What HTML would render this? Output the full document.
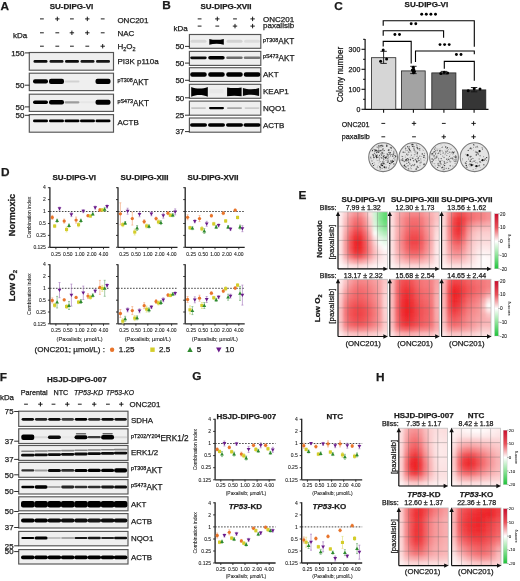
<!DOCTYPE html>
<html><head><meta charset="utf-8"><title>Figure</title>
<style>html,body{margin:0;padding:0;background:#fff;width:520px;height:581px;overflow:hidden}svg{display:block}.hc1 rect{width:5.34px;height:5.15px}.hc2 rect{width:5.34px;height:5.15px}.hc3 rect{width:5.34px;height:5.15px}.hc4 rect{width:5.34px;height:5.17px}.hc5 rect{width:5.34px;height:5.17px}.hc6 rect{width:5.34px;height:5.17px}.hc7 rect{width:5.28px;height:5.22px}.hc8 rect{width:5.28px;height:5.22px}.hc9 rect{width:5.34px;height:5.21px}.hc10 rect{width:5.34px;height:5.21px}text{font-family:'Liberation Sans', Arial, sans-serif;fill:#1a1a1a;stroke:#1a1a1a;stroke-width:0.25px}</style>
</head><body>
<svg width="520" height="581" viewBox="0 0 520 581">
<defs>
<filter id="bl" x="-20%" y="-100%" width="140%" height="300%"><feGaussianBlur stdDeviation="0.55"/></filter>
<filter id="hb" x="-10%" y="-10%" width="120%" height="120%"><feGaussianBlur stdDeviation="1.6"/></filter>
<linearGradient id="cbg" x1="0" y1="0" x2="0" y2="1">
<stop offset="0" stop-color="#c8102e"/><stop offset="0.25" stop-color="#e8525a"/><stop offset="0.5" stop-color="#ffffff"/><stop offset="0.75" stop-color="#8fe39a"/><stop offset="1" stop-color="#1ec23a"/>
</linearGradient>
</defs>
<text x="0.6" y="9.6" font-size="11.8" font-weight="bold" fill="#000">A</text>
<text x="49.7" y="9.2" font-size="8" font-weight="bold">SU-DIPG-VI</text>
<line x1="40.0" y1="18.9" x2="43.8" y2="18.9" stroke="#111" stroke-width="0.95"/>
<line x1="55.1" y1="18.9" x2="59.5" y2="18.9" stroke="#111" stroke-width="0.95"/>
<line x1="57.3" y1="16.7" x2="57.3" y2="21.1" stroke="#111" stroke-width="0.95"/>
<line x1="70.0" y1="18.9" x2="73.8" y2="18.9" stroke="#111" stroke-width="0.95"/>
<line x1="85.1" y1="18.9" x2="89.5" y2="18.9" stroke="#111" stroke-width="0.95"/>
<line x1="87.3" y1="16.7" x2="87.3" y2="21.1" stroke="#111" stroke-width="0.95"/>
<line x1="100.8" y1="18.9" x2="104.6" y2="18.9" stroke="#111" stroke-width="0.95"/>
<text x="117.4" y="22.6" font-size="8">ONC201</text>
<line x1="40.0" y1="32.8" x2="43.8" y2="32.8" stroke="#111" stroke-width="0.95"/>
<line x1="55.4" y1="32.8" x2="59.2" y2="32.8" stroke="#111" stroke-width="0.95"/>
<line x1="69.7" y1="32.8" x2="74.1" y2="32.8" stroke="#111" stroke-width="0.95"/>
<line x1="71.9" y1="30.6" x2="71.9" y2="35.0" stroke="#111" stroke-width="0.95"/>
<line x1="85.1" y1="32.8" x2="89.5" y2="32.8" stroke="#111" stroke-width="0.95"/>
<line x1="87.3" y1="30.6" x2="87.3" y2="35.0" stroke="#111" stroke-width="0.95"/>
<line x1="100.8" y1="32.8" x2="104.6" y2="32.8" stroke="#111" stroke-width="0.95"/>
<text x="117.4" y="35.6" font-size="8">NAC</text>
<line x1="40.0" y1="46.2" x2="43.8" y2="46.2" stroke="#111" stroke-width="0.95"/>
<line x1="55.4" y1="46.2" x2="59.2" y2="46.2" stroke="#111" stroke-width="0.95"/>
<line x1="70.0" y1="46.2" x2="73.8" y2="46.2" stroke="#111" stroke-width="0.95"/>
<line x1="85.4" y1="46.2" x2="89.2" y2="46.2" stroke="#111" stroke-width="0.95"/>
<line x1="100.5" y1="46.2" x2="104.9" y2="46.2" stroke="#111" stroke-width="0.95"/>
<line x1="102.7" y1="44.0" x2="102.7" y2="48.4" stroke="#111" stroke-width="0.95"/>
<text x="117.4" y="49.3" font-size="8">H<tspan font-size="5.5" dy="1.8">2</tspan><tspan dy="-1.8">O</tspan><tspan font-size="5.5" dy="1.8">2</tspan></text>
<text x="13.0" y="38.2" font-size="8">kDa</text>
<rect x="29.3" y="52.5" width="84.2" height="17.7" fill="#efefef" stroke="#555" stroke-width="1.15"/>
<rect x="29.3" y="73.2" width="84.2" height="17.4" fill="#efefef" stroke="#555" stroke-width="1.15"/>
<rect x="29.3" y="94.2" width="84.2" height="17.2" fill="#efefef" stroke="#555" stroke-width="1.15"/>
<rect x="29.3" y="114.6" width="84.2" height="17.6" fill="#efefef" stroke="#555" stroke-width="1.15"/>
<rect x="33.5" y="60.1" width="14.0" height="2.6" rx="1.3" fill="#000" fill-opacity="0.95" filter="url(#bl)"/>
<rect x="49.5" y="60.1" width="14.0" height="2.6" rx="1.3" fill="#000" fill-opacity="0.90" filter="url(#bl)"/>
<rect x="65.0" y="60.1" width="14.0" height="2.6" rx="1.3" fill="#000" fill-opacity="0.95" filter="url(#bl)"/>
<rect x="80.5" y="60.1" width="14.0" height="2.6" rx="1.3" fill="#000" fill-opacity="0.90" filter="url(#bl)"/>
<rect x="96.0" y="60.1" width="14.0" height="2.6" rx="1.3" fill="#000" fill-opacity="0.90" filter="url(#bl)"/>
<rect x="33.0" y="79.3" width="15.0" height="4.2" rx="2.0" fill="#000" fill-opacity="1.00" filter="url(#bl)"/>
<rect x="49.0" y="78.8" width="15.0" height="5.2" rx="2.0" fill="#000" fill-opacity="1.00" filter="url(#bl)"/>
<rect x="64.5" y="80.4" width="15.0" height="2.0" rx="1.0" fill="#000" fill-opacity="0.12" filter="url(#bl)"/>
<rect x="95.5" y="78.8" width="15.0" height="5.2" rx="2.0" fill="#000" fill-opacity="1.00" filter="url(#bl)"/>
<rect x="33.0" y="100.5" width="15.0" height="3.6" rx="1.8" fill="#000" fill-opacity="1.00" filter="url(#bl)"/>
<rect x="49.0" y="100.0" width="15.0" height="4.6" rx="2.0" fill="#000" fill-opacity="1.00" filter="url(#bl)"/>
<rect x="64.5" y="101.2" width="15.0" height="2.2" rx="1.1" fill="#000" fill-opacity="0.35" filter="url(#bl)"/>
<rect x="80.0" y="101.3" width="15.0" height="2.0" rx="1.0" fill="#000" fill-opacity="0.04" filter="url(#bl)"/>
<rect x="95.5" y="99.8" width="15.0" height="5.0" rx="2.0" fill="#000" fill-opacity="1.00" filter="url(#bl)"/>
<rect x="33.0" y="119.5" width="15.0" height="2.8" rx="1.4" fill="#000" fill-opacity="1.00" filter="url(#bl)"/>
<rect x="49.0" y="119.5" width="15.0" height="2.8" rx="1.4" fill="#000" fill-opacity="1.00" filter="url(#bl)"/>
<rect x="64.5" y="119.5" width="15.0" height="2.8" rx="1.4" fill="#000" fill-opacity="1.00" filter="url(#bl)"/>
<rect x="80.0" y="119.5" width="15.0" height="2.8" rx="1.4" fill="#000" fill-opacity="1.00" filter="url(#bl)"/>
<rect x="95.5" y="119.5" width="15.0" height="2.8" rx="1.4" fill="#000" fill-opacity="1.00" filter="url(#bl)"/>
<text x="24.5" y="55.7" font-size="8" text-anchor="end">150</text>
<line x1="25.0" y1="52.9" x2="29.3" y2="52.9" stroke="#1a1a1a" stroke-width="0.9"/>
<text x="24.5" y="88.0" font-size="8" text-anchor="end">50</text>
<line x1="25.0" y1="85.2" x2="29.3" y2="85.2" stroke="#1a1a1a" stroke-width="0.9"/>
<text x="24.5" y="109.7" font-size="8" text-anchor="end">50</text>
<line x1="25.0" y1="106.9" x2="29.3" y2="106.9" stroke="#1a1a1a" stroke-width="0.9"/>
<text x="24.5" y="118.1" font-size="8" text-anchor="end">50</text>
<line x1="25.0" y1="115.3" x2="29.3" y2="115.3" stroke="#1a1a1a" stroke-width="0.9"/>
<text x="117.4" y="64.2" font-size="8">PI3K p110a</text>
<text x="117.4" y="84.8" font-size="8.2"><tspan font-size="5.4" dy="-2.8">pT308</tspan><tspan dy="2.8">AKT</tspan></text>
<text x="117.4" y="105.8" font-size="8.2"><tspan font-size="5.4" dy="-2.8">pS473</tspan><tspan dy="2.8">AKT</tspan></text>
<text x="117.4" y="125.3" font-size="8">ACTB</text>
<text x="162.3" y="9.4" font-size="11.8" font-weight="bold" fill="#000">B</text>
<text x="200.4" y="9.0" font-size="8" font-weight="bold">SU-DIPG-XVII</text>
<line x1="197.7" y1="18.9" x2="201.5" y2="18.9" stroke="#111" stroke-width="0.95"/>
<line x1="215.1" y1="18.9" x2="219.5" y2="18.9" stroke="#111" stroke-width="0.95"/>
<line x1="217.3" y1="16.7" x2="217.3" y2="21.1" stroke="#111" stroke-width="0.95"/>
<line x1="233.1" y1="18.9" x2="236.9" y2="18.9" stroke="#111" stroke-width="0.95"/>
<line x1="250.4" y1="18.9" x2="254.8" y2="18.9" stroke="#111" stroke-width="0.95"/>
<line x1="252.6" y1="16.7" x2="252.6" y2="21.1" stroke="#111" stroke-width="0.95"/>
<line x1="197.7" y1="26.1" x2="201.5" y2="26.1" stroke="#111" stroke-width="0.95"/>
<line x1="215.4" y1="26.1" x2="219.2" y2="26.1" stroke="#111" stroke-width="0.95"/>
<line x1="232.8" y1="26.1" x2="237.2" y2="26.1" stroke="#111" stroke-width="0.95"/>
<line x1="235.0" y1="23.9" x2="235.0" y2="28.3" stroke="#111" stroke-width="0.95"/>
<line x1="250.4" y1="26.1" x2="254.8" y2="26.1" stroke="#111" stroke-width="0.95"/>
<line x1="252.6" y1="23.9" x2="252.6" y2="28.3" stroke="#111" stroke-width="0.95"/>
<text x="263.0" y="21.7" font-size="8">ONC201</text>
<text x="263.0" y="28.4" font-size="8">paxalisib</text>
<text x="173.5" y="31.4" font-size="8">kDa</text>
<rect x="189.4" y="34.5" width="71.4" height="13.8" fill="#efefef" stroke="#555" stroke-width="1.15"/>
<rect x="189.4" y="51.4" width="71.4" height="14.0" fill="#efefef" stroke="#555" stroke-width="1.15"/>
<rect x="189.4" y="67.7" width="71.4" height="13.8" fill="#efefef" stroke="#555" stroke-width="1.15"/>
<rect x="189.4" y="84.3" width="71.4" height="14.0" fill="#efefef" stroke="#555" stroke-width="1.15"/>
<rect x="189.4" y="101.1" width="71.4" height="14.1" fill="#efefef" stroke="#555" stroke-width="1.15"/>
<rect x="189.4" y="118.0" width="71.4" height="14.2" fill="#efefef" stroke="#555" stroke-width="1.15"/>
<rect x="190.5" y="39.7" width="16.0" height="3.0" rx="1.5" fill="#000" fill-opacity="0.10" filter="url(#bl)"/>
<rect x="226.5" y="39.7" width="16.0" height="3.0" rx="1.5" fill="#000" fill-opacity="0.12" filter="url(#bl)"/>
<rect x="244.0" y="39.7" width="16.0" height="3.0" rx="1.5" fill="#000" fill-opacity="0.08" filter="url(#bl)"/>
<path d="M209.3,38.9 C213.7,40.1 219.5,40.1 223.8,38.9 L223.8,44.7 C219.5,43.5 213.7,43.5 209.3,44.7 Z" fill="#000" fill-opacity="1.00" filter="url(#bl)"/>
<rect x="190.2" y="56.4" width="16.5" height="2.8" rx="1.4" fill="#000" fill-opacity="0.95" filter="url(#bl)"/>
<rect x="208.2" y="56.0" width="16.5" height="3.6" rx="1.8" fill="#000" fill-opacity="1.00" filter="url(#bl)"/>
<rect x="226.2" y="56.6" width="16.5" height="2.4" rx="1.2" fill="#000" fill-opacity="0.55" filter="url(#bl)"/>
<rect x="243.8" y="56.6" width="16.5" height="2.4" rx="1.2" fill="#000" fill-opacity="0.50" filter="url(#bl)"/>
<rect x="190.2" y="72.3" width="16.5" height="4.4" rx="2.0" fill="#000" fill-opacity="1.00" filter="url(#bl)"/>
<rect x="208.2" y="72.3" width="16.5" height="4.4" rx="2.0" fill="#000" fill-opacity="1.00" filter="url(#bl)"/>
<rect x="226.2" y="72.3" width="16.5" height="4.4" rx="2.0" fill="#000" fill-opacity="1.00" filter="url(#bl)"/>
<rect x="243.8" y="72.3" width="16.5" height="4.4" rx="2.0" fill="#000" fill-opacity="1.00" filter="url(#bl)"/>
<path d="M191.2,86.9 C196.2,89.2 202.8,89.2 207.8,86.9 L207.8,96.7 C202.8,94.4 196.2,94.4 191.2,96.7 Z" fill="#000" fill-opacity="1.00" filter="url(#bl)"/>
<path d="M209.5,89.2 C213.7,89.2 219.3,89.2 223.5,89.2 L223.5,93.2 C219.3,93.2 213.7,93.2 209.5,93.2 Z" fill="#000" fill-opacity="0.03" filter="url(#bl)"/>
<path d="M227.1,87.5 C231.4,88.3 237.2,88.3 241.6,87.5 L241.6,96.3 C237.2,95.5 231.4,95.5 227.1,96.3 Z" fill="#000" fill-opacity="1.00" filter="url(#bl)"/>
<path d="M242.9,87.9 C247.8,89.8 254.2,89.8 259.1,87.9 L259.1,96.1 C254.2,94.2 247.8,94.2 242.9,96.1 Z" fill="#000" fill-opacity="0.97" filter="url(#bl)"/>
<rect x="191.0" y="107.3" width="15.0" height="1.6" rx="0.8" fill="#000" fill-opacity="0.18" filter="url(#bl)"/>
<rect x="209.0" y="107.0" width="15.0" height="2.2" rx="1.1" fill="#000" fill-opacity="1.00" filter="url(#bl)"/>
<rect x="227.0" y="107.2" width="15.0" height="1.8" rx="0.9" fill="#000" fill-opacity="0.30" filter="url(#bl)"/>
<rect x="244.5" y="107.3" width="15.0" height="1.6" rx="0.8" fill="#000" fill-opacity="0.15" filter="url(#bl)"/>
<rect x="190.0" y="123.2" width="17.0" height="3.6" rx="1.8" fill="#000" fill-opacity="1.00" filter="url(#bl)"/>
<rect x="208.0" y="123.2" width="17.0" height="3.6" rx="1.8" fill="#000" fill-opacity="1.00" filter="url(#bl)"/>
<rect x="226.0" y="123.2" width="17.0" height="3.6" rx="1.8" fill="#000" fill-opacity="1.00" filter="url(#bl)"/>
<rect x="243.5" y="123.2" width="17.0" height="3.6" rx="1.8" fill="#000" fill-opacity="1.00" filter="url(#bl)"/>
<text x="184.3" y="49.2" font-size="8" text-anchor="end">50</text>
<line x1="185.0" y1="46.4" x2="189.4" y2="46.4" stroke="#1a1a1a" stroke-width="0.9"/>
<text x="184.3" y="65.9" font-size="8" text-anchor="end">50</text>
<line x1="185.0" y1="63.1" x2="189.4" y2="63.1" stroke="#1a1a1a" stroke-width="0.9"/>
<text x="184.3" y="83.1" font-size="8" text-anchor="end">50</text>
<line x1="185.0" y1="80.3" x2="189.4" y2="80.3" stroke="#1a1a1a" stroke-width="0.9"/>
<text x="184.3" y="100.6" font-size="8" text-anchor="end">50</text>
<line x1="185.0" y1="97.8" x2="189.4" y2="97.8" stroke="#1a1a1a" stroke-width="0.9"/>
<text x="184.3" y="118.0" font-size="8" text-anchor="end">25</text>
<line x1="185.0" y1="115.2" x2="189.4" y2="115.2" stroke="#1a1a1a" stroke-width="0.9"/>
<text x="184.3" y="134.4" font-size="8" text-anchor="end">37</text>
<line x1="185.0" y1="131.6" x2="189.4" y2="131.6" stroke="#1a1a1a" stroke-width="0.9"/>
<text x="263.0" y="44.4" font-size="8.2"><tspan font-size="5.4" dy="-2.8">pT308</tspan><tspan dy="2.8">AKT</tspan></text>
<text x="263.0" y="61.2" font-size="8.2"><tspan font-size="5.4" dy="-2.8">pS473</tspan><tspan dy="2.8">AKT</tspan></text>
<text x="263.0" y="77.4" font-size="8">AKT</text>
<text x="263.0" y="94.0" font-size="8">KEAP1</text>
<text x="263.0" y="111.0" font-size="8">NQO1</text>
<text x="263.0" y="127.9" font-size="8">ACTB</text>
<text x="334.2" y="9.9" font-size="11.8" font-weight="bold" fill="#000">C</text>
<text x="404.6" y="7.0" font-size="8" font-weight="bold">SU-DIPG-VI</text>
<line x1="365.1" y1="39.0" x2="365.1" y2="109.8" stroke="#111" stroke-width="1.2"/>
<line x1="361.5" y1="109.3" x2="365.1" y2="109.3" stroke="#111" stroke-width="1.1"/>
<text x="360.3" y="111.7" font-size="7" text-anchor="end" fill="#333">0</text>
<line x1="361.5" y1="89.3" x2="365.1" y2="89.3" stroke="#111" stroke-width="1.1"/>
<text x="360.3" y="91.7" font-size="7" text-anchor="end" fill="#333">100</text>
<line x1="361.5" y1="69.3" x2="365.1" y2="69.3" stroke="#111" stroke-width="1.1"/>
<text x="360.3" y="71.7" font-size="7" text-anchor="end" fill="#333">200</text>
<line x1="361.5" y1="49.3" x2="365.1" y2="49.3" stroke="#111" stroke-width="1.1"/>
<text x="360.3" y="51.7" font-size="7" text-anchor="end" fill="#333">300</text>
<line x1="363.1" y1="99.3" x2="365.1" y2="99.3" stroke="#111" stroke-width="1.0"/>
<line x1="363.1" y1="79.3" x2="365.1" y2="79.3" stroke="#111" stroke-width="1.0"/>
<line x1="363.1" y1="59.3" x2="365.1" y2="59.3" stroke="#111" stroke-width="1.0"/>
<line x1="363.1" y1="39.3" x2="365.1" y2="39.3" stroke="#111" stroke-width="1.0"/>
<text transform="translate(342.7,74.6) rotate(-90)" font-size="8.2" text-anchor="middle" fill="#333">Colony number</text>
<line x1="365.1" y1="109.3" x2="488.5" y2="109.3" stroke="#111" stroke-width="1.2"/>
<rect x="371.5" y="57.7" width="24.3" height="51.6" fill="#d6d6d6" stroke="#222" stroke-width="0.8"/>
<line x1="383.6" y1="109.3" x2="383.6" y2="112.8" stroke="#111" stroke-width="1.1"/>
<rect x="401.5" y="70.9" width="23.7" height="38.4" fill="#a3a3a3" stroke="#222" stroke-width="0.8"/>
<line x1="413.4" y1="109.3" x2="413.4" y2="112.8" stroke="#111" stroke-width="1.1"/>
<rect x="431.8" y="72.9" width="24.1" height="36.4" fill="#6b6b6b" stroke="#222" stroke-width="0.8"/>
<line x1="443.9" y1="109.3" x2="443.9" y2="112.8" stroke="#111" stroke-width="1.1"/>
<rect x="462.4" y="89.9" width="23.4" height="19.4" fill="#363636" stroke="#222" stroke-width="0.8"/>
<line x1="474.1" y1="109.3" x2="474.1" y2="112.8" stroke="#111" stroke-width="1.1"/>
<line x1="383.6" y1="63.4" x2="383.6" y2="51.3" stroke="#111" stroke-width="0.9"/>
<line x1="380.4" y1="51.3" x2="386.8" y2="51.3" stroke="#111" stroke-width="0.9"/>
<line x1="380.4" y1="63.4" x2="386.8" y2="63.4" stroke="#111" stroke-width="0.9"/>
<line x1="413.4" y1="73.6" x2="413.4" y2="66.3" stroke="#111" stroke-width="0.9"/>
<line x1="410.2" y1="66.3" x2="416.6" y2="66.3" stroke="#111" stroke-width="0.9"/>
<line x1="410.2" y1="73.6" x2="416.6" y2="73.6" stroke="#111" stroke-width="0.9"/>
<line x1="443.9" y1="74.0" x2="443.9" y2="71.4" stroke="#111" stroke-width="0.9"/>
<line x1="440.7" y1="71.4" x2="447.1" y2="71.4" stroke="#111" stroke-width="0.9"/>
<line x1="440.7" y1="74.0" x2="447.1" y2="74.0" stroke="#111" stroke-width="0.9"/>
<line x1="474.1" y1="91.8" x2="474.1" y2="87.5" stroke="#111" stroke-width="0.9"/>
<line x1="470.9" y1="87.5" x2="477.3" y2="87.5" stroke="#111" stroke-width="0.9"/>
<line x1="470.9" y1="91.8" x2="477.3" y2="91.8" stroke="#111" stroke-width="0.9"/>
<circle cx="383.2" cy="50.0" r="1.5" fill="#000"/>
<circle cx="380.6" cy="61.2" r="1.5" fill="#000"/>
<circle cx="386.6" cy="59.0" r="1.5" fill="#000"/>
<circle cx="413.3" cy="67.3" r="1.5" fill="#000"/>
<circle cx="413.6" cy="69.2" r="1.5" fill="#000"/>
<circle cx="413.2" cy="71.0" r="1.5" fill="#000"/>
<circle cx="413.5" cy="72.8" r="1.5" fill="#000"/>
<circle cx="412.4" cy="70.0" r="1.5" fill="#000"/>
<circle cx="414.5" cy="71.5" r="1.5" fill="#000"/>
<circle cx="440.8" cy="73.4" r="1.5" fill="#000"/>
<circle cx="444.2" cy="72.3" r="1.5" fill="#000"/>
<circle cx="447.6" cy="73.1" r="1.5" fill="#000"/>
<circle cx="468.2" cy="90.8" r="1.5" fill="#000"/>
<circle cx="474.2" cy="88.7" r="1.5" fill="#000"/>
<circle cx="480.0" cy="89.0" r="1.5" fill="#000"/>
<path d="M383.2,25.8 L383.2,20.8 L474.3,20.8 L474.3,46.8" fill="none" stroke="#000" stroke-width="1.1"/>
<path d="M383.2,35.8 L383.2,30.8 L443.6,30.8 L443.6,37.8" fill="none" stroke="#000" stroke-width="1.1"/>
<path d="M383.2,46.6 L383.2,41.4 L411.2,41.4 L411.2,63.6" fill="none" stroke="#000" stroke-width="1.1"/>
<path d="M415.5,62.0 L415.5,51.0 L474.3,51.0 L474.3,54.2" fill="none" stroke="#000" stroke-width="1.1"/>
<path d="M444.3,68.7 L444.3,61.4 L474.3,61.4 L474.3,80.8" fill="none" stroke="#000" stroke-width="1.1"/>
<circle cx="421.7" cy="14.2" r="1.45" fill="#000"/>
<circle cx="426.3" cy="14.2" r="1.45" fill="#000"/>
<circle cx="430.9" cy="14.2" r="1.45" fill="#000"/>
<circle cx="435.5" cy="14.2" r="1.45" fill="#000"/>
<circle cx="411.2" cy="23.8" r="1.45" fill="#000"/>
<circle cx="415.8" cy="23.8" r="1.45" fill="#000"/>
<circle cx="394.9" cy="34.5" r="1.45" fill="#000"/>
<circle cx="399.5" cy="34.5" r="1.45" fill="#000"/>
<circle cx="440.0" cy="44.6" r="1.45" fill="#000"/>
<circle cx="444.6" cy="44.6" r="1.45" fill="#000"/>
<circle cx="449.2" cy="44.6" r="1.45" fill="#000"/>
<circle cx="456.4" cy="54.5" r="1.45" fill="#000"/>
<circle cx="461.0" cy="54.5" r="1.45" fill="#000"/>
<text x="341.8" y="126.6" font-size="7.1" fill="#222">ONC201</text>
<text x="341.8" y="139.4" font-size="7.2" fill="#222">paxalisib</text>
<line x1="381.4" y1="123.4" x2="385.2" y2="123.4" stroke="#111" stroke-width="0.95"/>
<line x1="411.8" y1="123.4" x2="416.2" y2="123.4" stroke="#111" stroke-width="0.95"/>
<line x1="414.0" y1="121.2" x2="414.0" y2="125.6" stroke="#111" stroke-width="0.95"/>
<line x1="441.9" y1="123.4" x2="445.7" y2="123.4" stroke="#111" stroke-width="0.95"/>
<line x1="471.4" y1="123.4" x2="475.8" y2="123.4" stroke="#111" stroke-width="0.95"/>
<line x1="473.6" y1="121.2" x2="473.6" y2="125.6" stroke="#111" stroke-width="0.95"/>
<line x1="381.4" y1="136.8" x2="385.2" y2="136.8" stroke="#111" stroke-width="0.95"/>
<line x1="412.1" y1="136.8" x2="415.9" y2="136.8" stroke="#111" stroke-width="0.95"/>
<line x1="441.6" y1="136.8" x2="446.0" y2="136.8" stroke="#111" stroke-width="0.95"/>
<line x1="443.8" y1="134.6" x2="443.8" y2="139.0" stroke="#111" stroke-width="0.95"/>
<line x1="471.4" y1="136.8" x2="475.8" y2="136.8" stroke="#111" stroke-width="0.95"/>
<line x1="473.6" y1="134.6" x2="473.6" y2="139.0" stroke="#111" stroke-width="0.95"/>
<circle cx="383.1" cy="157.2" r="14.4" fill="#e4e4e4" stroke="#7a7a7a" stroke-width="1.1"/>
<circle cx="378.5" cy="148.1" r="0.35" fill="#111" fill-opacity="0.39"/>
<circle cx="384.0" cy="153.7" r="0.35" fill="#111" fill-opacity="0.90"/>
<circle cx="381.0" cy="150.5" r="0.7" fill="#111" fill-opacity="0.39"/>
<circle cx="384.8" cy="168.8" r="0.35" fill="#111" fill-opacity="0.70"/>
<circle cx="380.4" cy="169.6" r="0.35" fill="#111" fill-opacity="0.68"/>
<circle cx="373.6" cy="155.1" r="0.35" fill="#111" fill-opacity="0.69"/>
<circle cx="384.7" cy="161.9" r="0.35" fill="#111" fill-opacity="0.70"/>
<circle cx="386.7" cy="153.9" r="0.35" fill="#111" fill-opacity="0.69"/>
<circle cx="386.2" cy="157.1" r="0.7" fill="#111" fill-opacity="0.82"/>
<circle cx="382.2" cy="168.2" r="0.55" fill="#111" fill-opacity="0.53"/>
<circle cx="390.8" cy="162.4" r="0.45" fill="#111" fill-opacity="0.40"/>
<circle cx="377.9" cy="157.1" r="0.55" fill="#111" fill-opacity="0.79"/>
<circle cx="373.2" cy="155.1" r="0.55" fill="#111" fill-opacity="0.44"/>
<circle cx="382.8" cy="145.2" r="0.35" fill="#111" fill-opacity="0.81"/>
<circle cx="385.0" cy="167.0" r="0.55" fill="#111" fill-opacity="0.55"/>
<circle cx="379.2" cy="157.1" r="0.7" fill="#111" fill-opacity="0.39"/>
<circle cx="372.5" cy="151.2" r="0.35" fill="#111" fill-opacity="0.39"/>
<circle cx="388.3" cy="161.0" r="0.7" fill="#111" fill-opacity="0.52"/>
<circle cx="380.1" cy="161.6" r="0.35" fill="#111" fill-opacity="0.91"/>
<circle cx="379.3" cy="160.1" r="0.7" fill="#111" fill-opacity="0.39"/>
<circle cx="390.1" cy="147.6" r="0.45" fill="#111" fill-opacity="0.59"/>
<circle cx="393.9" cy="157.1" r="0.45" fill="#111" fill-opacity="0.62"/>
<circle cx="384.4" cy="167.2" r="0.7" fill="#111" fill-opacity="0.87"/>
<circle cx="377.3" cy="155.0" r="0.55" fill="#111" fill-opacity="0.76"/>
<circle cx="380.0" cy="150.2" r="0.35" fill="#111" fill-opacity="0.46"/>
<circle cx="376.1" cy="150.3" r="0.7" fill="#111" fill-opacity="0.85"/>
<circle cx="374.8" cy="151.5" r="0.45" fill="#111" fill-opacity="0.60"/>
<circle cx="379.7" cy="158.9" r="0.45" fill="#111" fill-opacity="0.76"/>
<circle cx="383.5" cy="160.3" r="0.35" fill="#111" fill-opacity="0.62"/>
<circle cx="387.8" cy="158.7" r="0.7" fill="#111" fill-opacity="0.59"/>
<circle cx="372.8" cy="160.7" r="0.35" fill="#111" fill-opacity="0.46"/>
<circle cx="395.7" cy="155.7" r="0.35" fill="#111" fill-opacity="0.55"/>
<circle cx="392.8" cy="160.2" r="0.45" fill="#111" fill-opacity="0.73"/>
<circle cx="394.9" cy="159.9" r="0.7" fill="#111" fill-opacity="0.42"/>
<circle cx="382.2" cy="156.8" r="0.35" fill="#111" fill-opacity="0.44"/>
<circle cx="389.6" cy="163.4" r="0.7" fill="#111" fill-opacity="0.85"/>
<circle cx="394.8" cy="157.9" r="0.45" fill="#111" fill-opacity="0.76"/>
<circle cx="393.9" cy="163.9" r="0.55" fill="#111" fill-opacity="0.94"/>
<circle cx="392.5" cy="162.3" r="0.55" fill="#111" fill-opacity="0.66"/>
<circle cx="393.7" cy="153.4" r="0.45" fill="#111" fill-opacity="0.67"/>
<circle cx="390.4" cy="152.8" r="0.45" fill="#111" fill-opacity="0.72"/>
<circle cx="390.6" cy="163.9" r="0.45" fill="#111" fill-opacity="0.83"/>
<circle cx="391.4" cy="163.4" r="0.45" fill="#111" fill-opacity="0.47"/>
<circle cx="382.9" cy="163.2" r="0.35" fill="#111" fill-opacity="0.82"/>
<circle cx="382.4" cy="149.2" r="0.55" fill="#111" fill-opacity="0.62"/>
<circle cx="394.9" cy="153.7" r="0.45" fill="#111" fill-opacity="0.41"/>
<circle cx="382.3" cy="153.0" r="0.7" fill="#111" fill-opacity="0.72"/>
<circle cx="382.6" cy="161.2" r="0.35" fill="#111" fill-opacity="0.85"/>
<circle cx="373.2" cy="154.3" r="0.45" fill="#111" fill-opacity="0.64"/>
<circle cx="374.7" cy="164.7" r="0.55" fill="#111" fill-opacity="0.40"/>
<circle cx="382.1" cy="163.5" r="0.35" fill="#111" fill-opacity="0.78"/>
<circle cx="391.1" cy="148.0" r="0.7" fill="#111" fill-opacity="0.74"/>
<circle cx="379.2" cy="158.5" r="0.45" fill="#111" fill-opacity="0.36"/>
<circle cx="390.9" cy="163.1" r="0.35" fill="#111" fill-opacity="0.67"/>
<circle cx="394.4" cy="155.5" r="0.45" fill="#111" fill-opacity="0.85"/>
<circle cx="375.6" cy="150.7" r="0.55" fill="#111" fill-opacity="0.65"/>
<circle cx="390.0" cy="152.7" r="0.7" fill="#111" fill-opacity="0.85"/>
<circle cx="393.4" cy="161.4" r="0.7" fill="#111" fill-opacity="0.85"/>
<circle cx="374.0" cy="157.5" r="0.7" fill="#111" fill-opacity="0.82"/>
<circle cx="385.9" cy="164.4" r="0.45" fill="#111" fill-opacity="0.45"/>
<circle cx="382.4" cy="163.1" r="0.35" fill="#111" fill-opacity="0.55"/>
<circle cx="383.6" cy="158.6" r="0.35" fill="#111" fill-opacity="0.88"/>
<circle cx="381.9" cy="144.9" r="0.35" fill="#111" fill-opacity="0.62"/>
<circle cx="386.0" cy="157.3" r="0.45" fill="#111" fill-opacity="0.77"/>
<circle cx="381.9" cy="158.1" r="0.7" fill="#111" fill-opacity="0.65"/>
<circle cx="376.5" cy="157.8" r="0.55" fill="#111" fill-opacity="0.90"/>
<circle cx="381.7" cy="155.0" r="0.7" fill="#111" fill-opacity="0.62"/>
<circle cx="372.0" cy="161.6" r="0.35" fill="#111" fill-opacity="0.89"/>
<circle cx="374.1" cy="162.8" r="0.55" fill="#111" fill-opacity="0.44"/>
<circle cx="380.5" cy="156.9" r="0.45" fill="#111" fill-opacity="0.45"/>
<circle cx="381.3" cy="157.6" r="0.55" fill="#111" fill-opacity="0.60"/>
<circle cx="379.4" cy="146.6" r="0.55" fill="#111" fill-opacity="0.36"/>
<circle cx="384.5" cy="155.7" r="0.35" fill="#111" fill-opacity="0.58"/>
<circle cx="383.6" cy="151.9" r="0.35" fill="#111" fill-opacity="0.42"/>
<circle cx="377.2" cy="167.8" r="0.45" fill="#111" fill-opacity="0.51"/>
<circle cx="373.5" cy="155.2" r="0.55" fill="#111" fill-opacity="0.59"/>
<circle cx="384.1" cy="157.6" r="0.7" fill="#111" fill-opacity="0.77"/>
<circle cx="388.0" cy="155.3" r="0.35" fill="#111" fill-opacity="0.51"/>
<circle cx="376.9" cy="160.0" r="0.45" fill="#111" fill-opacity="0.39"/>
<circle cx="392.5" cy="156.0" r="0.55" fill="#111" fill-opacity="0.95"/>
<circle cx="381.0" cy="168.0" r="0.45" fill="#111" fill-opacity="0.38"/>
<circle cx="388.5" cy="168.6" r="0.45" fill="#111" fill-opacity="0.51"/>
<circle cx="386.4" cy="158.0" r="0.45" fill="#111" fill-opacity="0.52"/>
<circle cx="383.1" cy="148.8" r="0.55" fill="#111" fill-opacity="0.83"/>
<circle cx="370.6" cy="157.3" r="0.45" fill="#111" fill-opacity="0.66"/>
<circle cx="376.5" cy="155.8" r="0.7" fill="#111" fill-opacity="0.74"/>
<circle cx="384.3" cy="167.3" r="0.55" fill="#111" fill-opacity="0.76"/>
<circle cx="391.7" cy="162.6" r="0.45" fill="#111" fill-opacity="0.59"/>
<circle cx="379.1" cy="145.6" r="0.45" fill="#111" fill-opacity="0.36"/>
<circle cx="386.4" cy="167.1" r="0.7" fill="#111" fill-opacity="0.45"/>
<circle cx="392.7" cy="161.6" r="0.55" fill="#111" fill-opacity="0.71"/>
<circle cx="374.9" cy="151.2" r="0.35" fill="#111" fill-opacity="0.51"/>
<circle cx="384.3" cy="150.6" r="0.55" fill="#111" fill-opacity="0.48"/>
<circle cx="374.9" cy="152.9" r="0.35" fill="#111" fill-opacity="0.63"/>
<circle cx="383.2" cy="149.4" r="0.35" fill="#111" fill-opacity="0.40"/>
<circle cx="391.3" cy="147.9" r="0.35" fill="#111" fill-opacity="0.59"/>
<circle cx="377.9" cy="160.6" r="0.35" fill="#111" fill-opacity="0.70"/>
<circle cx="383.9" cy="163.7" r="0.7" fill="#111" fill-opacity="0.81"/>
<circle cx="388.8" cy="157.0" r="0.55" fill="#111" fill-opacity="0.78"/>
<circle cx="386.8" cy="145.3" r="0.7" fill="#111" fill-opacity="0.79"/>
<circle cx="391.2" cy="147.8" r="0.35" fill="#111" fill-opacity="0.85"/>
<circle cx="385.3" cy="167.4" r="0.45" fill="#111" fill-opacity="0.40"/>
<circle cx="371.2" cy="160.8" r="0.35" fill="#111" fill-opacity="0.58"/>
<circle cx="381.8" cy="145.5" r="0.35" fill="#111" fill-opacity="0.73"/>
<circle cx="387.8" cy="156.9" r="0.35" fill="#111" fill-opacity="0.62"/>
<circle cx="383.8" cy="163.6" r="0.7" fill="#111" fill-opacity="0.50"/>
<circle cx="372.0" cy="151.1" r="0.45" fill="#111" fill-opacity="0.49"/>
<circle cx="387.0" cy="156.2" r="0.7" fill="#111" fill-opacity="0.40"/>
<circle cx="393.8" cy="151.7" r="0.35" fill="#111" fill-opacity="0.72"/>
<circle cx="386.8" cy="146.2" r="0.45" fill="#111" fill-opacity="0.55"/>
<circle cx="387.0" cy="162.2" r="0.45" fill="#111" fill-opacity="0.36"/>
<circle cx="387.6" cy="162.2" r="0.7" fill="#111" fill-opacity="0.52"/>
<circle cx="383.5" cy="156.3" r="0.7" fill="#111" fill-opacity="0.81"/>
<circle cx="378.2" cy="146.4" r="0.7" fill="#111" fill-opacity="0.36"/>
<circle cx="382.0" cy="165.5" r="0.7" fill="#111" fill-opacity="0.95"/>
<circle cx="380.2" cy="168.0" r="0.45" fill="#111" fill-opacity="0.39"/>
<circle cx="372.4" cy="163.6" r="0.55" fill="#111" fill-opacity="0.92"/>
<circle cx="373.5" cy="165.5" r="0.55" fill="#111" fill-opacity="0.88"/>
<circle cx="388.4" cy="150.2" r="0.7" fill="#111" fill-opacity="0.59"/>
<circle cx="387.8" cy="154.7" r="0.45" fill="#111" fill-opacity="0.60"/>
<circle cx="379.9" cy="147.3" r="0.55" fill="#111" fill-opacity="0.35"/>
<circle cx="389.6" cy="166.0" r="0.35" fill="#111" fill-opacity="0.91"/>
<circle cx="389.3" cy="150.8" r="0.35" fill="#111" fill-opacity="0.59"/>
<circle cx="379.5" cy="155.3" r="0.55" fill="#111" fill-opacity="0.86"/>
<circle cx="387.3" cy="160.7" r="0.45" fill="#111" fill-opacity="0.50"/>
<circle cx="377.0" cy="157.5" r="0.45" fill="#111" fill-opacity="0.81"/>
<circle cx="390.5" cy="155.3" r="0.35" fill="#111" fill-opacity="0.84"/>
<circle cx="386.5" cy="167.9" r="0.45" fill="#111" fill-opacity="0.78"/>
<circle cx="381.8" cy="163.8" r="0.55" fill="#111" fill-opacity="0.64"/>
<circle cx="393.8" cy="158.5" r="0.45" fill="#111" fill-opacity="0.63"/>
<circle cx="379.0" cy="151.9" r="0.55" fill="#111" fill-opacity="0.59"/>
<circle cx="376.3" cy="156.8" r="0.7" fill="#111" fill-opacity="0.42"/>
<circle cx="386.8" cy="146.2" r="0.7" fill="#111" fill-opacity="0.68"/>
<circle cx="381.9" cy="152.9" r="0.7" fill="#111" fill-opacity="0.61"/>
<circle cx="384.3" cy="150.5" r="0.45" fill="#111" fill-opacity="0.56"/>
<circle cx="372.5" cy="150.4" r="0.55" fill="#111" fill-opacity="0.84"/>
<circle cx="392.7" cy="154.2" r="0.45" fill="#111" fill-opacity="0.58"/>
<circle cx="378.9" cy="145.8" r="0.55" fill="#111" fill-opacity="0.69"/>
<circle cx="379.5" cy="162.1" r="0.45" fill="#111" fill-opacity="0.41"/>
<circle cx="393.4" cy="154.2" r="0.7" fill="#111" fill-opacity="0.61"/>
<circle cx="378.2" cy="165.4" r="0.35" fill="#111" fill-opacity="0.43"/>
<circle cx="381.2" cy="164.1" r="0.7" fill="#111" fill-opacity="0.93"/>
<circle cx="382.8" cy="146.1" r="0.7" fill="#111" fill-opacity="0.93"/>
<circle cx="376.6" cy="147.0" r="0.45" fill="#111" fill-opacity="0.44"/>
<circle cx="391.6" cy="162.4" r="0.7" fill="#111" fill-opacity="0.40"/>
<circle cx="373.4" cy="159.0" r="0.35" fill="#111" fill-opacity="0.74"/>
<circle cx="378.0" cy="147.5" r="0.55" fill="#111" fill-opacity="0.67"/>
<circle cx="381.5" cy="164.1" r="0.35" fill="#111" fill-opacity="0.39"/>
<circle cx="383.7" cy="159.4" r="0.7" fill="#111" fill-opacity="0.51"/>
<circle cx="377.3" cy="152.4" r="0.45" fill="#111" fill-opacity="0.64"/>
<circle cx="376.2" cy="150.6" r="0.7" fill="#111" fill-opacity="0.77"/>
<circle cx="383.1" cy="161.7" r="0.7" fill="#111" fill-opacity="0.40"/>
<circle cx="376.0" cy="155.2" r="0.55" fill="#111" fill-opacity="0.49"/>
<circle cx="381.0" cy="161.9" r="0.45" fill="#111" fill-opacity="0.35"/>
<circle cx="377.7" cy="166.2" r="0.35" fill="#111" fill-opacity="0.47"/>
<circle cx="391.4" cy="150.2" r="0.45" fill="#111" fill-opacity="0.51"/>
<circle cx="386.3" cy="160.1" r="0.45" fill="#111" fill-opacity="0.64"/>
<circle cx="385.6" cy="168.2" r="0.35" fill="#111" fill-opacity="0.48"/>
<circle cx="380.3" cy="167.6" r="0.55" fill="#111" fill-opacity="0.79"/>
<circle cx="378.7" cy="149.0" r="0.7" fill="#111" fill-opacity="0.37"/>
<circle cx="387.4" cy="154.0" r="0.55" fill="#111" fill-opacity="0.94"/>
<circle cx="381.6" cy="147.0" r="0.35" fill="#111" fill-opacity="0.52"/>
<circle cx="379.2" cy="169.0" r="0.35" fill="#111" fill-opacity="0.69"/>
<circle cx="389.8" cy="154.1" r="0.55" fill="#111" fill-opacity="0.84"/>
<circle cx="381.3" cy="145.5" r="0.7" fill="#111" fill-opacity="0.47"/>
<circle cx="384.2" cy="155.8" r="0.55" fill="#111" fill-opacity="0.57"/>
<circle cx="380.8" cy="165.3" r="0.7" fill="#111" fill-opacity="0.37"/>
<circle cx="394.0" cy="150.9" r="0.35" fill="#111" fill-opacity="0.89"/>
<circle cx="378.9" cy="151.3" r="0.35" fill="#111" fill-opacity="0.51"/>
<circle cx="388.7" cy="152.4" r="0.55" fill="#111" fill-opacity="0.53"/>
<circle cx="388.9" cy="159.7" r="0.35" fill="#111" fill-opacity="0.36"/>
<circle cx="376.2" cy="156.6" r="0.7" fill="#111" fill-opacity="0.92"/>
<circle cx="380.1" cy="150.7" r="0.7" fill="#111" fill-opacity="0.84"/>
<circle cx="373.6" cy="157.1" r="0.35" fill="#111" fill-opacity="0.83"/>
<circle cx="389.3" cy="165.6" r="0.45" fill="#111" fill-opacity="0.71"/>
<circle cx="378.6" cy="152.5" r="0.55" fill="#111" fill-opacity="0.82"/>
<circle cx="385.6" cy="157.5" r="0.7" fill="#111" fill-opacity="0.80"/>
<circle cx="371.0" cy="158.6" r="0.55" fill="#111" fill-opacity="0.45"/>
<circle cx="381.2" cy="146.9" r="0.35" fill="#111" fill-opacity="0.51"/>
<circle cx="383.1" cy="162.7" r="0.7" fill="#111" fill-opacity="0.45"/>
<circle cx="373.6" cy="156.2" r="0.45" fill="#111" fill-opacity="0.80"/>
<circle cx="392.1" cy="161.5" r="0.35" fill="#111" fill-opacity="0.82"/>
<circle cx="377.7" cy="151.5" r="0.55" fill="#111" fill-opacity="0.57"/>
<circle cx="389.3" cy="149.4" r="0.45" fill="#111" fill-opacity="0.46"/>
<circle cx="376.2" cy="151.5" r="0.45" fill="#111" fill-opacity="0.55"/>
<circle cx="383.3" cy="150.2" r="0.35" fill="#111" fill-opacity="0.74"/>
<circle cx="382.4" cy="165.5" r="0.7" fill="#111" fill-opacity="0.90"/>
<circle cx="373.2" cy="149.1" r="0.45" fill="#111" fill-opacity="0.91"/>
<circle cx="379.8" cy="166.7" r="0.7" fill="#111" fill-opacity="0.71"/>
<circle cx="390.2" cy="161.5" r="0.35" fill="#111" fill-opacity="0.41"/>
<circle cx="385.6" cy="160.3" r="0.45" fill="#111" fill-opacity="0.37"/>
<circle cx="378.9" cy="145.3" r="0.55" fill="#111" fill-opacity="0.37"/>
<circle cx="389.1" cy="168.0" r="0.35" fill="#111" fill-opacity="0.84"/>
<circle cx="380.7" cy="153.9" r="0.55" fill="#111" fill-opacity="0.40"/>
<circle cx="370.9" cy="157.1" r="0.7" fill="#111" fill-opacity="0.39"/>
<circle cx="372.7" cy="154.5" r="0.45" fill="#111" fill-opacity="0.73"/>
<circle cx="388.2" cy="154.9" r="0.55" fill="#111" fill-opacity="0.75"/>
<circle cx="381.0" cy="145.5" r="0.55" fill="#111" fill-opacity="0.60"/>
<circle cx="391.0" cy="161.0" r="0.7" fill="#111" fill-opacity="0.79"/>
<circle cx="393.5" cy="155.2" r="0.35" fill="#111" fill-opacity="0.59"/>
<circle cx="393.1" cy="156.2" r="0.45" fill="#111" fill-opacity="0.43"/>
<circle cx="391.1" cy="154.5" r="0.55" fill="#111" fill-opacity="0.79"/>
<circle cx="374.6" cy="153.2" r="0.45" fill="#111" fill-opacity="0.66"/>
<circle cx="382.9" cy="165.1" r="0.45" fill="#111" fill-opacity="0.53"/>
<circle cx="393.8" cy="152.4" r="0.7" fill="#111" fill-opacity="0.40"/>
<circle cx="388.6" cy="162.1" r="0.45" fill="#111" fill-opacity="0.73"/>
<circle cx="392.4" cy="160.3" r="0.45" fill="#111" fill-opacity="0.85"/>
<circle cx="374.9" cy="149.9" r="0.7" fill="#111" fill-opacity="0.91"/>
<circle cx="374.2" cy="153.5" r="0.45" fill="#111" fill-opacity="0.50"/>
<circle cx="388.9" cy="167.5" r="0.35" fill="#111" fill-opacity="0.88"/>
<circle cx="392.0" cy="161.7" r="0.55" fill="#111" fill-opacity="0.42"/>
<circle cx="385.7" cy="158.5" r="0.55" fill="#111" fill-opacity="0.74"/>
<circle cx="378.1" cy="150.7" r="0.7" fill="#111" fill-opacity="0.75"/>
<circle cx="381.7" cy="155.6" r="0.35" fill="#111" fill-opacity="0.35"/>
<circle cx="395.7" cy="156.3" r="0.7" fill="#111" fill-opacity="0.81"/>
<circle cx="390.4" cy="156.1" r="0.45" fill="#111" fill-opacity="0.84"/>
<circle cx="380.5" cy="145.9" r="0.55" fill="#111" fill-opacity="0.61"/>
<circle cx="372.5" cy="155.7" r="0.35" fill="#111" fill-opacity="0.37"/>
<circle cx="378.3" cy="162.9" r="0.35" fill="#111" fill-opacity="0.38"/>
<circle cx="383.2" cy="154.0" r="0.45" fill="#111" fill-opacity="0.37"/>
<circle cx="371.8" cy="160.2" r="0.35" fill="#111" fill-opacity="0.47"/>
<circle cx="395.6" cy="157.0" r="0.45" fill="#111" fill-opacity="0.76"/>
<circle cx="388.8" cy="149.9" r="0.55" fill="#111" fill-opacity="0.72"/>
<circle cx="376.7" cy="152.6" r="0.55" fill="#111" fill-opacity="0.89"/>
<circle cx="382.0" cy="150.8" r="0.7" fill="#111" fill-opacity="0.47"/>
<circle cx="376.9" cy="157.4" r="0.55" fill="#111" fill-opacity="0.57"/>
<circle cx="375.3" cy="154.7" r="0.55" fill="#111" fill-opacity="0.76"/>
<circle cx="390.5" cy="147.2" r="0.35" fill="#111" fill-opacity="0.73"/>
<circle cx="379.5" cy="166.9" r="0.35" fill="#111" fill-opacity="0.50"/>
<circle cx="384.0" cy="166.5" r="0.55" fill="#111" fill-opacity="0.51"/>
<circle cx="413.4" cy="157.2" r="14.4" fill="#e4e4e4" stroke="#7a7a7a" stroke-width="1.1"/>
<circle cx="409.8" cy="164.1" r="0.7" fill="#111" fill-opacity="0.47"/>
<circle cx="416.4" cy="169.1" r="0.55" fill="#111" fill-opacity="0.76"/>
<circle cx="407.0" cy="160.8" r="0.55" fill="#111" fill-opacity="0.72"/>
<circle cx="419.8" cy="150.0" r="0.55" fill="#111" fill-opacity="0.66"/>
<circle cx="411.6" cy="157.5" r="0.35" fill="#111" fill-opacity="0.42"/>
<circle cx="406.3" cy="161.2" r="0.35" fill="#111" fill-opacity="0.38"/>
<circle cx="415.1" cy="152.1" r="0.55" fill="#111" fill-opacity="0.62"/>
<circle cx="411.1" cy="152.0" r="0.45" fill="#111" fill-opacity="0.45"/>
<circle cx="416.6" cy="156.5" r="0.45" fill="#111" fill-opacity="0.36"/>
<circle cx="421.2" cy="162.6" r="0.7" fill="#111" fill-opacity="0.40"/>
<circle cx="417.0" cy="166.9" r="0.55" fill="#111" fill-opacity="0.55"/>
<circle cx="417.2" cy="158.8" r="0.55" fill="#111" fill-opacity="0.65"/>
<circle cx="415.4" cy="159.8" r="0.7" fill="#111" fill-opacity="0.47"/>
<circle cx="414.2" cy="154.8" r="0.45" fill="#111" fill-opacity="0.43"/>
<circle cx="416.3" cy="161.3" r="0.45" fill="#111" fill-opacity="0.42"/>
<circle cx="405.6" cy="160.0" r="0.7" fill="#111" fill-opacity="0.76"/>
<circle cx="404.9" cy="152.2" r="0.55" fill="#111" fill-opacity="0.66"/>
<circle cx="412.8" cy="158.2" r="0.7" fill="#111" fill-opacity="0.77"/>
<circle cx="419.8" cy="156.3" r="0.7" fill="#111" fill-opacity="0.44"/>
<circle cx="417.1" cy="147.4" r="0.55" fill="#111" fill-opacity="0.71"/>
<circle cx="407.3" cy="158.6" r="0.7" fill="#111" fill-opacity="0.69"/>
<circle cx="408.1" cy="168.3" r="0.45" fill="#111" fill-opacity="0.39"/>
<circle cx="413.6" cy="148.6" r="0.45" fill="#111" fill-opacity="0.77"/>
<circle cx="405.7" cy="148.3" r="0.55" fill="#111" fill-opacity="0.45"/>
<circle cx="410.5" cy="159.8" r="0.7" fill="#111" fill-opacity="0.80"/>
<circle cx="416.8" cy="162.2" r="0.7" fill="#111" fill-opacity="0.59"/>
<circle cx="406.5" cy="167.2" r="0.45" fill="#111" fill-opacity="0.55"/>
<circle cx="415.6" cy="158.9" r="0.45" fill="#111" fill-opacity="0.42"/>
<circle cx="424.6" cy="153.2" r="0.45" fill="#111" fill-opacity="0.70"/>
<circle cx="417.1" cy="145.3" r="0.35" fill="#111" fill-opacity="0.72"/>
<circle cx="402.1" cy="159.6" r="0.55" fill="#111" fill-opacity="0.45"/>
<circle cx="425.2" cy="158.1" r="0.35" fill="#111" fill-opacity="0.79"/>
<circle cx="420.1" cy="162.7" r="0.7" fill="#111" fill-opacity="0.40"/>
<circle cx="405.7" cy="147.1" r="0.35" fill="#111" fill-opacity="0.82"/>
<circle cx="424.1" cy="163.8" r="0.35" fill="#111" fill-opacity="0.76"/>
<circle cx="416.8" cy="151.7" r="0.35" fill="#111" fill-opacity="0.42"/>
<circle cx="421.0" cy="161.0" r="0.55" fill="#111" fill-opacity="0.51"/>
<circle cx="411.4" cy="144.7" r="0.55" fill="#111" fill-opacity="0.82"/>
<circle cx="424.1" cy="164.2" r="0.7" fill="#111" fill-opacity="0.78"/>
<circle cx="416.5" cy="145.0" r="0.7" fill="#111" fill-opacity="0.37"/>
<circle cx="413.9" cy="146.8" r="0.7" fill="#111" fill-opacity="0.70"/>
<circle cx="414.4" cy="149.8" r="0.35" fill="#111" fill-opacity="0.64"/>
<circle cx="407.9" cy="155.5" r="0.45" fill="#111" fill-opacity="0.49"/>
<circle cx="409.4" cy="146.7" r="0.45" fill="#111" fill-opacity="0.83"/>
<circle cx="415.8" cy="169.1" r="0.55" fill="#111" fill-opacity="0.64"/>
<circle cx="404.5" cy="165.4" r="0.45" fill="#111" fill-opacity="0.60"/>
<circle cx="403.3" cy="160.7" r="0.35" fill="#111" fill-opacity="0.60"/>
<circle cx="403.1" cy="152.7" r="0.35" fill="#111" fill-opacity="0.55"/>
<circle cx="410.7" cy="167.4" r="0.35" fill="#111" fill-opacity="0.56"/>
<circle cx="417.2" cy="153.9" r="0.55" fill="#111" fill-opacity="0.48"/>
<circle cx="423.8" cy="157.2" r="0.7" fill="#111" fill-opacity="0.84"/>
<circle cx="416.8" cy="168.7" r="0.45" fill="#111" fill-opacity="0.62"/>
<circle cx="420.0" cy="163.8" r="0.35" fill="#111" fill-opacity="0.52"/>
<circle cx="408.9" cy="148.2" r="0.7" fill="#111" fill-opacity="0.68"/>
<circle cx="419.7" cy="148.6" r="0.7" fill="#111" fill-opacity="0.69"/>
<circle cx="407.1" cy="150.2" r="0.55" fill="#111" fill-opacity="0.58"/>
<circle cx="423.4" cy="150.4" r="0.45" fill="#111" fill-opacity="0.48"/>
<circle cx="420.0" cy="165.7" r="0.45" fill="#111" fill-opacity="0.71"/>
<circle cx="416.1" cy="153.3" r="0.45" fill="#111" fill-opacity="0.51"/>
<circle cx="419.3" cy="146.8" r="0.35" fill="#111" fill-opacity="0.45"/>
<circle cx="408.3" cy="151.9" r="0.55" fill="#111" fill-opacity="0.45"/>
<circle cx="417.0" cy="147.0" r="0.45" fill="#111" fill-opacity="0.79"/>
<circle cx="412.5" cy="144.5" r="0.7" fill="#111" fill-opacity="0.70"/>
<circle cx="413.4" cy="160.6" r="0.7" fill="#111" fill-opacity="0.36"/>
<circle cx="407.1" cy="163.4" r="0.35" fill="#111" fill-opacity="0.72"/>
<circle cx="424.0" cy="155.4" r="0.7" fill="#111" fill-opacity="0.77"/>
<circle cx="417.8" cy="161.2" r="0.45" fill="#111" fill-opacity="0.69"/>
<circle cx="417.1" cy="156.0" r="0.55" fill="#111" fill-opacity="0.48"/>
<circle cx="418.6" cy="167.5" r="0.45" fill="#111" fill-opacity="0.74"/>
<circle cx="418.9" cy="160.6" r="0.55" fill="#111" fill-opacity="0.77"/>
<circle cx="413.0" cy="144.7" r="0.7" fill="#111" fill-opacity="0.61"/>
<circle cx="417.6" cy="166.9" r="0.55" fill="#111" fill-opacity="0.74"/>
<circle cx="410.5" cy="156.9" r="0.35" fill="#111" fill-opacity="0.37"/>
<circle cx="414.5" cy="148.4" r="0.45" fill="#111" fill-opacity="0.61"/>
<circle cx="403.0" cy="159.1" r="0.45" fill="#111" fill-opacity="0.71"/>
<circle cx="413.7" cy="160.8" r="0.55" fill="#111" fill-opacity="0.61"/>
<circle cx="411.1" cy="168.8" r="0.45" fill="#111" fill-opacity="0.85"/>
<circle cx="405.2" cy="157.6" r="0.35" fill="#111" fill-opacity="0.71"/>
<circle cx="416.4" cy="160.8" r="0.55" fill="#111" fill-opacity="0.49"/>
<circle cx="411.3" cy="155.1" r="0.55" fill="#111" fill-opacity="0.64"/>
<circle cx="403.2" cy="152.1" r="0.7" fill="#111" fill-opacity="0.82"/>
<circle cx="414.1" cy="149.9" r="0.7" fill="#111" fill-opacity="0.58"/>
<circle cx="405.4" cy="160.9" r="0.45" fill="#111" fill-opacity="0.76"/>
<circle cx="404.2" cy="161.5" r="0.7" fill="#111" fill-opacity="0.58"/>
<circle cx="408.1" cy="158.5" r="0.45" fill="#111" fill-opacity="0.74"/>
<circle cx="412.6" cy="164.6" r="0.45" fill="#111" fill-opacity="0.48"/>
<circle cx="410.2" cy="150.8" r="0.7" fill="#111" fill-opacity="0.69"/>
<circle cx="412.9" cy="165.1" r="0.55" fill="#111" fill-opacity="0.53"/>
<circle cx="417.4" cy="152.5" r="0.7" fill="#111" fill-opacity="0.56"/>
<circle cx="417.0" cy="161.3" r="0.55" fill="#111" fill-opacity="0.43"/>
<circle cx="408.3" cy="154.2" r="0.35" fill="#111" fill-opacity="0.76"/>
<circle cx="404.1" cy="165.8" r="0.35" fill="#111" fill-opacity="0.68"/>
<circle cx="408.0" cy="160.0" r="0.45" fill="#111" fill-opacity="0.78"/>
<circle cx="405.2" cy="156.0" r="0.45" fill="#111" fill-opacity="0.45"/>
<circle cx="410.9" cy="158.1" r="0.35" fill="#111" fill-opacity="0.68"/>
<circle cx="423.6" cy="164.7" r="0.55" fill="#111" fill-opacity="0.45"/>
<circle cx="418.4" cy="158.0" r="0.7" fill="#111" fill-opacity="0.69"/>
<circle cx="411.3" cy="165.7" r="0.7" fill="#111" fill-opacity="0.60"/>
<circle cx="401.9" cy="156.3" r="0.45" fill="#111" fill-opacity="0.70"/>
<circle cx="406.8" cy="148.5" r="0.35" fill="#111" fill-opacity="0.43"/>
<circle cx="408.7" cy="162.3" r="0.7" fill="#111" fill-opacity="0.68"/>
<circle cx="422.3" cy="153.9" r="0.7" fill="#111" fill-opacity="0.85"/>
<circle cx="418.0" cy="148.9" r="0.55" fill="#111" fill-opacity="0.67"/>
<circle cx="401.1" cy="160.1" r="0.55" fill="#111" fill-opacity="0.75"/>
<circle cx="402.8" cy="156.8" r="0.45" fill="#111" fill-opacity="0.37"/>
<circle cx="419.1" cy="160.5" r="0.55" fill="#111" fill-opacity="0.40"/>
<circle cx="417.5" cy="153.1" r="0.45" fill="#111" fill-opacity="0.49"/>
<circle cx="409.3" cy="150.7" r="0.35" fill="#111" fill-opacity="0.76"/>
<circle cx="408.0" cy="165.7" r="0.7" fill="#111" fill-opacity="0.52"/>
<circle cx="409.4" cy="149.5" r="0.7" fill="#111" fill-opacity="0.75"/>
<circle cx="409.0" cy="152.4" r="0.55" fill="#111" fill-opacity="0.41"/>
<circle cx="414.8" cy="154.8" r="0.35" fill="#111" fill-opacity="0.55"/>
<circle cx="421.8" cy="156.6" r="0.35" fill="#111" fill-opacity="0.74"/>
<circle cx="424.1" cy="160.1" r="0.45" fill="#111" fill-opacity="0.66"/>
<circle cx="418.5" cy="159.7" r="0.35" fill="#111" fill-opacity="0.46"/>
<circle cx="417.7" cy="156.1" r="0.45" fill="#111" fill-opacity="0.40"/>
<circle cx="417.4" cy="153.8" r="0.45" fill="#111" fill-opacity="0.74"/>
<circle cx="415.0" cy="150.9" r="0.55" fill="#111" fill-opacity="0.44"/>
<circle cx="415.1" cy="159.2" r="0.35" fill="#111" fill-opacity="0.60"/>
<circle cx="414.0" cy="165.6" r="0.7" fill="#111" fill-opacity="0.64"/>
<circle cx="424.3" cy="155.8" r="0.35" fill="#111" fill-opacity="0.69"/>
<circle cx="417.5" cy="148.2" r="0.7" fill="#111" fill-opacity="0.62"/>
<circle cx="402.6" cy="156.5" r="0.45" fill="#111" fill-opacity="0.66"/>
<circle cx="422.7" cy="149.9" r="0.35" fill="#111" fill-opacity="0.41"/>
<circle cx="406.7" cy="163.3" r="0.45" fill="#111" fill-opacity="0.81"/>
<circle cx="409.9" cy="163.6" r="0.45" fill="#111" fill-opacity="0.71"/>
<circle cx="402.6" cy="160.5" r="0.7" fill="#111" fill-opacity="0.58"/>
<circle cx="417.3" cy="165.5" r="0.35" fill="#111" fill-opacity="0.54"/>
<circle cx="408.5" cy="159.8" r="0.7" fill="#111" fill-opacity="0.65"/>
<circle cx="408.6" cy="168.9" r="0.7" fill="#111" fill-opacity="0.58"/>
<circle cx="404.7" cy="165.0" r="0.7" fill="#111" fill-opacity="0.54"/>
<circle cx="420.8" cy="158.9" r="0.55" fill="#111" fill-opacity="0.49"/>
<circle cx="416.6" cy="161.1" r="0.55" fill="#111" fill-opacity="0.78"/>
<circle cx="404.3" cy="165.8" r="0.7" fill="#111" fill-opacity="0.84"/>
<circle cx="406.8" cy="154.3" r="0.7" fill="#111" fill-opacity="0.65"/>
<circle cx="407.2" cy="155.2" r="0.35" fill="#111" fill-opacity="0.49"/>
<circle cx="414.6" cy="164.4" r="0.7" fill="#111" fill-opacity="0.52"/>
<circle cx="402.6" cy="158.6" r="0.7" fill="#111" fill-opacity="0.45"/>
<circle cx="406.5" cy="160.0" r="0.7" fill="#111" fill-opacity="0.58"/>
<circle cx="405.8" cy="150.8" r="0.35" fill="#111" fill-opacity="0.75"/>
<circle cx="412.4" cy="146.5" r="0.55" fill="#111" fill-opacity="0.74"/>
<circle cx="406.5" cy="159.3" r="0.55" fill="#111" fill-opacity="0.79"/>
<circle cx="414.0" cy="156.6" r="0.45" fill="#111" fill-opacity="0.44"/>
<circle cx="405.4" cy="148.9" r="0.55" fill="#111" fill-opacity="0.53"/>
<circle cx="415.1" cy="154.7" r="0.45" fill="#111" fill-opacity="0.47"/>
<circle cx="424.4" cy="157.0" r="0.35" fill="#111" fill-opacity="0.54"/>
<circle cx="412.4" cy="146.3" r="0.55" fill="#111" fill-opacity="0.65"/>
<circle cx="409.4" cy="157.7" r="0.35" fill="#111" fill-opacity="0.40"/>
<circle cx="405.7" cy="166.8" r="0.7" fill="#111" fill-opacity="0.64"/>
<circle cx="407.7" cy="146.7" r="0.7" fill="#111" fill-opacity="0.73"/>
<circle cx="444.0" cy="157.2" r="14.4" fill="#e4e4e4" stroke="#7a7a7a" stroke-width="1.1"/>
<circle cx="436.2" cy="148.9" r="0.35" fill="#111" fill-opacity="0.36"/>
<circle cx="431.9" cy="153.8" r="0.7" fill="#111" fill-opacity="0.59"/>
<circle cx="453.4" cy="160.8" r="0.35" fill="#111" fill-opacity="0.70"/>
<circle cx="433.3" cy="152.5" r="0.45" fill="#111" fill-opacity="0.67"/>
<circle cx="455.9" cy="161.6" r="0.7" fill="#111" fill-opacity="0.44"/>
<circle cx="453.1" cy="153.8" r="0.45" fill="#111" fill-opacity="0.85"/>
<circle cx="437.7" cy="153.4" r="0.35" fill="#111" fill-opacity="0.77"/>
<circle cx="449.4" cy="161.0" r="0.7" fill="#111" fill-opacity="0.38"/>
<circle cx="434.8" cy="163.8" r="0.45" fill="#111" fill-opacity="0.69"/>
<circle cx="438.8" cy="159.6" r="0.35" fill="#111" fill-opacity="0.59"/>
<circle cx="440.7" cy="154.3" r="0.55" fill="#111" fill-opacity="0.59"/>
<circle cx="435.4" cy="150.4" r="0.45" fill="#111" fill-opacity="0.81"/>
<circle cx="454.2" cy="156.4" r="0.45" fill="#111" fill-opacity="0.75"/>
<circle cx="435.1" cy="165.9" r="0.35" fill="#111" fill-opacity="0.82"/>
<circle cx="434.6" cy="155.8" r="0.35" fill="#111" fill-opacity="0.81"/>
<circle cx="441.0" cy="144.8" r="0.35" fill="#111" fill-opacity="0.58"/>
<circle cx="439.8" cy="165.6" r="0.7" fill="#111" fill-opacity="0.41"/>
<circle cx="440.5" cy="152.8" r="0.35" fill="#111" fill-opacity="0.44"/>
<circle cx="442.7" cy="167.3" r="0.7" fill="#111" fill-opacity="0.79"/>
<circle cx="437.9" cy="154.9" r="0.45" fill="#111" fill-opacity="0.36"/>
<circle cx="445.8" cy="151.9" r="0.45" fill="#111" fill-opacity="0.48"/>
<circle cx="433.8" cy="156.1" r="0.7" fill="#111" fill-opacity="0.41"/>
<circle cx="454.3" cy="161.6" r="0.45" fill="#111" fill-opacity="0.63"/>
<circle cx="442.2" cy="151.0" r="0.45" fill="#111" fill-opacity="0.81"/>
<circle cx="433.5" cy="151.7" r="0.45" fill="#111" fill-opacity="0.38"/>
<circle cx="449.9" cy="151.8" r="0.35" fill="#111" fill-opacity="0.57"/>
<circle cx="444.2" cy="157.5" r="0.7" fill="#111" fill-opacity="0.35"/>
<circle cx="452.6" cy="157.9" r="0.45" fill="#111" fill-opacity="0.53"/>
<circle cx="432.1" cy="154.8" r="0.55" fill="#111" fill-opacity="0.64"/>
<circle cx="434.6" cy="148.9" r="0.45" fill="#111" fill-opacity="0.71"/>
<circle cx="433.3" cy="160.0" r="0.7" fill="#111" fill-opacity="0.73"/>
<circle cx="435.6" cy="147.8" r="0.45" fill="#111" fill-opacity="0.64"/>
<circle cx="450.1" cy="154.8" r="0.35" fill="#111" fill-opacity="0.61"/>
<circle cx="440.0" cy="151.5" r="0.7" fill="#111" fill-opacity="0.40"/>
<circle cx="441.6" cy="164.0" r="0.45" fill="#111" fill-opacity="0.79"/>
<circle cx="437.9" cy="149.0" r="0.55" fill="#111" fill-opacity="0.37"/>
<circle cx="449.3" cy="159.1" r="0.35" fill="#111" fill-opacity="0.53"/>
<circle cx="432.9" cy="153.5" r="0.45" fill="#111" fill-opacity="0.76"/>
<circle cx="453.5" cy="152.5" r="0.7" fill="#111" fill-opacity="0.64"/>
<circle cx="454.3" cy="151.8" r="0.35" fill="#111" fill-opacity="0.83"/>
<circle cx="443.9" cy="157.5" r="0.45" fill="#111" fill-opacity="0.36"/>
<circle cx="437.5" cy="165.4" r="0.35" fill="#111" fill-opacity="0.36"/>
<circle cx="455.1" cy="163.4" r="0.55" fill="#111" fill-opacity="0.36"/>
<circle cx="446.6" cy="159.2" r="0.45" fill="#111" fill-opacity="0.70"/>
<circle cx="434.2" cy="157.0" r="0.55" fill="#111" fill-opacity="0.41"/>
<circle cx="445.1" cy="150.1" r="0.45" fill="#111" fill-opacity="0.42"/>
<circle cx="445.9" cy="163.6" r="0.45" fill="#111" fill-opacity="0.82"/>
<circle cx="449.0" cy="159.7" r="0.35" fill="#111" fill-opacity="0.55"/>
<circle cx="439.8" cy="150.4" r="0.55" fill="#111" fill-opacity="0.71"/>
<circle cx="452.9" cy="158.9" r="0.55" fill="#111" fill-opacity="0.76"/>
<circle cx="444.5" cy="169.1" r="0.55" fill="#111" fill-opacity="0.47"/>
<circle cx="442.0" cy="160.6" r="0.55" fill="#111" fill-opacity="0.40"/>
<circle cx="435.9" cy="152.6" r="0.45" fill="#111" fill-opacity="0.60"/>
<circle cx="455.4" cy="160.7" r="0.35" fill="#111" fill-opacity="0.37"/>
<circle cx="447.7" cy="151.1" r="0.55" fill="#111" fill-opacity="0.66"/>
<circle cx="440.0" cy="148.5" r="0.35" fill="#111" fill-opacity="0.65"/>
<circle cx="455.9" cy="157.6" r="0.55" fill="#111" fill-opacity="0.39"/>
<circle cx="446.3" cy="168.4" r="0.7" fill="#111" fill-opacity="0.41"/>
<circle cx="434.4" cy="151.8" r="0.7" fill="#111" fill-opacity="0.64"/>
<circle cx="438.1" cy="163.3" r="0.55" fill="#111" fill-opacity="0.77"/>
<circle cx="446.9" cy="159.0" r="0.7" fill="#111" fill-opacity="0.45"/>
<circle cx="449.5" cy="156.2" r="0.55" fill="#111" fill-opacity="0.66"/>
<circle cx="443.2" cy="152.3" r="0.45" fill="#111" fill-opacity="0.52"/>
<circle cx="435.9" cy="158.4" r="0.7" fill="#111" fill-opacity="0.36"/>
<circle cx="440.2" cy="166.6" r="0.45" fill="#111" fill-opacity="0.51"/>
<circle cx="439.5" cy="151.2" r="0.45" fill="#111" fill-opacity="0.50"/>
<circle cx="451.1" cy="148.3" r="0.35" fill="#111" fill-opacity="0.65"/>
<circle cx="440.0" cy="161.3" r="0.7" fill="#111" fill-opacity="0.77"/>
<circle cx="440.2" cy="164.0" r="0.45" fill="#111" fill-opacity="0.84"/>
<circle cx="448.6" cy="168.5" r="0.7" fill="#111" fill-opacity="0.52"/>
<circle cx="440.2" cy="161.8" r="0.55" fill="#111" fill-opacity="0.76"/>
<circle cx="444.5" cy="163.4" r="0.7" fill="#111" fill-opacity="0.48"/>
<circle cx="447.4" cy="160.6" r="0.45" fill="#111" fill-opacity="0.56"/>
<circle cx="433.7" cy="154.9" r="0.35" fill="#111" fill-opacity="0.60"/>
<circle cx="456.0" cy="159.1" r="0.7" fill="#111" fill-opacity="0.77"/>
<circle cx="438.3" cy="160.4" r="0.35" fill="#111" fill-opacity="0.54"/>
<circle cx="442.8" cy="156.1" r="0.55" fill="#111" fill-opacity="0.50"/>
<circle cx="441.2" cy="158.6" r="0.7" fill="#111" fill-opacity="0.67"/>
<circle cx="438.8" cy="158.2" r="0.45" fill="#111" fill-opacity="0.57"/>
<circle cx="440.8" cy="150.2" r="0.55" fill="#111" fill-opacity="0.51"/>
<circle cx="452.9" cy="166.0" r="0.55" fill="#111" fill-opacity="0.45"/>
<circle cx="442.1" cy="167.9" r="0.35" fill="#111" fill-opacity="0.36"/>
<circle cx="437.7" cy="167.5" r="0.55" fill="#111" fill-opacity="0.81"/>
<circle cx="451.1" cy="158.2" r="0.7" fill="#111" fill-opacity="0.61"/>
<circle cx="444.4" cy="162.0" r="0.7" fill="#111" fill-opacity="0.58"/>
<circle cx="432.1" cy="161.8" r="0.7" fill="#111" fill-opacity="0.82"/>
<circle cx="448.6" cy="157.9" r="0.35" fill="#111" fill-opacity="0.55"/>
<circle cx="444.0" cy="161.1" r="0.45" fill="#111" fill-opacity="0.79"/>
<circle cx="456.1" cy="156.9" r="0.7" fill="#111" fill-opacity="0.73"/>
<circle cx="454.4" cy="159.5" r="0.35" fill="#111" fill-opacity="0.44"/>
<circle cx="452.5" cy="157.5" r="0.35" fill="#111" fill-opacity="0.68"/>
<circle cx="438.7" cy="153.1" r="0.7" fill="#111" fill-opacity="0.67"/>
<circle cx="444.6" cy="165.4" r="0.45" fill="#111" fill-opacity="0.60"/>
<circle cx="435.9" cy="148.9" r="0.35" fill="#111" fill-opacity="0.53"/>
<circle cx="432.1" cy="154.9" r="0.35" fill="#111" fill-opacity="0.50"/>
<circle cx="438.9" cy="166.1" r="0.35" fill="#111" fill-opacity="0.68"/>
<circle cx="436.1" cy="157.1" r="0.55" fill="#111" fill-opacity="0.79"/>
<circle cx="454.3" cy="157.6" r="0.45" fill="#111" fill-opacity="0.64"/>
<circle cx="441.7" cy="147.4" r="0.45" fill="#111" fill-opacity="0.61"/>
<circle cx="444.2" cy="145.0" r="0.35" fill="#111" fill-opacity="0.44"/>
<circle cx="444.6" cy="165.6" r="0.7" fill="#111" fill-opacity="0.75"/>
<circle cx="451.0" cy="152.6" r="0.45" fill="#111" fill-opacity="0.53"/>
<circle cx="435.4" cy="151.1" r="0.35" fill="#111" fill-opacity="0.78"/>
<circle cx="436.0" cy="160.4" r="0.35" fill="#111" fill-opacity="0.38"/>
<circle cx="454.2" cy="159.3" r="0.35" fill="#111" fill-opacity="0.57"/>
<circle cx="447.1" cy="150.7" r="0.35" fill="#111" fill-opacity="0.43"/>
<circle cx="446.3" cy="148.7" r="0.35" fill="#111" fill-opacity="0.80"/>
<circle cx="452.2" cy="152.1" r="0.55" fill="#111" fill-opacity="0.83"/>
<circle cx="443.9" cy="168.9" r="0.45" fill="#111" fill-opacity="0.69"/>
<circle cx="448.5" cy="159.4" r="0.7" fill="#111" fill-opacity="0.50"/>
<circle cx="453.8" cy="156.8" r="0.45" fill="#111" fill-opacity="0.39"/>
<circle cx="435.4" cy="154.1" r="0.35" fill="#111" fill-opacity="0.84"/>
<circle cx="438.6" cy="158.8" r="0.35" fill="#111" fill-opacity="0.52"/>
<circle cx="453.7" cy="152.9" r="0.35" fill="#111" fill-opacity="0.83"/>
<circle cx="442.0" cy="167.9" r="0.45" fill="#111" fill-opacity="0.54"/>
<circle cx="443.1" cy="153.2" r="0.7" fill="#111" fill-opacity="0.37"/>
<circle cx="448.3" cy="153.1" r="0.45" fill="#111" fill-opacity="0.47"/>
<circle cx="434.4" cy="149.3" r="0.45" fill="#111" fill-opacity="0.63"/>
<circle cx="443.1" cy="164.9" r="0.45" fill="#111" fill-opacity="0.43"/>
<circle cx="440.2" cy="163.0" r="0.7" fill="#111" fill-opacity="0.66"/>
<circle cx="446.1" cy="151.9" r="0.7" fill="#111" fill-opacity="0.60"/>
<circle cx="436.9" cy="156.0" r="0.45" fill="#111" fill-opacity="0.82"/>
<circle cx="444.9" cy="154.7" r="0.45" fill="#111" fill-opacity="0.41"/>
<circle cx="450.5" cy="161.8" r="0.35" fill="#111" fill-opacity="0.62"/>
<circle cx="438.0" cy="164.3" r="0.7" fill="#111" fill-opacity="0.36"/>
<circle cx="449.7" cy="148.0" r="0.35" fill="#111" fill-opacity="0.54"/>
<circle cx="453.1" cy="152.5" r="0.35" fill="#111" fill-opacity="0.38"/>
<circle cx="450.7" cy="149.2" r="0.55" fill="#111" fill-opacity="0.39"/>
<circle cx="438.5" cy="165.4" r="0.7" fill="#111" fill-opacity="0.49"/>
<circle cx="441.5" cy="167.8" r="0.45" fill="#111" fill-opacity="0.82"/>
<circle cx="435.6" cy="153.7" r="0.55" fill="#111" fill-opacity="0.80"/>
<circle cx="441.4" cy="167.8" r="0.35" fill="#111" fill-opacity="0.44"/>
<circle cx="450.1" cy="162.7" r="0.35" fill="#111" fill-opacity="0.55"/>
<circle cx="446.8" cy="155.4" r="0.55" fill="#111" fill-opacity="0.43"/>
<circle cx="450.2" cy="158.6" r="0.45" fill="#111" fill-opacity="0.63"/>
<circle cx="436.9" cy="157.1" r="0.55" fill="#111" fill-opacity="0.81"/>
<circle cx="448.4" cy="159.2" r="0.35" fill="#111" fill-opacity="0.41"/>
<circle cx="450.9" cy="161.2" r="0.35" fill="#111" fill-opacity="0.79"/>
<circle cx="446.2" cy="162.3" r="0.45" fill="#111" fill-opacity="0.69"/>
<circle cx="451.2" cy="153.2" r="0.35" fill="#111" fill-opacity="0.56"/>
<circle cx="447.0" cy="149.9" r="0.35" fill="#111" fill-opacity="0.52"/>
<circle cx="455.7" cy="155.7" r="0.55" fill="#111" fill-opacity="0.70"/>
<circle cx="450.2" cy="165.8" r="0.7" fill="#111" fill-opacity="0.60"/>
<circle cx="448.6" cy="149.6" r="0.45" fill="#111" fill-opacity="0.59"/>
<circle cx="452.5" cy="158.7" r="0.45" fill="#111" fill-opacity="0.62"/>
<circle cx="456.2" cy="160.8" r="0.55" fill="#111" fill-opacity="0.47"/>
<circle cx="432.5" cy="153.5" r="0.7" fill="#111" fill-opacity="0.40"/>
<circle cx="447.5" cy="147.8" r="0.7" fill="#111" fill-opacity="0.69"/>
<circle cx="437.2" cy="150.5" r="0.7" fill="#111" fill-opacity="0.42"/>
<circle cx="447.7" cy="162.3" r="0.45" fill="#111" fill-opacity="0.79"/>
<circle cx="434.7" cy="158.8" r="0.55" fill="#111" fill-opacity="0.66"/>
<circle cx="434.1" cy="155.2" r="0.45" fill="#111" fill-opacity="0.69"/>
<circle cx="452.8" cy="154.8" r="0.45" fill="#111" fill-opacity="0.41"/>
<circle cx="438.5" cy="153.6" r="0.45" fill="#111" fill-opacity="0.37"/>
<circle cx="454.3" cy="152.1" r="0.35" fill="#111" fill-opacity="0.70"/>
<circle cx="442.6" cy="147.1" r="0.55" fill="#111" fill-opacity="0.57"/>
<circle cx="445.8" cy="151.7" r="0.35" fill="#111" fill-opacity="0.37"/>
<circle cx="443.2" cy="169.7" r="0.7" fill="#111" fill-opacity="0.39"/>
<circle cx="445.7" cy="147.0" r="0.7" fill="#111" fill-opacity="0.83"/>
<circle cx="443.7" cy="164.6" r="0.55" fill="#111" fill-opacity="0.35"/>
<circle cx="454.9" cy="161.0" r="0.55" fill="#111" fill-opacity="0.68"/>
<circle cx="433.0" cy="163.6" r="0.35" fill="#111" fill-opacity="0.74"/>
<circle cx="452.8" cy="151.9" r="0.45" fill="#111" fill-opacity="0.83"/>
<circle cx="444.7" cy="167.5" r="0.45" fill="#111" fill-opacity="0.40"/>
<circle cx="449.7" cy="152.3" r="0.55" fill="#111" fill-opacity="0.54"/>
<circle cx="447.8" cy="153.5" r="0.45" fill="#111" fill-opacity="0.53"/>
<circle cx="445.3" cy="153.8" r="0.55" fill="#111" fill-opacity="0.47"/>
<circle cx="432.1" cy="158.9" r="0.7" fill="#111" fill-opacity="0.80"/>
<circle cx="455.6" cy="157.1" r="0.7" fill="#111" fill-opacity="0.72"/>
<circle cx="447.3" cy="147.9" r="0.45" fill="#111" fill-opacity="0.43"/>
<circle cx="474.6" cy="157.2" r="14.4" fill="#e4e4e4" stroke="#7a7a7a" stroke-width="1.1"/>
<circle cx="473.1" cy="169.4" r="0.35" fill="#111" fill-opacity="0.94"/>
<circle cx="483.7" cy="156.7" r="0.45" fill="#111" fill-opacity="0.78"/>
<circle cx="483.8" cy="164.7" r="0.7" fill="#111" fill-opacity="0.44"/>
<circle cx="480.1" cy="167.4" r="0.35" fill="#111" fill-opacity="0.61"/>
<circle cx="478.9" cy="165.7" r="0.45" fill="#111" fill-opacity="0.58"/>
<circle cx="479.2" cy="159.0" r="0.7" fill="#111" fill-opacity="0.40"/>
<circle cx="470.0" cy="156.2" r="0.45" fill="#111" fill-opacity="0.93"/>
<circle cx="486.6" cy="160.3" r="0.35" fill="#111" fill-opacity="0.78"/>
<circle cx="470.2" cy="161.3" r="0.7" fill="#111" fill-opacity="0.92"/>
<circle cx="474.1" cy="161.0" r="0.55" fill="#111" fill-opacity="0.87"/>
<circle cx="475.4" cy="160.7" r="0.45" fill="#111" fill-opacity="0.48"/>
<circle cx="480.8" cy="162.2" r="0.45" fill="#111" fill-opacity="0.75"/>
<circle cx="471.3" cy="159.3" r="0.7" fill="#111" fill-opacity="0.57"/>
<circle cx="467.8" cy="155.7" r="0.55" fill="#111" fill-opacity="0.42"/>
<circle cx="475.9" cy="147.1" r="0.55" fill="#111" fill-opacity="0.74"/>
<circle cx="466.5" cy="161.6" r="0.7" fill="#111" fill-opacity="0.49"/>
<circle cx="473.5" cy="158.3" r="0.35" fill="#111" fill-opacity="0.79"/>
<circle cx="485.2" cy="158.9" r="0.7" fill="#111" fill-opacity="0.76"/>
<circle cx="482.4" cy="147.7" r="0.35" fill="#111" fill-opacity="0.73"/>
<circle cx="486.6" cy="157.6" r="0.7" fill="#111" fill-opacity="0.85"/>
<circle cx="471.8" cy="148.7" r="0.45" fill="#111" fill-opacity="0.69"/>
<circle cx="481.7" cy="147.8" r="0.35" fill="#111" fill-opacity="0.59"/>
<circle cx="473.6" cy="147.3" r="0.45" fill="#111" fill-opacity="0.61"/>
<circle cx="484.7" cy="160.4" r="0.45" fill="#111" fill-opacity="0.69"/>
<circle cx="466.0" cy="163.6" r="0.55" fill="#111" fill-opacity="0.83"/>
<circle cx="468.2" cy="150.4" r="0.55" fill="#111" fill-opacity="0.78"/>
<circle cx="462.7" cy="159.9" r="0.35" fill="#111" fill-opacity="0.56"/>
<circle cx="470.1" cy="159.9" r="0.35" fill="#111" fill-opacity="0.91"/>
<circle cx="479.2" cy="150.8" r="0.45" fill="#111" fill-opacity="0.77"/>
<circle cx="473.0" cy="164.8" r="0.7" fill="#111" fill-opacity="0.42"/>
<circle cx="482.4" cy="149.0" r="0.55" fill="#111" fill-opacity="0.87"/>
<circle cx="479.0" cy="165.9" r="0.55" fill="#111" fill-opacity="0.67"/>
<circle cx="479.5" cy="165.2" r="0.7" fill="#111" fill-opacity="0.36"/>
<circle cx="470.5" cy="148.1" r="0.7" fill="#111" fill-opacity="0.87"/>
<circle cx="466.3" cy="165.5" r="0.7" fill="#111" fill-opacity="0.86"/>
<circle cx="473.3" cy="150.2" r="0.35" fill="#111" fill-opacity="0.57"/>
<circle cx="475.3" cy="152.3" r="0.45" fill="#111" fill-opacity="0.70"/>
<circle cx="471.0" cy="156.4" r="0.7" fill="#111" fill-opacity="0.58"/>
<circle cx="476.7" cy="152.9" r="0.35" fill="#111" fill-opacity="0.50"/>
<circle cx="484.4" cy="160.0" r="0.45" fill="#111" fill-opacity="0.79"/>
<circle cx="465.3" cy="154.2" r="0.35" fill="#111" fill-opacity="0.65"/>
<circle cx="468.4" cy="159.0" r="0.45" fill="#111" fill-opacity="0.95"/>
<circle cx="462.5" cy="158.8" r="0.35" fill="#111" fill-opacity="0.87"/>
<circle cx="481.7" cy="160.7" r="0.35" fill="#111" fill-opacity="0.57"/>
<circle cx="468.9" cy="164.9" r="0.45" fill="#111" fill-opacity="0.76"/>
<circle cx="469.5" cy="164.0" r="0.55" fill="#111" fill-opacity="0.66"/>
<circle cx="478.1" cy="153.3" r="0.7" fill="#111" fill-opacity="0.55"/>
<circle cx="479.9" cy="161.7" r="0.7" fill="#111" fill-opacity="0.65"/>
<circle cx="466.9" cy="167.3" r="0.7" fill="#111" fill-opacity="0.59"/>
<circle cx="471.9" cy="164.3" r="0.45" fill="#111" fill-opacity="0.70"/>
<circle cx="465.3" cy="162.9" r="0.55" fill="#111" fill-opacity="0.79"/>
<circle cx="475.9" cy="168.6" r="0.55" fill="#111" fill-opacity="0.39"/>
<circle cx="476.8" cy="152.1" r="0.55" fill="#111" fill-opacity="0.94"/>
<circle cx="470.9" cy="164.3" r="0.7" fill="#111" fill-opacity="0.78"/>
<circle cx="469.9" cy="148.8" r="0.55" fill="#111" fill-opacity="0.68"/>
<circle cx="481.3" cy="160.5" r="0.45" fill="#111" fill-opacity="0.77"/>
<circle cx="467.3" cy="154.6" r="0.45" fill="#111" fill-opacity="0.89"/>
<circle cx="468.9" cy="157.2" r="0.35" fill="#111" fill-opacity="0.47"/>
<circle cx="477.2" cy="146.3" r="0.55" fill="#111" fill-opacity="0.78"/>
<circle cx="470.0" cy="166.8" r="0.35" fill="#111" fill-opacity="0.74"/>
<circle cx="472.1" cy="161.9" r="0.55" fill="#111" fill-opacity="0.45"/>
<circle cx="484.0" cy="164.9" r="0.35" fill="#111" fill-opacity="0.73"/>
<circle cx="470.3" cy="157.1" r="0.7" fill="#111" fill-opacity="0.50"/>
<circle cx="473.6" cy="144.6" r="0.55" fill="#111" fill-opacity="0.69"/>
<circle cx="477.6" cy="163.0" r="0.55" fill="#111" fill-opacity="0.44"/>
<circle cx="475.4" cy="166.1" r="0.55" fill="#111" fill-opacity="0.84"/>
<circle cx="472.6" cy="158.2" r="0.45" fill="#111" fill-opacity="0.74"/>
<circle cx="477.2" cy="152.8" r="0.55" fill="#111" fill-opacity="0.84"/>
<circle cx="474.0" cy="145.0" r="0.55" fill="#111" fill-opacity="0.74"/>
<circle cx="475.9" cy="162.6" r="0.55" fill="#111" fill-opacity="0.57"/>
<circle cx="475.4" cy="151.3" r="0.55" fill="#111" fill-opacity="0.36"/>
<circle cx="474.0" cy="161.2" r="0.55" fill="#111" fill-opacity="0.44"/>
<circle cx="478.0" cy="154.6" r="0.35" fill="#111" fill-opacity="0.91"/>
<circle cx="477.8" cy="147.4" r="0.45" fill="#111" fill-opacity="0.68"/>
<circle cx="471.1" cy="148.1" r="0.45" fill="#111" fill-opacity="0.87"/>
<circle cx="483.8" cy="164.5" r="0.35" fill="#111" fill-opacity="0.56"/>
<circle cx="480.1" cy="155.7" r="0.7" fill="#111" fill-opacity="0.48"/>
<circle cx="471.7" cy="149.7" r="0.35" fill="#111" fill-opacity="0.41"/>
<circle cx="478.4" cy="154.6" r="0.55" fill="#111" fill-opacity="0.39"/>
<circle cx="476.3" cy="154.9" r="0.7" fill="#111" fill-opacity="0.92"/>
<circle cx="471.6" cy="165.2" r="1.1" fill="#111"/>
<circle cx="476.6" cy="166.2" r="1.1" fill="#111"/>
<circle cx="479.6" cy="151.2" r="1.1" fill="#111"/>
<circle cx="467.6" cy="155.2" r="1.1" fill="#111"/>
<circle cx="482.6" cy="160.2" r="1.1" fill="#111"/>
<text x="1.0" y="176.4" font-size="11.8" font-weight="bold" fill="#000">D</text>
<text x="74.2" y="180.0" font-size="8" font-weight="bold" text-anchor="middle">SU-DIPG-VI</text>
<text x="144.5" y="180.0" font-size="8" font-weight="bold" text-anchor="middle">SU-DIPG-XIII</text>
<text x="213.0" y="180.0" font-size="8" font-weight="bold" text-anchor="middle">SU-DIPG-XVII</text>
<text transform="translate(15.0,215.0) rotate(-90)" font-size="9.2" font-weight="bold" text-anchor="middle" fill="#111">Normoxic</text>
<text transform="translate(14.8,285.6) rotate(-90)" font-size="9.2" font-weight="bold" text-anchor="middle" fill="#111">Low O<tspan font-size="6" dy="2">2</tspan></text>
<line x1="49.9" y1="187.2" x2="49.9" y2="247.3" stroke="#222" stroke-width="1.3"/>
<line x1="49.9" y1="247.3" x2="109.4" y2="247.3" stroke="#222" stroke-width="1.3"/>
<line x1="47.9" y1="187.7" x2="49.9" y2="187.7" stroke="#222" stroke-width="0.9"/>
<text x="45.9" y="189.4" font-size="5.0" text-anchor="end" fill="#222" style="stroke-width:0.08px">4</text>
<line x1="47.9" y1="199.6" x2="49.9" y2="199.6" stroke="#222" stroke-width="0.9"/>
<text x="45.9" y="201.3" font-size="5.0" text-anchor="end" fill="#222" style="stroke-width:0.08px">2</text>
<line x1="47.9" y1="211.5" x2="49.9" y2="211.5" stroke="#222" stroke-width="0.9"/>
<text x="45.9" y="213.3" font-size="5.0" text-anchor="end" fill="#222" style="stroke-width:0.08px">1</text>
<line x1="47.9" y1="223.5" x2="49.9" y2="223.5" stroke="#222" stroke-width="0.9"/>
<text x="45.9" y="225.2" font-size="5.0" text-anchor="end" fill="#222" style="stroke-width:0.08px">0.5</text>
<line x1="47.9" y1="235.4" x2="49.9" y2="235.4" stroke="#222" stroke-width="0.9"/>
<text x="45.9" y="237.1" font-size="5.0" text-anchor="end" fill="#222" style="stroke-width:0.08px">0.25</text>
<line x1="47.9" y1="247.3" x2="49.9" y2="247.3" stroke="#222" stroke-width="0.9"/>
<text x="45.9" y="249.0" font-size="5.0" text-anchor="end" fill="#222" style="stroke-width:0.08px">0.125</text>
<line x1="49.9" y1="211.5" x2="109.4" y2="211.5" stroke="#333" stroke-width="0.9" stroke-dasharray="1.6,1.4"/>
<line x1="55.9" y1="247.3" x2="55.9" y2="249.3" stroke="#222" stroke-width="0.9"/>
<text x="55.9" y="255.9" font-size="5.0" text-anchor="middle" fill="#333" style="stroke-width:0.08px">0.25</text>
<line x1="67.8" y1="247.3" x2="67.8" y2="249.3" stroke="#222" stroke-width="0.9"/>
<text x="67.8" y="255.9" font-size="5.0" text-anchor="middle" fill="#333" style="stroke-width:0.08px">0.50</text>
<line x1="79.7" y1="247.3" x2="79.7" y2="249.3" stroke="#222" stroke-width="0.9"/>
<text x="79.7" y="255.9" font-size="5.0" text-anchor="middle" fill="#333" style="stroke-width:0.08px">1.00</text>
<line x1="91.6" y1="247.3" x2="91.6" y2="249.3" stroke="#222" stroke-width="0.9"/>
<text x="91.6" y="255.9" font-size="5.0" text-anchor="middle" fill="#333" style="stroke-width:0.08px">2.00</text>
<line x1="103.5" y1="247.3" x2="103.5" y2="249.3" stroke="#222" stroke-width="0.9"/>
<text x="103.5" y="255.9" font-size="5.0" text-anchor="middle" fill="#333" style="stroke-width:0.08px">4.00</text>
<text transform="translate(30.5,217.5) rotate(-90)" font-size="5.0" text-anchor="middle" fill="#333" style="stroke-width:0.08px">Combination index</text>
<line x1="52.3" y1="215.4" x2="52.3" y2="219.4" stroke="#f0a070" stroke-width="0.6"/>
<line x1="51.3" y1="215.4" x2="53.3" y2="215.4" stroke="#f0a070" stroke-width="0.6"/>
<line x1="51.3" y1="219.4" x2="53.3" y2="219.4" stroke="#f0a070" stroke-width="0.6"/>
<circle cx="52.3" cy="217.4" r="1.65" fill="#e8742a"/>
<line x1="54.7" y1="224.6" x2="54.7" y2="227.6" stroke="#dedb70" stroke-width="0.6"/>
<line x1="53.7" y1="224.6" x2="55.7" y2="224.6" stroke="#dedb70" stroke-width="0.6"/>
<line x1="53.7" y1="227.6" x2="55.7" y2="227.6" stroke="#dedb70" stroke-width="0.6"/>
<rect x="53.1" y="224.5" width="3.1" height="3.1" fill="#d4cd2a"/>
<line x1="57.1" y1="219.2" x2="57.1" y2="222.2" stroke="#6aa86a" stroke-width="0.6"/>
<line x1="56.1" y1="219.2" x2="58.1" y2="219.2" stroke="#6aa86a" stroke-width="0.6"/>
<line x1="56.1" y1="222.2" x2="58.1" y2="222.2" stroke="#6aa86a" stroke-width="0.6"/>
<path d="M57.1,218.8 L59.0,222.1 L55.2,222.1 Z" fill="#2e8a2e"/>
<line x1="59.5" y1="207.1" x2="59.5" y2="210.1" stroke="#a070b8" stroke-width="0.6"/>
<line x1="58.5" y1="207.1" x2="60.5" y2="207.1" stroke="#a070b8" stroke-width="0.6"/>
<line x1="58.5" y1="210.1" x2="60.5" y2="210.1" stroke="#a070b8" stroke-width="0.6"/>
<path d="M59.5,210.5 L61.4,207.2 L57.6,207.2 Z" fill="#6a1a8a"/>
<line x1="64.2" y1="219.1" x2="64.2" y2="223.1" stroke="#f0a070" stroke-width="0.6"/>
<line x1="63.2" y1="219.1" x2="65.2" y2="219.1" stroke="#f0a070" stroke-width="0.6"/>
<line x1="63.2" y1="223.1" x2="65.2" y2="223.1" stroke="#f0a070" stroke-width="0.6"/>
<circle cx="64.2" cy="221.1" r="1.65" fill="#e8742a"/>
<line x1="66.6" y1="226.9" x2="66.6" y2="231.9" stroke="#dedb70" stroke-width="0.6"/>
<line x1="65.6" y1="226.9" x2="67.6" y2="226.9" stroke="#dedb70" stroke-width="0.6"/>
<line x1="65.6" y1="231.9" x2="67.6" y2="231.9" stroke="#dedb70" stroke-width="0.6"/>
<rect x="65.0" y="227.9" width="3.1" height="3.1" fill="#d4cd2a"/>
<line x1="69.0" y1="224.0" x2="69.0" y2="227.0" stroke="#6aa86a" stroke-width="0.6"/>
<line x1="68.0" y1="224.0" x2="70.0" y2="224.0" stroke="#6aa86a" stroke-width="0.6"/>
<line x1="68.0" y1="227.0" x2="70.0" y2="227.0" stroke="#6aa86a" stroke-width="0.6"/>
<path d="M69.0,223.6 L70.9,226.9 L67.1,226.9 Z" fill="#2e8a2e"/>
<line x1="71.4" y1="212.6" x2="71.4" y2="216.6" stroke="#a070b8" stroke-width="0.6"/>
<line x1="70.4" y1="212.6" x2="72.4" y2="212.6" stroke="#a070b8" stroke-width="0.6"/>
<line x1="70.4" y1="216.6" x2="72.4" y2="216.6" stroke="#a070b8" stroke-width="0.6"/>
<path d="M71.4,216.5 L73.3,213.2 L69.5,213.2 Z" fill="#6a1a8a"/>
<line x1="76.1" y1="217.1" x2="76.1" y2="223.1" stroke="#f0a070" stroke-width="0.6"/>
<line x1="75.1" y1="217.1" x2="77.1" y2="217.1" stroke="#f0a070" stroke-width="0.6"/>
<line x1="75.1" y1="223.1" x2="77.1" y2="223.1" stroke="#f0a070" stroke-width="0.6"/>
<circle cx="76.1" cy="220.1" r="1.65" fill="#e8742a"/>
<line x1="78.5" y1="222.8" x2="78.5" y2="226.8" stroke="#dedb70" stroke-width="0.6"/>
<line x1="77.5" y1="222.8" x2="79.5" y2="222.8" stroke="#dedb70" stroke-width="0.6"/>
<line x1="77.5" y1="226.8" x2="79.5" y2="226.8" stroke="#dedb70" stroke-width="0.6"/>
<rect x="77.0" y="223.2" width="3.1" height="3.1" fill="#d4cd2a"/>
<line x1="80.9" y1="219.2" x2="80.9" y2="222.2" stroke="#6aa86a" stroke-width="0.6"/>
<line x1="79.9" y1="219.2" x2="81.9" y2="219.2" stroke="#6aa86a" stroke-width="0.6"/>
<line x1="79.9" y1="222.2" x2="81.9" y2="222.2" stroke="#6aa86a" stroke-width="0.6"/>
<path d="M80.9,218.8 L82.8,222.1 L79.0,222.1 Z" fill="#2e8a2e"/>
<line x1="83.3" y1="209.7" x2="83.3" y2="212.7" stroke="#a070b8" stroke-width="0.6"/>
<line x1="82.3" y1="209.7" x2="84.3" y2="209.7" stroke="#a070b8" stroke-width="0.6"/>
<line x1="82.3" y1="212.7" x2="84.3" y2="212.7" stroke="#a070b8" stroke-width="0.6"/>
<path d="M83.3,213.1 L85.2,209.8 L81.4,209.8 Z" fill="#6a1a8a"/>
<line x1="88.0" y1="214.7" x2="88.0" y2="216.7" stroke="#f0a070" stroke-width="0.6"/>
<line x1="87.0" y1="214.7" x2="89.0" y2="214.7" stroke="#f0a070" stroke-width="0.6"/>
<line x1="87.0" y1="216.7" x2="89.0" y2="216.7" stroke="#f0a070" stroke-width="0.6"/>
<circle cx="88.0" cy="215.7" r="1.65" fill="#e8742a"/>
<line x1="90.4" y1="215.1" x2="90.4" y2="217.1" stroke="#dedb70" stroke-width="0.6"/>
<line x1="89.4" y1="215.1" x2="91.4" y2="215.1" stroke="#dedb70" stroke-width="0.6"/>
<line x1="89.4" y1="217.1" x2="91.4" y2="217.1" stroke="#dedb70" stroke-width="0.6"/>
<rect x="88.8" y="214.5" width="3.1" height="3.1" fill="#d4cd2a"/>
<line x1="92.8" y1="213.0" x2="92.8" y2="215.0" stroke="#6aa86a" stroke-width="0.6"/>
<line x1="91.8" y1="213.0" x2="93.8" y2="213.0" stroke="#6aa86a" stroke-width="0.6"/>
<line x1="91.8" y1="215.0" x2="93.8" y2="215.0" stroke="#6aa86a" stroke-width="0.6"/>
<path d="M92.8,212.1 L94.7,215.4 L90.9,215.4 Z" fill="#2e8a2e"/>
<line x1="95.2" y1="206.1" x2="95.2" y2="209.1" stroke="#a070b8" stroke-width="0.6"/>
<line x1="94.2" y1="206.1" x2="96.2" y2="206.1" stroke="#a070b8" stroke-width="0.6"/>
<line x1="94.2" y1="209.1" x2="96.2" y2="209.1" stroke="#a070b8" stroke-width="0.6"/>
<path d="M95.2,209.5 L97.1,206.2 L93.3,206.2 Z" fill="#6a1a8a"/>
<line x1="99.9" y1="208.5" x2="99.9" y2="211.5" stroke="#f0a070" stroke-width="0.6"/>
<line x1="98.9" y1="208.5" x2="100.9" y2="208.5" stroke="#f0a070" stroke-width="0.6"/>
<line x1="98.9" y1="211.5" x2="100.9" y2="211.5" stroke="#f0a070" stroke-width="0.6"/>
<circle cx="99.9" cy="210.0" r="1.65" fill="#e8742a"/>
<line x1="102.3" y1="208.5" x2="102.3" y2="211.5" stroke="#dedb70" stroke-width="0.6"/>
<line x1="101.3" y1="208.5" x2="103.3" y2="208.5" stroke="#dedb70" stroke-width="0.6"/>
<line x1="101.3" y1="211.5" x2="103.3" y2="211.5" stroke="#dedb70" stroke-width="0.6"/>
<rect x="100.8" y="208.4" width="3.1" height="3.1" fill="#d4cd2a"/>
<line x1="104.7" y1="207.3" x2="104.7" y2="211.3" stroke="#6aa86a" stroke-width="0.6"/>
<line x1="103.7" y1="207.3" x2="105.7" y2="207.3" stroke="#6aa86a" stroke-width="0.6"/>
<line x1="103.7" y1="211.3" x2="105.7" y2="211.3" stroke="#6aa86a" stroke-width="0.6"/>
<path d="M104.7,207.4 L106.6,210.7 L102.8,210.7 Z" fill="#2e8a2e"/>
<line x1="107.1" y1="205.0" x2="107.1" y2="208.0" stroke="#a070b8" stroke-width="0.6"/>
<line x1="106.1" y1="205.0" x2="108.1" y2="205.0" stroke="#a070b8" stroke-width="0.6"/>
<line x1="106.1" y1="208.0" x2="108.1" y2="208.0" stroke="#a070b8" stroke-width="0.6"/>
<path d="M107.1,208.4 L109.0,205.1 L105.2,205.1 Z" fill="#6a1a8a"/>
<line x1="118.0" y1="187.2" x2="118.0" y2="247.3" stroke="#222" stroke-width="1.3"/>
<line x1="118.0" y1="247.3" x2="177.5" y2="247.3" stroke="#222" stroke-width="1.3"/>
<line x1="116.0" y1="187.7" x2="118.0" y2="187.7" stroke="#222" stroke-width="0.9"/>
<line x1="116.0" y1="199.6" x2="118.0" y2="199.6" stroke="#222" stroke-width="0.9"/>
<line x1="116.0" y1="211.5" x2="118.0" y2="211.5" stroke="#222" stroke-width="0.9"/>
<line x1="116.0" y1="223.5" x2="118.0" y2="223.5" stroke="#222" stroke-width="0.9"/>
<line x1="116.0" y1="235.4" x2="118.0" y2="235.4" stroke="#222" stroke-width="0.9"/>
<line x1="116.0" y1="247.3" x2="118.0" y2="247.3" stroke="#222" stroke-width="0.9"/>
<line x1="118.0" y1="211.5" x2="177.5" y2="211.5" stroke="#333" stroke-width="0.9" stroke-dasharray="1.6,1.4"/>
<line x1="124.0" y1="247.3" x2="124.0" y2="249.3" stroke="#222" stroke-width="0.9"/>
<text x="124.0" y="255.9" font-size="5.0" text-anchor="middle" fill="#333" style="stroke-width:0.08px">0.25</text>
<line x1="135.9" y1="247.3" x2="135.9" y2="249.3" stroke="#222" stroke-width="0.9"/>
<text x="135.9" y="255.9" font-size="5.0" text-anchor="middle" fill="#333" style="stroke-width:0.08px">0.50</text>
<line x1="147.8" y1="247.3" x2="147.8" y2="249.3" stroke="#222" stroke-width="0.9"/>
<text x="147.8" y="255.9" font-size="5.0" text-anchor="middle" fill="#333" style="stroke-width:0.08px">1.00</text>
<line x1="159.7" y1="247.3" x2="159.7" y2="249.3" stroke="#222" stroke-width="0.9"/>
<text x="159.7" y="255.9" font-size="5.0" text-anchor="middle" fill="#333" style="stroke-width:0.08px">2.00</text>
<line x1="171.6" y1="247.3" x2="171.6" y2="249.3" stroke="#222" stroke-width="0.9"/>
<text x="171.6" y="255.9" font-size="5.0" text-anchor="middle" fill="#333" style="stroke-width:0.08px">4.00</text>
<line x1="120.4" y1="202.8" x2="120.4" y2="224.8" stroke="#f0a070" stroke-width="0.6"/>
<line x1="119.4" y1="202.8" x2="121.4" y2="202.8" stroke="#f0a070" stroke-width="0.6"/>
<line x1="119.4" y1="224.8" x2="121.4" y2="224.8" stroke="#f0a070" stroke-width="0.6"/>
<circle cx="120.4" cy="213.8" r="1.65" fill="#e8742a"/>
<line x1="122.8" y1="222.7" x2="122.8" y2="226.7" stroke="#dedb70" stroke-width="0.6"/>
<line x1="121.8" y1="222.7" x2="123.8" y2="222.7" stroke="#dedb70" stroke-width="0.6"/>
<line x1="121.8" y1="226.7" x2="123.8" y2="226.7" stroke="#dedb70" stroke-width="0.6"/>
<rect x="121.2" y="223.1" width="3.1" height="3.1" fill="#d4cd2a"/>
<line x1="125.2" y1="221.5" x2="125.2" y2="224.5" stroke="#6aa86a" stroke-width="0.6"/>
<line x1="124.2" y1="221.5" x2="126.2" y2="221.5" stroke="#6aa86a" stroke-width="0.6"/>
<line x1="124.2" y1="224.5" x2="126.2" y2="224.5" stroke="#6aa86a" stroke-width="0.6"/>
<path d="M125.2,221.1 L127.1,224.4 L123.3,224.4 Z" fill="#2e8a2e"/>
<line x1="127.6" y1="208.2" x2="127.6" y2="214.2" stroke="#a070b8" stroke-width="0.6"/>
<line x1="126.6" y1="208.2" x2="128.6" y2="208.2" stroke="#a070b8" stroke-width="0.6"/>
<line x1="126.6" y1="214.2" x2="128.6" y2="214.2" stroke="#a070b8" stroke-width="0.6"/>
<path d="M127.6,213.1 L129.5,209.8 L125.7,209.8 Z" fill="#6a1a8a"/>
<line x1="132.3" y1="212.1" x2="132.3" y2="225.1" stroke="#f0a070" stroke-width="0.6"/>
<line x1="131.3" y1="212.1" x2="133.3" y2="212.1" stroke="#f0a070" stroke-width="0.6"/>
<line x1="131.3" y1="225.1" x2="133.3" y2="225.1" stroke="#f0a070" stroke-width="0.6"/>
<circle cx="132.3" cy="218.6" r="1.65" fill="#e8742a"/>
<line x1="134.7" y1="229.0" x2="134.7" y2="235.0" stroke="#dedb70" stroke-width="0.6"/>
<line x1="133.7" y1="229.0" x2="135.7" y2="229.0" stroke="#dedb70" stroke-width="0.6"/>
<line x1="133.7" y1="235.0" x2="135.7" y2="235.0" stroke="#dedb70" stroke-width="0.6"/>
<rect x="133.2" y="230.5" width="3.1" height="3.1" fill="#d4cd2a"/>
<line x1="137.1" y1="225.5" x2="137.1" y2="230.5" stroke="#6aa86a" stroke-width="0.6"/>
<line x1="136.1" y1="225.5" x2="138.1" y2="225.5" stroke="#6aa86a" stroke-width="0.6"/>
<line x1="136.1" y1="230.5" x2="138.1" y2="230.5" stroke="#6aa86a" stroke-width="0.6"/>
<path d="M137.1,226.1 L139.0,229.4 L135.2,229.4 Z" fill="#2e8a2e"/>
<line x1="139.5" y1="211.8" x2="139.5" y2="216.8" stroke="#a070b8" stroke-width="0.6"/>
<line x1="138.5" y1="211.8" x2="140.5" y2="211.8" stroke="#a070b8" stroke-width="0.6"/>
<line x1="138.5" y1="216.8" x2="140.5" y2="216.8" stroke="#a070b8" stroke-width="0.6"/>
<path d="M139.5,216.2 L141.4,212.9 L137.6,212.9 Z" fill="#6a1a8a"/>
<line x1="144.2" y1="219.6" x2="144.2" y2="223.6" stroke="#f0a070" stroke-width="0.6"/>
<line x1="143.2" y1="219.6" x2="145.2" y2="219.6" stroke="#f0a070" stroke-width="0.6"/>
<line x1="143.2" y1="223.6" x2="145.2" y2="223.6" stroke="#f0a070" stroke-width="0.6"/>
<circle cx="144.2" cy="221.6" r="1.65" fill="#e8742a"/>
<line x1="146.6" y1="224.0" x2="146.6" y2="228.0" stroke="#dedb70" stroke-width="0.6"/>
<line x1="145.6" y1="224.0" x2="147.6" y2="224.0" stroke="#dedb70" stroke-width="0.6"/>
<line x1="145.6" y1="228.0" x2="147.6" y2="228.0" stroke="#dedb70" stroke-width="0.6"/>
<rect x="145.1" y="224.4" width="3.1" height="3.1" fill="#d4cd2a"/>
<line x1="149.0" y1="224.9" x2="149.0" y2="227.9" stroke="#6aa86a" stroke-width="0.6"/>
<line x1="148.0" y1="224.9" x2="150.0" y2="224.9" stroke="#6aa86a" stroke-width="0.6"/>
<line x1="148.0" y1="227.9" x2="150.0" y2="227.9" stroke="#6aa86a" stroke-width="0.6"/>
<path d="M149.0,224.5 L150.9,227.8 L147.1,227.8 Z" fill="#2e8a2e"/>
<line x1="151.4" y1="211.8" x2="151.4" y2="215.8" stroke="#a070b8" stroke-width="0.6"/>
<line x1="150.4" y1="211.8" x2="152.4" y2="211.8" stroke="#a070b8" stroke-width="0.6"/>
<line x1="150.4" y1="215.8" x2="152.4" y2="215.8" stroke="#a070b8" stroke-width="0.6"/>
<path d="M151.4,215.7 L153.3,212.4 L149.5,212.4 Z" fill="#6a1a8a"/>
<line x1="156.1" y1="217.1" x2="156.1" y2="220.1" stroke="#f0a070" stroke-width="0.6"/>
<line x1="155.1" y1="217.1" x2="157.1" y2="217.1" stroke="#f0a070" stroke-width="0.6"/>
<line x1="155.1" y1="220.1" x2="157.1" y2="220.1" stroke="#f0a070" stroke-width="0.6"/>
<circle cx="156.1" cy="218.6" r="1.65" fill="#e8742a"/>
<line x1="158.5" y1="219.9" x2="158.5" y2="223.9" stroke="#dedb70" stroke-width="0.6"/>
<line x1="157.5" y1="219.9" x2="159.5" y2="219.9" stroke="#dedb70" stroke-width="0.6"/>
<line x1="157.5" y1="223.9" x2="159.5" y2="223.9" stroke="#dedb70" stroke-width="0.6"/>
<rect x="156.9" y="220.4" width="3.1" height="3.1" fill="#d4cd2a"/>
<line x1="160.9" y1="220.6" x2="160.9" y2="224.6" stroke="#6aa86a" stroke-width="0.6"/>
<line x1="159.9" y1="220.6" x2="161.9" y2="220.6" stroke="#6aa86a" stroke-width="0.6"/>
<line x1="159.9" y1="224.6" x2="161.9" y2="224.6" stroke="#6aa86a" stroke-width="0.6"/>
<path d="M160.9,220.7 L162.8,224.0 L159.0,224.0 Z" fill="#2e8a2e"/>
<line x1="163.3" y1="213.2" x2="163.3" y2="218.2" stroke="#a070b8" stroke-width="0.6"/>
<line x1="162.3" y1="213.2" x2="164.3" y2="213.2" stroke="#a070b8" stroke-width="0.6"/>
<line x1="162.3" y1="218.2" x2="164.3" y2="218.2" stroke="#a070b8" stroke-width="0.6"/>
<path d="M163.3,217.6 L165.2,214.3 L161.4,214.3 Z" fill="#6a1a8a"/>
<line x1="168.0" y1="211.7" x2="168.0" y2="214.7" stroke="#f0a070" stroke-width="0.6"/>
<line x1="167.0" y1="211.7" x2="169.0" y2="211.7" stroke="#f0a070" stroke-width="0.6"/>
<line x1="167.0" y1="214.7" x2="169.0" y2="214.7" stroke="#f0a070" stroke-width="0.6"/>
<circle cx="168.0" cy="213.2" r="1.65" fill="#e8742a"/>
<line x1="170.4" y1="213.7" x2="170.4" y2="216.7" stroke="#dedb70" stroke-width="0.6"/>
<line x1="169.4" y1="213.7" x2="171.4" y2="213.7" stroke="#dedb70" stroke-width="0.6"/>
<line x1="169.4" y1="216.7" x2="171.4" y2="216.7" stroke="#dedb70" stroke-width="0.6"/>
<rect x="168.8" y="213.7" width="3.1" height="3.1" fill="#d4cd2a"/>
<line x1="172.8" y1="213.7" x2="172.8" y2="216.7" stroke="#6aa86a" stroke-width="0.6"/>
<line x1="171.8" y1="213.7" x2="173.8" y2="213.7" stroke="#6aa86a" stroke-width="0.6"/>
<line x1="171.8" y1="216.7" x2="173.8" y2="216.7" stroke="#6aa86a" stroke-width="0.6"/>
<path d="M172.8,213.3 L174.7,216.6 L170.9,216.6 Z" fill="#2e8a2e"/>
<line x1="175.2" y1="208.9" x2="175.2" y2="214.9" stroke="#a070b8" stroke-width="0.6"/>
<line x1="174.2" y1="208.9" x2="176.2" y2="208.9" stroke="#a070b8" stroke-width="0.6"/>
<line x1="174.2" y1="214.9" x2="176.2" y2="214.9" stroke="#a070b8" stroke-width="0.6"/>
<path d="M175.2,213.8 L177.1,210.5 L173.3,210.5 Z" fill="#6a1a8a"/>
<line x1="185.2" y1="187.2" x2="185.2" y2="247.3" stroke="#222" stroke-width="1.3"/>
<line x1="185.2" y1="247.3" x2="244.7" y2="247.3" stroke="#222" stroke-width="1.3"/>
<line x1="183.2" y1="187.7" x2="185.2" y2="187.7" stroke="#222" stroke-width="0.9"/>
<line x1="183.2" y1="199.6" x2="185.2" y2="199.6" stroke="#222" stroke-width="0.9"/>
<line x1="183.2" y1="211.5" x2="185.2" y2="211.5" stroke="#222" stroke-width="0.9"/>
<line x1="183.2" y1="223.5" x2="185.2" y2="223.5" stroke="#222" stroke-width="0.9"/>
<line x1="183.2" y1="235.4" x2="185.2" y2="235.4" stroke="#222" stroke-width="0.9"/>
<line x1="183.2" y1="247.3" x2="185.2" y2="247.3" stroke="#222" stroke-width="0.9"/>
<line x1="185.2" y1="211.5" x2="244.7" y2="211.5" stroke="#333" stroke-width="0.9" stroke-dasharray="1.6,1.4"/>
<line x1="191.2" y1="247.3" x2="191.2" y2="249.3" stroke="#222" stroke-width="0.9"/>
<text x="191.2" y="255.9" font-size="5.0" text-anchor="middle" fill="#333" style="stroke-width:0.08px">0.25</text>
<line x1="203.1" y1="247.3" x2="203.1" y2="249.3" stroke="#222" stroke-width="0.9"/>
<text x="203.1" y="255.9" font-size="5.0" text-anchor="middle" fill="#333" style="stroke-width:0.08px">0.50</text>
<line x1="215.0" y1="247.3" x2="215.0" y2="249.3" stroke="#222" stroke-width="0.9"/>
<text x="215.0" y="255.9" font-size="5.0" text-anchor="middle" fill="#333" style="stroke-width:0.08px">1.00</text>
<line x1="226.9" y1="247.3" x2="226.9" y2="249.3" stroke="#222" stroke-width="0.9"/>
<text x="226.9" y="255.9" font-size="5.0" text-anchor="middle" fill="#333" style="stroke-width:0.08px">2.00</text>
<line x1="238.8" y1="247.3" x2="238.8" y2="249.3" stroke="#222" stroke-width="0.9"/>
<text x="238.8" y="255.9" font-size="5.0" text-anchor="middle" fill="#333" style="stroke-width:0.08px">4.00</text>
<line x1="187.6" y1="214.8" x2="187.6" y2="219.8" stroke="#f0a070" stroke-width="0.6"/>
<line x1="186.6" y1="214.8" x2="188.6" y2="214.8" stroke="#f0a070" stroke-width="0.6"/>
<line x1="186.6" y1="219.8" x2="188.6" y2="219.8" stroke="#f0a070" stroke-width="0.6"/>
<circle cx="187.6" cy="217.3" r="1.65" fill="#e8742a"/>
<line x1="190.0" y1="226.3" x2="190.0" y2="229.3" stroke="#dedb70" stroke-width="0.6"/>
<line x1="189.0" y1="226.3" x2="191.0" y2="226.3" stroke="#dedb70" stroke-width="0.6"/>
<line x1="189.0" y1="229.3" x2="191.0" y2="229.3" stroke="#dedb70" stroke-width="0.6"/>
<rect x="188.4" y="226.2" width="3.1" height="3.1" fill="#d4cd2a"/>
<line x1="192.4" y1="226.7" x2="192.4" y2="229.7" stroke="#6aa86a" stroke-width="0.6"/>
<line x1="191.4" y1="226.7" x2="193.4" y2="226.7" stroke="#6aa86a" stroke-width="0.6"/>
<line x1="191.4" y1="229.7" x2="193.4" y2="229.7" stroke="#6aa86a" stroke-width="0.6"/>
<path d="M192.4,226.3 L194.3,229.6 L190.5,229.6 Z" fill="#2e8a2e"/>
<line x1="194.8" y1="219.8" x2="194.8" y2="222.8" stroke="#a070b8" stroke-width="0.6"/>
<line x1="193.8" y1="219.8" x2="195.8" y2="219.8" stroke="#a070b8" stroke-width="0.6"/>
<line x1="193.8" y1="222.8" x2="195.8" y2="222.8" stroke="#a070b8" stroke-width="0.6"/>
<path d="M194.8,223.2 L196.7,219.9 L192.9,219.9 Z" fill="#6a1a8a"/>
<line x1="199.5" y1="215.6" x2="199.5" y2="221.6" stroke="#f0a070" stroke-width="0.6"/>
<line x1="198.5" y1="215.6" x2="200.5" y2="215.6" stroke="#f0a070" stroke-width="0.6"/>
<line x1="198.5" y1="221.6" x2="200.5" y2="221.6" stroke="#f0a070" stroke-width="0.6"/>
<circle cx="199.5" cy="218.6" r="1.65" fill="#e8742a"/>
<line x1="201.9" y1="226.7" x2="201.9" y2="230.7" stroke="#dedb70" stroke-width="0.6"/>
<line x1="200.9" y1="226.7" x2="202.9" y2="226.7" stroke="#dedb70" stroke-width="0.6"/>
<line x1="200.9" y1="230.7" x2="202.9" y2="230.7" stroke="#dedb70" stroke-width="0.6"/>
<rect x="200.3" y="227.2" width="3.1" height="3.1" fill="#d4cd2a"/>
<line x1="204.3" y1="228.5" x2="204.3" y2="233.5" stroke="#6aa86a" stroke-width="0.6"/>
<line x1="203.3" y1="228.5" x2="205.3" y2="228.5" stroke="#6aa86a" stroke-width="0.6"/>
<line x1="203.3" y1="233.5" x2="205.3" y2="233.5" stroke="#6aa86a" stroke-width="0.6"/>
<path d="M204.3,229.1 L206.2,232.4 L202.4,232.4 Z" fill="#2e8a2e"/>
<line x1="206.7" y1="221.3" x2="206.7" y2="226.3" stroke="#a070b8" stroke-width="0.6"/>
<line x1="205.7" y1="221.3" x2="207.7" y2="221.3" stroke="#a070b8" stroke-width="0.6"/>
<line x1="205.7" y1="226.3" x2="207.7" y2="226.3" stroke="#a070b8" stroke-width="0.6"/>
<path d="M206.7,225.7 L208.6,222.4 L204.8,222.4 Z" fill="#6a1a8a"/>
<line x1="211.4" y1="214.2" x2="211.4" y2="217.2" stroke="#f0a070" stroke-width="0.6"/>
<line x1="210.4" y1="214.2" x2="212.4" y2="214.2" stroke="#f0a070" stroke-width="0.6"/>
<line x1="210.4" y1="217.2" x2="212.4" y2="217.2" stroke="#f0a070" stroke-width="0.6"/>
<circle cx="211.4" cy="215.7" r="1.65" fill="#e8742a"/>
<line x1="213.8" y1="222.3" x2="213.8" y2="225.3" stroke="#dedb70" stroke-width="0.6"/>
<line x1="212.8" y1="222.3" x2="214.8" y2="222.3" stroke="#dedb70" stroke-width="0.6"/>
<line x1="212.8" y1="225.3" x2="214.8" y2="225.3" stroke="#dedb70" stroke-width="0.6"/>
<rect x="212.2" y="222.3" width="3.1" height="3.1" fill="#d4cd2a"/>
<line x1="216.2" y1="225.5" x2="216.2" y2="228.5" stroke="#6aa86a" stroke-width="0.6"/>
<line x1="215.2" y1="225.5" x2="217.2" y2="225.5" stroke="#6aa86a" stroke-width="0.6"/>
<line x1="215.2" y1="228.5" x2="217.2" y2="228.5" stroke="#6aa86a" stroke-width="0.6"/>
<path d="M216.2,225.1 L218.1,228.4 L214.3,228.4 Z" fill="#2e8a2e"/>
<line x1="218.6" y1="223.9" x2="218.6" y2="226.9" stroke="#a070b8" stroke-width="0.6"/>
<line x1="217.6" y1="223.9" x2="219.6" y2="223.9" stroke="#a070b8" stroke-width="0.6"/>
<line x1="217.6" y1="226.9" x2="219.6" y2="226.9" stroke="#a070b8" stroke-width="0.6"/>
<path d="M218.6,227.3 L220.5,224.0 L216.7,224.0 Z" fill="#6a1a8a"/>
<line x1="223.3" y1="211.7" x2="223.3" y2="214.7" stroke="#f0a070" stroke-width="0.6"/>
<line x1="222.3" y1="211.7" x2="224.3" y2="211.7" stroke="#f0a070" stroke-width="0.6"/>
<line x1="222.3" y1="214.7" x2="224.3" y2="214.7" stroke="#f0a070" stroke-width="0.6"/>
<circle cx="223.3" cy="213.2" r="1.65" fill="#e8742a"/>
<line x1="225.7" y1="219.5" x2="225.7" y2="222.5" stroke="#dedb70" stroke-width="0.6"/>
<line x1="224.7" y1="219.5" x2="226.7" y2="219.5" stroke="#dedb70" stroke-width="0.6"/>
<line x1="224.7" y1="222.5" x2="226.7" y2="222.5" stroke="#dedb70" stroke-width="0.6"/>
<rect x="224.1" y="219.4" width="3.1" height="3.1" fill="#d4cd2a"/>
<line x1="228.1" y1="225.5" x2="228.1" y2="228.5" stroke="#6aa86a" stroke-width="0.6"/>
<line x1="227.1" y1="225.5" x2="229.1" y2="225.5" stroke="#6aa86a" stroke-width="0.6"/>
<line x1="227.1" y1="228.5" x2="229.1" y2="228.5" stroke="#6aa86a" stroke-width="0.6"/>
<path d="M228.1,225.1 L230.0,228.4 L226.2,228.4 Z" fill="#2e8a2e"/>
<line x1="230.5" y1="227.6" x2="230.5" y2="230.6" stroke="#a070b8" stroke-width="0.6"/>
<line x1="229.5" y1="227.6" x2="231.5" y2="227.6" stroke="#a070b8" stroke-width="0.6"/>
<line x1="229.5" y1="230.6" x2="231.5" y2="230.6" stroke="#a070b8" stroke-width="0.6"/>
<path d="M230.5,231.0 L232.4,227.7 L228.6,227.7 Z" fill="#6a1a8a"/>
<line x1="235.2" y1="209.2" x2="235.2" y2="211.2" stroke="#f0a070" stroke-width="0.6"/>
<line x1="234.2" y1="209.2" x2="236.2" y2="209.2" stroke="#f0a070" stroke-width="0.6"/>
<line x1="234.2" y1="211.2" x2="236.2" y2="211.2" stroke="#f0a070" stroke-width="0.6"/>
<circle cx="235.2" cy="210.2" r="1.65" fill="#e8742a"/>
<line x1="237.6" y1="216.0" x2="237.6" y2="219.0" stroke="#dedb70" stroke-width="0.6"/>
<line x1="236.6" y1="216.0" x2="238.6" y2="216.0" stroke="#dedb70" stroke-width="0.6"/>
<line x1="236.6" y1="219.0" x2="238.6" y2="219.0" stroke="#dedb70" stroke-width="0.6"/>
<rect x="236.0" y="215.9" width="3.1" height="3.1" fill="#d4cd2a"/>
<line x1="240.0" y1="225.0" x2="240.0" y2="229.0" stroke="#6aa86a" stroke-width="0.6"/>
<line x1="239.0" y1="225.0" x2="241.0" y2="225.0" stroke="#6aa86a" stroke-width="0.6"/>
<line x1="239.0" y1="229.0" x2="241.0" y2="229.0" stroke="#6aa86a" stroke-width="0.6"/>
<path d="M240.0,225.1 L241.9,228.4 L238.1,228.4 Z" fill="#2e8a2e"/>
<line x1="242.4" y1="225.7" x2="242.4" y2="231.7" stroke="#a070b8" stroke-width="0.6"/>
<line x1="241.4" y1="225.7" x2="243.4" y2="225.7" stroke="#a070b8" stroke-width="0.6"/>
<line x1="241.4" y1="231.7" x2="243.4" y2="231.7" stroke="#a070b8" stroke-width="0.6"/>
<path d="M242.4,230.6 L244.3,227.3 L240.5,227.3 Z" fill="#6a1a8a"/>
<line x1="49.9" y1="264.2" x2="49.9" y2="323.8" stroke="#222" stroke-width="1.3"/>
<line x1="49.9" y1="323.8" x2="109.4" y2="323.8" stroke="#222" stroke-width="1.3"/>
<line x1="47.9" y1="264.7" x2="49.9" y2="264.7" stroke="#222" stroke-width="0.9"/>
<text x="45.9" y="266.4" font-size="5.0" text-anchor="end" fill="#222" style="stroke-width:0.08px">4</text>
<line x1="47.9" y1="276.5" x2="49.9" y2="276.5" stroke="#222" stroke-width="0.9"/>
<text x="45.9" y="278.2" font-size="5.0" text-anchor="end" fill="#222" style="stroke-width:0.08px">2</text>
<line x1="47.9" y1="288.3" x2="49.9" y2="288.3" stroke="#222" stroke-width="0.9"/>
<text x="45.9" y="290.1" font-size="5.0" text-anchor="end" fill="#222" style="stroke-width:0.08px">1</text>
<line x1="47.9" y1="300.2" x2="49.9" y2="300.2" stroke="#222" stroke-width="0.9"/>
<text x="45.9" y="301.9" font-size="5.0" text-anchor="end" fill="#222" style="stroke-width:0.08px">0.5</text>
<line x1="47.9" y1="312.0" x2="49.9" y2="312.0" stroke="#222" stroke-width="0.9"/>
<text x="45.9" y="313.7" font-size="5.0" text-anchor="end" fill="#222" style="stroke-width:0.08px">0.25</text>
<line x1="47.9" y1="323.8" x2="49.9" y2="323.8" stroke="#222" stroke-width="0.9"/>
<text x="45.9" y="325.5" font-size="5.0" text-anchor="end" fill="#222" style="stroke-width:0.08px">0.125</text>
<line x1="49.9" y1="288.3" x2="109.4" y2="288.3" stroke="#333" stroke-width="0.9" stroke-dasharray="1.6,1.4"/>
<line x1="55.9" y1="323.8" x2="55.9" y2="325.8" stroke="#222" stroke-width="0.9"/>
<text x="55.9" y="331.8" font-size="5.0" text-anchor="middle" fill="#333" style="stroke-width:0.08px">0.25</text>
<line x1="67.8" y1="323.8" x2="67.8" y2="325.8" stroke="#222" stroke-width="0.9"/>
<text x="67.8" y="331.8" font-size="5.0" text-anchor="middle" fill="#333" style="stroke-width:0.08px">0.50</text>
<line x1="79.7" y1="323.8" x2="79.7" y2="325.8" stroke="#222" stroke-width="0.9"/>
<text x="79.7" y="331.8" font-size="5.0" text-anchor="middle" fill="#333" style="stroke-width:0.08px">1.00</text>
<line x1="91.6" y1="323.8" x2="91.6" y2="325.8" stroke="#222" stroke-width="0.9"/>
<text x="91.6" y="331.8" font-size="5.0" text-anchor="middle" fill="#333" style="stroke-width:0.08px">2.00</text>
<line x1="103.5" y1="323.8" x2="103.5" y2="325.8" stroke="#222" stroke-width="0.9"/>
<text x="103.5" y="331.8" font-size="5.0" text-anchor="middle" fill="#333" style="stroke-width:0.08px">4.00</text>
<text x="79.6" y="341.0" font-size="5.6" text-anchor="middle" fill="#333" style="stroke-width:0.08px">(Paxalisib; µmol/L)</text>
<text transform="translate(30.5,294.2) rotate(-90)" font-size="5.0" text-anchor="middle" fill="#333" style="stroke-width:0.08px">Combination index</text>
<line x1="52.3" y1="297.9" x2="52.3" y2="302.9" stroke="#f0a070" stroke-width="0.6"/>
<line x1="51.3" y1="297.9" x2="53.3" y2="297.9" stroke="#f0a070" stroke-width="0.6"/>
<line x1="51.3" y1="302.9" x2="53.3" y2="302.9" stroke="#f0a070" stroke-width="0.6"/>
<circle cx="52.3" cy="300.4" r="1.65" fill="#e8742a"/>
<line x1="54.7" y1="303.2" x2="54.7" y2="307.2" stroke="#dedb70" stroke-width="0.6"/>
<line x1="53.7" y1="303.2" x2="55.7" y2="303.2" stroke="#dedb70" stroke-width="0.6"/>
<line x1="53.7" y1="307.2" x2="55.7" y2="307.2" stroke="#dedb70" stroke-width="0.6"/>
<rect x="53.1" y="303.7" width="3.1" height="3.1" fill="#d4cd2a"/>
<line x1="57.1" y1="296.4" x2="57.1" y2="308.0" stroke="#6aa86a" stroke-width="0.6"/>
<line x1="56.1" y1="296.4" x2="58.1" y2="296.4" stroke="#6aa86a" stroke-width="0.6"/>
<line x1="56.1" y1="308.0" x2="58.1" y2="308.0" stroke="#6aa86a" stroke-width="0.6"/>
<path d="M57.1,300.3 L59.0,303.6 L55.2,303.6 Z" fill="#2e8a2e"/>
<line x1="59.5" y1="282.5" x2="59.5" y2="297.7" stroke="#a070b8" stroke-width="0.6"/>
<line x1="58.5" y1="282.5" x2="60.5" y2="282.5" stroke="#a070b8" stroke-width="0.6"/>
<line x1="58.5" y1="297.7" x2="60.5" y2="297.7" stroke="#a070b8" stroke-width="0.6"/>
<path d="M59.5,292.0 L61.4,288.7 L57.6,288.7 Z" fill="#6a1a8a"/>
<line x1="64.2" y1="298.8" x2="64.2" y2="300.8" stroke="#f0a070" stroke-width="0.6"/>
<line x1="63.2" y1="298.8" x2="65.2" y2="298.8" stroke="#f0a070" stroke-width="0.6"/>
<line x1="63.2" y1="300.8" x2="65.2" y2="300.8" stroke="#f0a070" stroke-width="0.6"/>
<circle cx="64.2" cy="299.8" r="1.65" fill="#e8742a"/>
<line x1="66.6" y1="304.5" x2="66.6" y2="308.5" stroke="#dedb70" stroke-width="0.6"/>
<line x1="65.6" y1="304.5" x2="67.6" y2="304.5" stroke="#dedb70" stroke-width="0.6"/>
<line x1="65.6" y1="308.5" x2="67.6" y2="308.5" stroke="#dedb70" stroke-width="0.6"/>
<rect x="65.0" y="305.0" width="3.1" height="3.1" fill="#d4cd2a"/>
<line x1="69.0" y1="301.5" x2="69.0" y2="309.5" stroke="#6aa86a" stroke-width="0.6"/>
<line x1="68.0" y1="301.5" x2="70.0" y2="301.5" stroke="#6aa86a" stroke-width="0.6"/>
<line x1="68.0" y1="309.5" x2="70.0" y2="309.5" stroke="#6aa86a" stroke-width="0.6"/>
<path d="M69.0,303.6 L70.9,306.9 L67.1,306.9 Z" fill="#2e8a2e"/>
<line x1="71.4" y1="284.1" x2="71.4" y2="306.1" stroke="#a070b8" stroke-width="0.6"/>
<line x1="70.4" y1="284.1" x2="72.4" y2="284.1" stroke="#a070b8" stroke-width="0.6"/>
<line x1="70.4" y1="306.1" x2="72.4" y2="306.1" stroke="#a070b8" stroke-width="0.6"/>
<path d="M71.4,297.0 L73.3,293.7 L69.5,293.7 Z" fill="#6a1a8a"/>
<line x1="76.1" y1="296.4" x2="76.1" y2="298.4" stroke="#f0a070" stroke-width="0.6"/>
<line x1="75.1" y1="296.4" x2="77.1" y2="296.4" stroke="#f0a070" stroke-width="0.6"/>
<line x1="75.1" y1="298.4" x2="77.1" y2="298.4" stroke="#f0a070" stroke-width="0.6"/>
<circle cx="76.1" cy="297.4" r="1.65" fill="#e8742a"/>
<line x1="78.5" y1="300.7" x2="78.5" y2="303.7" stroke="#dedb70" stroke-width="0.6"/>
<line x1="77.5" y1="300.7" x2="79.5" y2="300.7" stroke="#dedb70" stroke-width="0.6"/>
<line x1="77.5" y1="303.7" x2="79.5" y2="303.7" stroke="#dedb70" stroke-width="0.6"/>
<rect x="77.0" y="300.6" width="3.1" height="3.1" fill="#d4cd2a"/>
<line x1="80.9" y1="299.5" x2="80.9" y2="303.5" stroke="#6aa86a" stroke-width="0.6"/>
<line x1="79.9" y1="299.5" x2="81.9" y2="299.5" stroke="#6aa86a" stroke-width="0.6"/>
<line x1="79.9" y1="303.5" x2="81.9" y2="303.5" stroke="#6aa86a" stroke-width="0.6"/>
<path d="M80.9,299.6 L82.8,302.9 L79.0,302.9 Z" fill="#2e8a2e"/>
<line x1="83.3" y1="286.1" x2="83.3" y2="299.5" stroke="#a070b8" stroke-width="0.6"/>
<line x1="82.3" y1="286.1" x2="84.3" y2="286.1" stroke="#a070b8" stroke-width="0.6"/>
<line x1="82.3" y1="299.5" x2="84.3" y2="299.5" stroke="#a070b8" stroke-width="0.6"/>
<path d="M83.3,294.7 L85.2,291.4 L81.4,291.4 Z" fill="#6a1a8a"/>
<line x1="88.0" y1="293.6" x2="88.0" y2="298.6" stroke="#f0a070" stroke-width="0.6"/>
<line x1="87.0" y1="293.6" x2="89.0" y2="293.6" stroke="#f0a070" stroke-width="0.6"/>
<line x1="87.0" y1="298.6" x2="89.0" y2="298.6" stroke="#f0a070" stroke-width="0.6"/>
<circle cx="88.0" cy="296.1" r="1.65" fill="#e8742a"/>
<line x1="90.4" y1="295.2" x2="90.4" y2="299.2" stroke="#dedb70" stroke-width="0.6"/>
<line x1="89.4" y1="295.2" x2="91.4" y2="295.2" stroke="#dedb70" stroke-width="0.6"/>
<line x1="89.4" y1="299.2" x2="91.4" y2="299.2" stroke="#dedb70" stroke-width="0.6"/>
<rect x="88.8" y="295.7" width="3.1" height="3.1" fill="#d4cd2a"/>
<line x1="92.8" y1="293.9" x2="92.8" y2="296.9" stroke="#6aa86a" stroke-width="0.6"/>
<line x1="91.8" y1="293.9" x2="93.8" y2="293.9" stroke="#6aa86a" stroke-width="0.6"/>
<line x1="91.8" y1="296.9" x2="93.8" y2="296.9" stroke="#6aa86a" stroke-width="0.6"/>
<path d="M92.8,293.5 L94.7,296.8 L90.9,296.8 Z" fill="#2e8a2e"/>
<line x1="95.2" y1="289.6" x2="95.2" y2="292.6" stroke="#a070b8" stroke-width="0.6"/>
<line x1="94.2" y1="289.6" x2="96.2" y2="289.6" stroke="#a070b8" stroke-width="0.6"/>
<line x1="94.2" y1="292.6" x2="96.2" y2="292.6" stroke="#a070b8" stroke-width="0.6"/>
<path d="M95.2,293.0 L97.1,289.7 L93.3,289.7 Z" fill="#6a1a8a"/>
<line x1="99.9" y1="280.4" x2="99.9" y2="294.4" stroke="#f0a070" stroke-width="0.6"/>
<line x1="98.9" y1="280.4" x2="100.9" y2="280.4" stroke="#f0a070" stroke-width="0.6"/>
<line x1="98.9" y1="294.4" x2="100.9" y2="294.4" stroke="#f0a070" stroke-width="0.6"/>
<circle cx="99.9" cy="287.4" r="1.65" fill="#e8742a"/>
<line x1="102.3" y1="285.3" x2="102.3" y2="291.3" stroke="#dedb70" stroke-width="0.6"/>
<line x1="101.3" y1="285.3" x2="103.3" y2="285.3" stroke="#dedb70" stroke-width="0.6"/>
<line x1="101.3" y1="291.3" x2="103.3" y2="291.3" stroke="#dedb70" stroke-width="0.6"/>
<rect x="100.8" y="286.8" width="3.1" height="3.1" fill="#d4cd2a"/>
<line x1="104.7" y1="280.3" x2="104.7" y2="296.3" stroke="#6aa86a" stroke-width="0.6"/>
<line x1="103.7" y1="280.3" x2="105.7" y2="280.3" stroke="#6aa86a" stroke-width="0.6"/>
<line x1="103.7" y1="296.3" x2="105.7" y2="296.3" stroke="#6aa86a" stroke-width="0.6"/>
<path d="M104.7,286.4 L106.6,289.7 L102.8,289.7 Z" fill="#2e8a2e"/>
<line x1="107.1" y1="284.0" x2="107.1" y2="287.0" stroke="#a070b8" stroke-width="0.6"/>
<line x1="106.1" y1="284.0" x2="108.1" y2="284.0" stroke="#a070b8" stroke-width="0.6"/>
<line x1="106.1" y1="287.0" x2="108.1" y2="287.0" stroke="#a070b8" stroke-width="0.6"/>
<path d="M107.1,287.4 L109.0,284.1 L105.2,284.1 Z" fill="#6a1a8a"/>
<line x1="118.0" y1="264.2" x2="118.0" y2="323.8" stroke="#222" stroke-width="1.3"/>
<line x1="118.0" y1="323.8" x2="177.5" y2="323.8" stroke="#222" stroke-width="1.3"/>
<line x1="116.0" y1="264.7" x2="118.0" y2="264.7" stroke="#222" stroke-width="0.9"/>
<line x1="116.0" y1="276.5" x2="118.0" y2="276.5" stroke="#222" stroke-width="0.9"/>
<line x1="116.0" y1="288.3" x2="118.0" y2="288.3" stroke="#222" stroke-width="0.9"/>
<line x1="116.0" y1="300.2" x2="118.0" y2="300.2" stroke="#222" stroke-width="0.9"/>
<line x1="116.0" y1="312.0" x2="118.0" y2="312.0" stroke="#222" stroke-width="0.9"/>
<line x1="116.0" y1="323.8" x2="118.0" y2="323.8" stroke="#222" stroke-width="0.9"/>
<line x1="118.0" y1="288.3" x2="177.5" y2="288.3" stroke="#333" stroke-width="0.9" stroke-dasharray="1.6,1.4"/>
<line x1="124.0" y1="323.8" x2="124.0" y2="325.8" stroke="#222" stroke-width="0.9"/>
<text x="124.0" y="331.8" font-size="5.0" text-anchor="middle" fill="#333" style="stroke-width:0.08px">0.25</text>
<line x1="135.9" y1="323.8" x2="135.9" y2="325.8" stroke="#222" stroke-width="0.9"/>
<text x="135.9" y="331.8" font-size="5.0" text-anchor="middle" fill="#333" style="stroke-width:0.08px">0.50</text>
<line x1="147.8" y1="323.8" x2="147.8" y2="325.8" stroke="#222" stroke-width="0.9"/>
<text x="147.8" y="331.8" font-size="5.0" text-anchor="middle" fill="#333" style="stroke-width:0.08px">1.00</text>
<line x1="159.7" y1="323.8" x2="159.7" y2="325.8" stroke="#222" stroke-width="0.9"/>
<text x="159.7" y="331.8" font-size="5.0" text-anchor="middle" fill="#333" style="stroke-width:0.08px">2.00</text>
<line x1="171.6" y1="323.8" x2="171.6" y2="325.8" stroke="#222" stroke-width="0.9"/>
<text x="171.6" y="331.8" font-size="5.0" text-anchor="middle" fill="#333" style="stroke-width:0.08px">4.00</text>
<text x="147.7" y="341.0" font-size="5.6" text-anchor="middle" fill="#333" style="stroke-width:0.08px">(Paxalisib; µmol/L)</text>
<line x1="120.4" y1="309.5" x2="120.4" y2="317.5" stroke="#f0a070" stroke-width="0.6"/>
<line x1="119.4" y1="309.5" x2="121.4" y2="309.5" stroke="#f0a070" stroke-width="0.6"/>
<line x1="119.4" y1="317.5" x2="121.4" y2="317.5" stroke="#f0a070" stroke-width="0.6"/>
<circle cx="120.4" cy="313.5" r="1.65" fill="#e8742a"/>
<line x1="122.8" y1="318.7" x2="122.8" y2="323.7" stroke="#dedb70" stroke-width="0.6"/>
<line x1="121.8" y1="318.7" x2="123.8" y2="318.7" stroke="#dedb70" stroke-width="0.6"/>
<line x1="121.8" y1="323.7" x2="123.8" y2="323.7" stroke="#dedb70" stroke-width="0.6"/>
<rect x="121.2" y="319.6" width="3.1" height="3.1" fill="#d4cd2a"/>
<line x1="125.2" y1="316.3" x2="125.2" y2="321.3" stroke="#6aa86a" stroke-width="0.6"/>
<line x1="124.2" y1="316.3" x2="126.2" y2="316.3" stroke="#6aa86a" stroke-width="0.6"/>
<line x1="124.2" y1="321.3" x2="126.2" y2="321.3" stroke="#6aa86a" stroke-width="0.6"/>
<path d="M125.2,316.9 L127.1,320.2 L123.3,320.2 Z" fill="#2e8a2e"/>
<line x1="127.6" y1="307.9" x2="127.6" y2="311.9" stroke="#a070b8" stroke-width="0.6"/>
<line x1="126.6" y1="307.9" x2="128.6" y2="307.9" stroke="#a070b8" stroke-width="0.6"/>
<line x1="126.6" y1="311.9" x2="128.6" y2="311.9" stroke="#a070b8" stroke-width="0.6"/>
<path d="M127.6,311.8 L129.5,308.5 L125.7,308.5 Z" fill="#6a1a8a"/>
<line x1="132.3" y1="306.6" x2="132.3" y2="314.6" stroke="#f0a070" stroke-width="0.6"/>
<line x1="131.3" y1="306.6" x2="133.3" y2="306.6" stroke="#f0a070" stroke-width="0.6"/>
<line x1="131.3" y1="314.6" x2="133.3" y2="314.6" stroke="#f0a070" stroke-width="0.6"/>
<circle cx="132.3" cy="310.6" r="1.65" fill="#e8742a"/>
<line x1="134.7" y1="315.6" x2="134.7" y2="320.6" stroke="#dedb70" stroke-width="0.6"/>
<line x1="133.7" y1="315.6" x2="135.7" y2="315.6" stroke="#dedb70" stroke-width="0.6"/>
<line x1="133.7" y1="320.6" x2="135.7" y2="320.6" stroke="#dedb70" stroke-width="0.6"/>
<rect x="133.2" y="316.6" width="3.1" height="3.1" fill="#d4cd2a"/>
<line x1="137.1" y1="315.8" x2="137.1" y2="319.8" stroke="#6aa86a" stroke-width="0.6"/>
<line x1="136.1" y1="315.8" x2="138.1" y2="315.8" stroke="#6aa86a" stroke-width="0.6"/>
<line x1="136.1" y1="319.8" x2="138.1" y2="319.8" stroke="#6aa86a" stroke-width="0.6"/>
<path d="M137.1,315.9 L139.0,319.2 L135.2,319.2 Z" fill="#2e8a2e"/>
<line x1="139.5" y1="308.8" x2="139.5" y2="312.8" stroke="#a070b8" stroke-width="0.6"/>
<line x1="138.5" y1="308.8" x2="140.5" y2="308.8" stroke="#a070b8" stroke-width="0.6"/>
<line x1="138.5" y1="312.8" x2="140.5" y2="312.8" stroke="#a070b8" stroke-width="0.6"/>
<path d="M139.5,312.7 L141.4,309.4 L137.6,309.4 Z" fill="#6a1a8a"/>
<line x1="144.2" y1="302.7" x2="144.2" y2="308.7" stroke="#f0a070" stroke-width="0.6"/>
<line x1="143.2" y1="302.7" x2="145.2" y2="302.7" stroke="#f0a070" stroke-width="0.6"/>
<line x1="143.2" y1="308.7" x2="145.2" y2="308.7" stroke="#f0a070" stroke-width="0.6"/>
<circle cx="144.2" cy="305.7" r="1.65" fill="#e8742a"/>
<line x1="146.6" y1="306.1" x2="146.6" y2="312.1" stroke="#dedb70" stroke-width="0.6"/>
<line x1="145.6" y1="306.1" x2="147.6" y2="306.1" stroke="#dedb70" stroke-width="0.6"/>
<line x1="145.6" y1="312.1" x2="147.6" y2="312.1" stroke="#dedb70" stroke-width="0.6"/>
<rect x="145.1" y="307.6" width="3.1" height="3.1" fill="#d4cd2a"/>
<line x1="149.0" y1="307.9" x2="149.0" y2="311.9" stroke="#6aa86a" stroke-width="0.6"/>
<line x1="148.0" y1="307.9" x2="150.0" y2="307.9" stroke="#6aa86a" stroke-width="0.6"/>
<line x1="148.0" y1="311.9" x2="150.0" y2="311.9" stroke="#6aa86a" stroke-width="0.6"/>
<path d="M149.0,308.0 L150.9,311.3 L147.1,311.3 Z" fill="#2e8a2e"/>
<line x1="151.4" y1="305.6" x2="151.4" y2="308.6" stroke="#a070b8" stroke-width="0.6"/>
<line x1="150.4" y1="305.6" x2="152.4" y2="305.6" stroke="#a070b8" stroke-width="0.6"/>
<line x1="150.4" y1="308.6" x2="152.4" y2="308.6" stroke="#a070b8" stroke-width="0.6"/>
<path d="M151.4,309.0 L153.3,305.7 L149.5,305.7 Z" fill="#6a1a8a"/>
<line x1="156.1" y1="299.5" x2="156.1" y2="303.5" stroke="#f0a070" stroke-width="0.6"/>
<line x1="155.1" y1="299.5" x2="157.1" y2="299.5" stroke="#f0a070" stroke-width="0.6"/>
<line x1="155.1" y1="303.5" x2="157.1" y2="303.5" stroke="#f0a070" stroke-width="0.6"/>
<circle cx="156.1" cy="301.5" r="1.65" fill="#e8742a"/>
<line x1="158.5" y1="301.0" x2="158.5" y2="305.0" stroke="#dedb70" stroke-width="0.6"/>
<line x1="157.5" y1="301.0" x2="159.5" y2="301.0" stroke="#dedb70" stroke-width="0.6"/>
<line x1="157.5" y1="305.0" x2="159.5" y2="305.0" stroke="#dedb70" stroke-width="0.6"/>
<rect x="156.9" y="301.4" width="3.1" height="3.1" fill="#d4cd2a"/>
<line x1="160.9" y1="300.5" x2="160.9" y2="304.5" stroke="#6aa86a" stroke-width="0.6"/>
<line x1="159.9" y1="300.5" x2="161.9" y2="300.5" stroke="#6aa86a" stroke-width="0.6"/>
<line x1="159.9" y1="304.5" x2="161.9" y2="304.5" stroke="#6aa86a" stroke-width="0.6"/>
<path d="M160.9,300.6 L162.8,303.9 L159.0,303.9 Z" fill="#2e8a2e"/>
<line x1="163.3" y1="297.8" x2="163.3" y2="301.8" stroke="#a070b8" stroke-width="0.6"/>
<line x1="162.3" y1="297.8" x2="164.3" y2="297.8" stroke="#a070b8" stroke-width="0.6"/>
<line x1="162.3" y1="301.8" x2="164.3" y2="301.8" stroke="#a070b8" stroke-width="0.6"/>
<path d="M163.3,301.7 L165.2,298.4 L161.4,298.4 Z" fill="#6a1a8a"/>
<line x1="168.0" y1="293.6" x2="168.0" y2="296.6" stroke="#f0a070" stroke-width="0.6"/>
<line x1="167.0" y1="293.6" x2="169.0" y2="293.6" stroke="#f0a070" stroke-width="0.6"/>
<line x1="167.0" y1="296.6" x2="169.0" y2="296.6" stroke="#f0a070" stroke-width="0.6"/>
<circle cx="168.0" cy="295.1" r="1.65" fill="#e8742a"/>
<line x1="170.4" y1="293.9" x2="170.4" y2="296.9" stroke="#dedb70" stroke-width="0.6"/>
<line x1="169.4" y1="293.9" x2="171.4" y2="293.9" stroke="#dedb70" stroke-width="0.6"/>
<line x1="169.4" y1="296.9" x2="171.4" y2="296.9" stroke="#dedb70" stroke-width="0.6"/>
<rect x="168.8" y="293.9" width="3.1" height="3.1" fill="#d4cd2a"/>
<line x1="172.8" y1="292.6" x2="172.8" y2="295.6" stroke="#6aa86a" stroke-width="0.6"/>
<line x1="171.8" y1="292.6" x2="173.8" y2="292.6" stroke="#6aa86a" stroke-width="0.6"/>
<line x1="171.8" y1="295.6" x2="173.8" y2="295.6" stroke="#6aa86a" stroke-width="0.6"/>
<path d="M172.8,292.2 L174.7,295.5 L170.9,295.5 Z" fill="#2e8a2e"/>
<line x1="175.2" y1="291.9" x2="175.2" y2="294.9" stroke="#a070b8" stroke-width="0.6"/>
<line x1="174.2" y1="291.9" x2="176.2" y2="291.9" stroke="#a070b8" stroke-width="0.6"/>
<line x1="174.2" y1="294.9" x2="176.2" y2="294.9" stroke="#a070b8" stroke-width="0.6"/>
<path d="M175.2,295.3 L177.1,292.0 L173.3,292.0 Z" fill="#6a1a8a"/>
<line x1="185.2" y1="264.2" x2="185.2" y2="323.8" stroke="#222" stroke-width="1.3"/>
<line x1="185.2" y1="323.8" x2="244.7" y2="323.8" stroke="#222" stroke-width="1.3"/>
<line x1="183.2" y1="264.7" x2="185.2" y2="264.7" stroke="#222" stroke-width="0.9"/>
<line x1="183.2" y1="276.5" x2="185.2" y2="276.5" stroke="#222" stroke-width="0.9"/>
<line x1="183.2" y1="288.3" x2="185.2" y2="288.3" stroke="#222" stroke-width="0.9"/>
<line x1="183.2" y1="300.2" x2="185.2" y2="300.2" stroke="#222" stroke-width="0.9"/>
<line x1="183.2" y1="312.0" x2="185.2" y2="312.0" stroke="#222" stroke-width="0.9"/>
<line x1="183.2" y1="323.8" x2="185.2" y2="323.8" stroke="#222" stroke-width="0.9"/>
<line x1="185.2" y1="288.3" x2="244.7" y2="288.3" stroke="#333" stroke-width="0.9" stroke-dasharray="1.6,1.4"/>
<line x1="191.2" y1="323.8" x2="191.2" y2="325.8" stroke="#222" stroke-width="0.9"/>
<text x="191.2" y="331.8" font-size="5.0" text-anchor="middle" fill="#333" style="stroke-width:0.08px">0.25</text>
<line x1="203.1" y1="323.8" x2="203.1" y2="325.8" stroke="#222" stroke-width="0.9"/>
<text x="203.1" y="331.8" font-size="5.0" text-anchor="middle" fill="#333" style="stroke-width:0.08px">0.50</text>
<line x1="215.0" y1="323.8" x2="215.0" y2="325.8" stroke="#222" stroke-width="0.9"/>
<text x="215.0" y="331.8" font-size="5.0" text-anchor="middle" fill="#333" style="stroke-width:0.08px">1.00</text>
<line x1="226.9" y1="323.8" x2="226.9" y2="325.8" stroke="#222" stroke-width="0.9"/>
<text x="226.9" y="331.8" font-size="5.0" text-anchor="middle" fill="#333" style="stroke-width:0.08px">2.00</text>
<line x1="238.8" y1="323.8" x2="238.8" y2="325.8" stroke="#222" stroke-width="0.9"/>
<text x="238.8" y="331.8" font-size="5.0" text-anchor="middle" fill="#333" style="stroke-width:0.08px">4.00</text>
<text x="214.9" y="341.0" font-size="5.6" text-anchor="middle" fill="#333" style="stroke-width:0.08px">(Paxalisib; µmol/L)</text>
<line x1="187.6" y1="296.5" x2="187.6" y2="302.5" stroke="#f0a070" stroke-width="0.6"/>
<line x1="186.6" y1="296.5" x2="188.6" y2="296.5" stroke="#f0a070" stroke-width="0.6"/>
<line x1="186.6" y1="302.5" x2="188.6" y2="302.5" stroke="#f0a070" stroke-width="0.6"/>
<circle cx="187.6" cy="299.5" r="1.65" fill="#e8742a"/>
<line x1="190.0" y1="305.9" x2="190.0" y2="313.9" stroke="#dedb70" stroke-width="0.6"/>
<line x1="189.0" y1="305.9" x2="191.0" y2="305.9" stroke="#dedb70" stroke-width="0.6"/>
<line x1="189.0" y1="313.9" x2="191.0" y2="313.9" stroke="#dedb70" stroke-width="0.6"/>
<rect x="188.4" y="308.3" width="3.1" height="3.1" fill="#d4cd2a"/>
<line x1="192.4" y1="306.6" x2="192.4" y2="314.6" stroke="#6aa86a" stroke-width="0.6"/>
<line x1="191.4" y1="306.6" x2="193.4" y2="306.6" stroke="#6aa86a" stroke-width="0.6"/>
<line x1="191.4" y1="314.6" x2="193.4" y2="314.6" stroke="#6aa86a" stroke-width="0.6"/>
<path d="M192.4,308.7 L194.3,312.0 L190.5,312.0 Z" fill="#2e8a2e"/>
<line x1="194.8" y1="296.8" x2="194.8" y2="302.8" stroke="#a070b8" stroke-width="0.6"/>
<line x1="193.8" y1="296.8" x2="195.8" y2="296.8" stroke="#a070b8" stroke-width="0.6"/>
<line x1="193.8" y1="302.8" x2="195.8" y2="302.8" stroke="#a070b8" stroke-width="0.6"/>
<path d="M194.8,301.7 L196.7,298.4 L192.9,298.4 Z" fill="#6a1a8a"/>
<line x1="199.5" y1="295.2" x2="199.5" y2="301.2" stroke="#f0a070" stroke-width="0.6"/>
<line x1="198.5" y1="295.2" x2="200.5" y2="295.2" stroke="#f0a070" stroke-width="0.6"/>
<line x1="198.5" y1="301.2" x2="200.5" y2="301.2" stroke="#f0a070" stroke-width="0.6"/>
<circle cx="199.5" cy="298.2" r="1.65" fill="#e8742a"/>
<line x1="201.9" y1="302.5" x2="201.9" y2="308.5" stroke="#dedb70" stroke-width="0.6"/>
<line x1="200.9" y1="302.5" x2="202.9" y2="302.5" stroke="#dedb70" stroke-width="0.6"/>
<line x1="200.9" y1="308.5" x2="202.9" y2="308.5" stroke="#dedb70" stroke-width="0.6"/>
<rect x="200.3" y="303.9" width="3.1" height="3.1" fill="#d4cd2a"/>
<line x1="204.3" y1="302.5" x2="204.3" y2="308.5" stroke="#6aa86a" stroke-width="0.6"/>
<line x1="203.3" y1="302.5" x2="205.3" y2="302.5" stroke="#6aa86a" stroke-width="0.6"/>
<line x1="203.3" y1="308.5" x2="205.3" y2="308.5" stroke="#6aa86a" stroke-width="0.6"/>
<path d="M204.3,303.6 L206.2,306.9 L202.4,306.9 Z" fill="#2e8a2e"/>
<line x1="206.7" y1="296.5" x2="206.7" y2="302.5" stroke="#a070b8" stroke-width="0.6"/>
<line x1="205.7" y1="296.5" x2="207.7" y2="296.5" stroke="#a070b8" stroke-width="0.6"/>
<line x1="205.7" y1="302.5" x2="207.7" y2="302.5" stroke="#a070b8" stroke-width="0.6"/>
<path d="M206.7,301.4 L208.6,298.1 L204.8,298.1 Z" fill="#6a1a8a"/>
<line x1="211.4" y1="291.7" x2="211.4" y2="294.7" stroke="#f0a070" stroke-width="0.6"/>
<line x1="210.4" y1="291.7" x2="212.4" y2="291.7" stroke="#f0a070" stroke-width="0.6"/>
<line x1="210.4" y1="294.7" x2="212.4" y2="294.7" stroke="#f0a070" stroke-width="0.6"/>
<circle cx="211.4" cy="293.2" r="1.65" fill="#e8742a"/>
<line x1="213.8" y1="296.3" x2="213.8" y2="299.3" stroke="#dedb70" stroke-width="0.6"/>
<line x1="212.8" y1="296.3" x2="214.8" y2="296.3" stroke="#dedb70" stroke-width="0.6"/>
<line x1="212.8" y1="299.3" x2="214.8" y2="299.3" stroke="#dedb70" stroke-width="0.6"/>
<rect x="212.2" y="296.2" width="3.1" height="3.1" fill="#d4cd2a"/>
<line x1="216.2" y1="298.3" x2="216.2" y2="301.3" stroke="#6aa86a" stroke-width="0.6"/>
<line x1="215.2" y1="298.3" x2="217.2" y2="298.3" stroke="#6aa86a" stroke-width="0.6"/>
<line x1="215.2" y1="301.3" x2="217.2" y2="301.3" stroke="#6aa86a" stroke-width="0.6"/>
<path d="M216.2,297.9 L218.1,301.2 L214.3,301.2 Z" fill="#2e8a2e"/>
<line x1="218.6" y1="295.7" x2="218.6" y2="298.7" stroke="#a070b8" stroke-width="0.6"/>
<line x1="217.6" y1="295.7" x2="219.6" y2="295.7" stroke="#a070b8" stroke-width="0.6"/>
<line x1="217.6" y1="298.7" x2="219.6" y2="298.7" stroke="#a070b8" stroke-width="0.6"/>
<path d="M218.6,299.1 L220.5,295.8 L216.7,295.8 Z" fill="#6a1a8a"/>
<line x1="223.3" y1="289.6" x2="223.3" y2="292.6" stroke="#f0a070" stroke-width="0.6"/>
<line x1="222.3" y1="289.6" x2="224.3" y2="289.6" stroke="#f0a070" stroke-width="0.6"/>
<line x1="222.3" y1="292.6" x2="224.3" y2="292.6" stroke="#f0a070" stroke-width="0.6"/>
<circle cx="223.3" cy="291.1" r="1.65" fill="#e8742a"/>
<line x1="225.7" y1="286.7" x2="225.7" y2="290.7" stroke="#dedb70" stroke-width="0.6"/>
<line x1="224.7" y1="286.7" x2="226.7" y2="286.7" stroke="#dedb70" stroke-width="0.6"/>
<line x1="224.7" y1="290.7" x2="226.7" y2="290.7" stroke="#dedb70" stroke-width="0.6"/>
<rect x="224.1" y="287.1" width="3.1" height="3.1" fill="#d4cd2a"/>
<line x1="228.1" y1="294.2" x2="228.1" y2="300.2" stroke="#6aa86a" stroke-width="0.6"/>
<line x1="227.1" y1="294.2" x2="229.1" y2="294.2" stroke="#6aa86a" stroke-width="0.6"/>
<line x1="227.1" y1="300.2" x2="229.1" y2="300.2" stroke="#6aa86a" stroke-width="0.6"/>
<path d="M228.1,295.3 L230.0,298.6 L226.2,298.6 Z" fill="#2e8a2e"/>
<line x1="230.5" y1="294.1" x2="230.5" y2="298.1" stroke="#a070b8" stroke-width="0.6"/>
<line x1="229.5" y1="294.1" x2="231.5" y2="294.1" stroke="#a070b8" stroke-width="0.6"/>
<line x1="229.5" y1="298.1" x2="231.5" y2="298.1" stroke="#a070b8" stroke-width="0.6"/>
<path d="M230.5,298.0 L232.4,294.7 L228.6,294.7 Z" fill="#6a1a8a"/>
<line x1="235.2" y1="286.6" x2="235.2" y2="289.6" stroke="#f0a070" stroke-width="0.6"/>
<line x1="234.2" y1="286.6" x2="236.2" y2="286.6" stroke="#f0a070" stroke-width="0.6"/>
<line x1="234.2" y1="289.6" x2="236.2" y2="289.6" stroke="#f0a070" stroke-width="0.6"/>
<circle cx="235.2" cy="288.1" r="1.65" fill="#e8742a"/>
<line x1="237.6" y1="283.6" x2="237.6" y2="286.6" stroke="#dedb70" stroke-width="0.6"/>
<line x1="236.6" y1="283.6" x2="238.6" y2="283.6" stroke="#dedb70" stroke-width="0.6"/>
<line x1="236.6" y1="286.6" x2="238.6" y2="286.6" stroke="#dedb70" stroke-width="0.6"/>
<rect x="236.0" y="283.6" width="3.1" height="3.1" fill="#d4cd2a"/>
<line x1="240.0" y1="286.4" x2="240.0" y2="300.4" stroke="#6aa86a" stroke-width="0.6"/>
<line x1="239.0" y1="286.4" x2="241.0" y2="286.4" stroke="#6aa86a" stroke-width="0.6"/>
<line x1="239.0" y1="300.4" x2="241.0" y2="300.4" stroke="#6aa86a" stroke-width="0.6"/>
<path d="M240.0,291.5 L241.9,294.8 L238.1,294.8 Z" fill="#2e8a2e"/>
<line x1="242.4" y1="285.1" x2="242.4" y2="305.1" stroke="#a070b8" stroke-width="0.6"/>
<line x1="241.4" y1="285.1" x2="243.4" y2="285.1" stroke="#a070b8" stroke-width="0.6"/>
<line x1="241.4" y1="305.1" x2="243.4" y2="305.1" stroke="#a070b8" stroke-width="0.6"/>
<path d="M242.4,297.0 L244.3,293.7 L240.5,293.7 Z" fill="#6a1a8a"/>
<text x="34.6" y="352.4" font-size="8.1" fill="#222">(ONC201; µmol/L) :</text>
<circle cx="112.1" cy="349.7" r="2.2" fill="#e8742a"/>
<text x="118.7" y="352.4" font-size="8.1" fill="#222">1.25</text>
<rect x="150.3" y="347.5" width="4.4" height="4.4" fill="#d4cd2a"/>
<text x="159.0" y="352.4" font-size="8.1" fill="#222">2.5</text>
<path d="M190,346.9 L192.7,351.9 L187.3,351.9 Z" fill="#2e8a2e"/>
<text x="196.8" y="352.4" font-size="8.1" fill="#222">5</text>
<path d="M218.8,352.4 L221.5,347.4 L216.1,347.4 Z" fill="#6a1a8a"/>
<text x="225.2" y="352.4" font-size="8.1" fill="#222">10</text>
<text x="298.6" y="199.3" font-size="11.8" font-weight="bold" fill="#000">E</text>
<text x="363.2" y="202.0" font-size="8" font-weight="bold" text-anchor="middle">SU-DIPG-VI</text>
<text x="415.0" y="202.0" font-size="8" font-weight="bold" text-anchor="middle">SU-DIPG-XIII</text>
<text x="466.8" y="202.0" font-size="8" font-weight="bold" text-anchor="middle">SU-DIPG-XVII</text>
<text x="319.8" y="210.4" font-size="7" fill="#333">Bliss:</text>
<text x="319.8" y="277.8" font-size="7" fill="#333">Bliss:</text>
<text x="363.2" y="210.4" font-size="7" text-anchor="middle" fill="#333">7.99 ± 1.32</text>
<text x="415.0" y="210.4" font-size="7" text-anchor="middle" fill="#333">12.30 ± 1.73</text>
<text x="466.8" y="210.4" font-size="7" text-anchor="middle" fill="#333">13.56 ± 1.62</text>
<text x="363.2" y="277.8" font-size="7" text-anchor="middle" fill="#333">13.17 ± 2.32</text>
<text x="415.0" y="277.8" font-size="7" text-anchor="middle" fill="#333">15.68 ± 2.54</text>
<text x="466.8" y="277.8" font-size="7" text-anchor="middle" fill="#333">14.65 ± 2.44</text>
<clipPath id="hc1"><rect x="338.0" y="211.9" width="49.4" height="57.0"/></clipPath>
<g clip-path="url(#hc1)"><rect x="338.0" y="211.9" width="49.4" height="57.0" fill="#fff"/>
<g filter="url(#hb)" class="hc1">
<rect x="333.1" y="207.2" fill="#fdeff0"/>
<rect x="338.0" y="207.2" fill="#fdeff0"/>
<rect x="342.9" y="207.2" fill="#fbcccd"/>
<rect x="347.9" y="207.2" fill="#f8a8aa"/>
<rect x="352.8" y="207.2" fill="#f69294"/>
<rect x="357.8" y="207.2" fill="#f69294"/>
<rect x="362.7" y="207.2" fill="#f8adae"/>
<rect x="367.6" y="207.2" fill="#fce2e2"/>
<rect x="372.6" y="207.2" fill="#cef4d4"/>
<rect x="377.5" y="207.2" fill="#85e392"/>
<rect x="382.5" y="207.2" fill="#61dc73"/>
<rect x="387.4" y="207.2" fill="#61dc73"/>
<rect x="333.1" y="211.9" fill="#fdeff0"/>
<rect x="338.0" y="211.9" fill="#fdeff0"/>
<rect x="342.9" y="211.9" fill="#fbcccd"/>
<rect x="347.9" y="211.9" fill="#f8a8aa"/>
<rect x="352.8" y="211.9" fill="#f69294"/>
<rect x="357.8" y="211.9" fill="#f69294"/>
<rect x="362.7" y="211.9" fill="#f8adae"/>
<rect x="367.6" y="211.9" fill="#fce2e2"/>
<rect x="372.6" y="211.9" fill="#cef4d4"/>
<rect x="377.5" y="211.9" fill="#85e392"/>
<rect x="382.5" y="211.9" fill="#61dc73"/>
<rect x="387.4" y="211.9" fill="#61dc73"/>
<rect x="333.1" y="216.7" fill="#fdeced"/>
<rect x="338.0" y="216.7" fill="#fdeced"/>
<rect x="342.9" y="216.7" fill="#fac0c1"/>
<rect x="347.9" y="216.7" fill="#f69294"/>
<rect x="352.8" y="216.7" fill="#f47678"/>
<rect x="357.8" y="216.7" fill="#f47679"/>
<rect x="362.7" y="216.7" fill="#f79799"/>
<rect x="367.6" y="216.7" fill="#fbd3d4"/>
<rect x="372.6" y="216.7" fill="#d1f4d6"/>
<rect x="377.5" y="216.7" fill="#83e391"/>
<rect x="382.5" y="216.7" fill="#5ddb6f"/>
<rect x="387.4" y="216.7" fill="#5ddb6f"/>
<rect x="333.1" y="221.4" fill="#fdebeb"/>
<rect x="338.0" y="221.4" fill="#fdebeb"/>
<rect x="342.9" y="221.4" fill="#f9babb"/>
<rect x="347.9" y="221.4" fill="#f5888a"/>
<rect x="352.8" y="221.4" fill="#f3686b"/>
<rect x="357.8" y="221.4" fill="#f3696b"/>
<rect x="362.7" y="221.4" fill="#f68c8e"/>
<rect x="367.6" y="221.4" fill="#facacb"/>
<rect x="372.6" y="221.4" fill="#daf6de"/>
<rect x="377.5" y="221.4" fill="#90e69c"/>
<rect x="382.5" y="221.4" fill="#6dde7d"/>
<rect x="387.4" y="221.4" fill="#6dde7d"/>
<rect x="333.1" y="226.2" fill="#fde9ea"/>
<rect x="338.0" y="226.2" fill="#fde9ea"/>
<rect x="342.9" y="226.2" fill="#f9b4b5"/>
<rect x="347.9" y="226.2" fill="#f57c7e"/>
<rect x="352.8" y="226.2" fill="#f2595c"/>
<rect x="357.8" y="226.2" fill="#f25a5d"/>
<rect x="362.7" y="226.2" fill="#f57f82"/>
<rect x="367.6" y="226.2" fill="#fabebf"/>
<rect x="372.6" y="226.2" fill="#e9faeb"/>
<rect x="377.5" y="226.2" fill="#a9ebb2"/>
<rect x="382.5" y="226.2" fill="#8be598"/>
<rect x="387.4" y="226.2" fill="#8be598"/>
<rect x="333.1" y="230.9" fill="#fde7e7"/>
<rect x="338.0" y="230.9" fill="#fde7e7"/>
<rect x="342.9" y="230.9" fill="#f8aaab"/>
<rect x="347.9" y="230.9" fill="#f36a6d"/>
<rect x="352.8" y="230.9" fill="#f04246"/>
<rect x="357.8" y="230.9" fill="#f04346"/>
<rect x="362.7" y="230.9" fill="#f36c6f"/>
<rect x="367.6" y="230.9" fill="#f8adaf"/>
<rect x="372.6" y="230.9" fill="#fcfefc"/>
<rect x="377.5" y="230.9" fill="#c6f2cc"/>
<rect x="382.5" y="230.9" fill="#aeedb7"/>
<rect x="387.4" y="230.9" fill="#aeedb7"/>
<rect x="333.1" y="235.7" fill="#fde4e5"/>
<rect x="338.0" y="235.7" fill="#fde4e5"/>
<rect x="342.9" y="235.7" fill="#f7a0a2"/>
<rect x="347.9" y="235.7" fill="#f25a5d"/>
<rect x="352.8" y="235.7" fill="#ef2d31"/>
<rect x="357.8" y="235.7" fill="#ef2d31"/>
<rect x="362.7" y="235.7" fill="#f25b5e"/>
<rect x="367.6" y="235.7" fill="#f79ea0"/>
<rect x="372.6" y="235.7" fill="#fde4e5"/>
<rect x="377.5" y="235.7" fill="#e2f8e5"/>
<rect x="382.5" y="235.7" fill="#cff4d4"/>
<rect x="387.4" y="235.7" fill="#cff4d4"/>
<rect x="333.1" y="240.4" fill="#fce3e3"/>
<rect x="338.0" y="240.4" fill="#fce3e3"/>
<rect x="342.9" y="240.4" fill="#f79b9d"/>
<rect x="347.9" y="240.4" fill="#f15255"/>
<rect x="352.8" y="240.4" fill="#ee2428"/>
<rect x="357.8" y="240.4" fill="#ee2327"/>
<rect x="362.7" y="240.4" fill="#f15154"/>
<rect x="367.6" y="240.4" fill="#f69495"/>
<rect x="372.6" y="240.4" fill="#fbd2d3"/>
<rect x="377.5" y="240.4" fill="#f7fdf8"/>
<rect x="382.5" y="240.4" fill="#e8faeb"/>
<rect x="387.4" y="240.4" fill="#e8faeb"/>
<rect x="333.1" y="245.2" fill="#fce2e2"/>
<rect x="338.0" y="245.2" fill="#fce2e2"/>
<rect x="342.9" y="245.2" fill="#f79b9d"/>
<rect x="347.9" y="245.2" fill="#f15356"/>
<rect x="352.8" y="245.2" fill="#ee262a"/>
<rect x="357.8" y="245.2" fill="#ee2528"/>
<rect x="362.7" y="245.2" fill="#f14f52"/>
<rect x="367.6" y="245.2" fill="#f68d8f"/>
<rect x="372.6" y="245.2" fill="#fac5c6"/>
<rect x="377.5" y="245.2" fill="#fdedee"/>
<rect x="382.5" y="245.2" fill="#fafefb"/>
<rect x="387.4" y="245.2" fill="#fafefb"/>
<rect x="333.1" y="249.9" fill="#fce2e3"/>
<rect x="338.0" y="249.9" fill="#fce2e3"/>
<rect x="342.9" y="249.9" fill="#f7a0a2"/>
<rect x="347.9" y="249.9" fill="#f26062"/>
<rect x="352.8" y="249.9" fill="#ef373a"/>
<rect x="357.8" y="249.9" fill="#ef3438"/>
<rect x="362.7" y="249.9" fill="#f2595b"/>
<rect x="367.6" y="249.9" fill="#f68e90"/>
<rect x="372.6" y="249.9" fill="#fabfc0"/>
<rect x="377.5" y="249.9" fill="#fce0e0"/>
<rect x="382.5" y="249.9" fill="#fef2f2"/>
<rect x="387.4" y="249.9" fill="#fef2f2"/>
<rect x="333.1" y="254.7" fill="#fde6e7"/>
<rect x="338.0" y="254.7" fill="#fde6e7"/>
<rect x="342.9" y="254.7" fill="#f8afb1"/>
<rect x="347.9" y="254.7" fill="#f47b7e"/>
<rect x="352.8" y="254.7" fill="#f25b5e"/>
<rect x="357.8" y="254.7" fill="#f2585b"/>
<rect x="362.7" y="254.7" fill="#f47476"/>
<rect x="367.6" y="254.7" fill="#f79ea0"/>
<rect x="372.6" y="254.7" fill="#fac4c5"/>
<rect x="377.5" y="254.7" fill="#fcdedf"/>
<rect x="382.5" y="254.7" fill="#fdeced"/>
<rect x="387.4" y="254.7" fill="#fdeced"/>
<rect x="333.1" y="259.4" fill="#fdf0f0"/>
<rect x="338.0" y="259.4" fill="#fdf0f0"/>
<rect x="342.9" y="259.4" fill="#fbd0d1"/>
<rect x="347.9" y="259.4" fill="#f9b3b4"/>
<rect x="352.8" y="259.4" fill="#f7a0a2"/>
<rect x="357.8" y="259.4" fill="#f79fa0"/>
<rect x="362.7" y="259.4" fill="#f8aeb0"/>
<rect x="367.6" y="259.4" fill="#fac6c7"/>
<rect x="372.6" y="259.4" fill="#fcdbdc"/>
<rect x="377.5" y="259.4" fill="#fde9ea"/>
<rect x="382.5" y="259.4" fill="#fdf1f1"/>
<rect x="387.4" y="259.4" fill="#fdf1f1"/>
<rect x="333.1" y="264.1" fill="#fef9f9"/>
<rect x="338.0" y="264.1" fill="#fef9f9"/>
<rect x="342.9" y="264.1" fill="#fdeeee"/>
<rect x="347.9" y="264.1" fill="#fce4e5"/>
<rect x="352.8" y="264.1" fill="#fcdedf"/>
<rect x="357.8" y="264.1" fill="#fcdede"/>
<rect x="362.7" y="264.1" fill="#fce3e4"/>
<rect x="367.6" y="264.1" fill="#fdebeb"/>
<rect x="372.6" y="264.1" fill="#fef2f2"/>
<rect x="377.5" y="264.1" fill="#fef6f6"/>
<rect x="382.5" y="264.1" fill="#fef8f8"/>
<rect x="387.4" y="264.1" fill="#fef8f8"/>
<rect x="333.1" y="268.9" fill="#fef9f9"/>
<rect x="338.0" y="268.9" fill="#fef9f9"/>
<rect x="342.9" y="268.9" fill="#fdeeee"/>
<rect x="347.9" y="268.9" fill="#fce4e5"/>
<rect x="352.8" y="268.9" fill="#fcdedf"/>
<rect x="357.8" y="268.9" fill="#fcdede"/>
<rect x="362.7" y="268.9" fill="#fce3e4"/>
<rect x="367.6" y="268.9" fill="#fdebeb"/>
<rect x="372.6" y="268.9" fill="#fef2f2"/>
<rect x="377.5" y="268.9" fill="#fef6f6"/>
<rect x="382.5" y="268.9" fill="#fef8f8"/>
<rect x="387.4" y="268.9" fill="#fef8f8"/>
</g>
<line x1="347.9" y1="211.9" x2="347.9" y2="268.9" stroke="#666" stroke-width="0.6" stroke-opacity="0.55"/>
<line x1="357.8" y1="211.9" x2="357.8" y2="268.9" stroke="#666" stroke-width="0.6" stroke-opacity="0.55"/>
<line x1="367.6" y1="211.9" x2="367.6" y2="268.9" stroke="#666" stroke-width="0.6" stroke-opacity="0.55"/>
<line x1="377.5" y1="211.9" x2="377.5" y2="268.9" stroke="#666" stroke-width="0.6" stroke-opacity="0.55"/>
<line x1="338.0" y1="226.2" x2="387.4" y2="226.2" stroke="#666" stroke-width="0.6" stroke-opacity="0.55"/>
<line x1="338.0" y1="240.4" x2="387.4" y2="240.4" stroke="#666" stroke-width="0.6" stroke-opacity="0.55"/>
<line x1="338.0" y1="254.7" x2="387.4" y2="254.7" stroke="#666" stroke-width="0.6" stroke-opacity="0.55"/>
</g>
<rect x="338.0" y="211.9" width="49.4" height="57.0" fill="none" stroke="#bdbdbd" stroke-width="0.8"/>
<line x1="338.0" y1="268.9" x2="338.0" y2="214.9" stroke="#111" stroke-width="1.1"/>
<line x1="338.0" y1="268.9" x2="384.4" y2="268.9" stroke="#111" stroke-width="1.1"/>
<path d="M335.8,215.9 L338.0,211.4 L340.2,215.9 Z" fill="#111"/>
<path d="M383.4,266.7 L387.9,268.9 L383.4,271.1 Z" fill="#111"/>
<clipPath id="hc2"><rect x="389.8" y="211.9" width="49.4" height="57.0"/></clipPath>
<g clip-path="url(#hc2)"><rect x="389.8" y="211.9" width="49.4" height="57.0" fill="#fff"/>
<g filter="url(#hb)" class="hc2">
<rect x="384.9" y="207.2" fill="#fcdfdf"/>
<rect x="389.8" y="207.2" fill="#fcdfdf"/>
<rect x="394.7" y="207.2" fill="#f9b6b8"/>
<rect x="399.7" y="207.2" fill="#f79ea0"/>
<rect x="404.6" y="207.2" fill="#f68e90"/>
<rect x="409.6" y="207.2" fill="#f58587"/>
<rect x="414.5" y="207.2" fill="#f58587"/>
<rect x="419.4" y="207.2" fill="#f68e90"/>
<rect x="424.4" y="207.2" fill="#f79ea0"/>
<rect x="429.3" y="207.2" fill="#f9b1b3"/>
<rect x="434.3" y="207.2" fill="#fac4c5"/>
<rect x="439.2" y="207.2" fill="#fac4c5"/>
<rect x="384.9" y="211.9" fill="#fcdfdf"/>
<rect x="389.8" y="211.9" fill="#fcdfdf"/>
<rect x="394.7" y="211.9" fill="#f9b6b8"/>
<rect x="399.7" y="211.9" fill="#f79ea0"/>
<rect x="404.6" y="211.9" fill="#f68e90"/>
<rect x="409.6" y="211.9" fill="#f58587"/>
<rect x="414.5" y="211.9" fill="#f58587"/>
<rect x="419.4" y="211.9" fill="#f68e90"/>
<rect x="424.4" y="211.9" fill="#f79ea0"/>
<rect x="429.3" y="211.9" fill="#f9b1b3"/>
<rect x="434.3" y="211.9" fill="#fac4c5"/>
<rect x="439.2" y="211.9" fill="#fac4c5"/>
<rect x="384.9" y="216.7" fill="#fcdddd"/>
<rect x="389.8" y="216.7" fill="#fcdddd"/>
<rect x="394.7" y="216.7" fill="#f8afb0"/>
<rect x="399.7" y="216.7" fill="#f69092"/>
<rect x="404.6" y="216.7" fill="#f47b7e"/>
<rect x="409.6" y="216.7" fill="#f36e71"/>
<rect x="414.5" y="216.7" fill="#f36e71"/>
<rect x="419.4" y="216.7" fill="#f47b7e"/>
<rect x="424.4" y="216.7" fill="#f69193"/>
<rect x="429.3" y="216.7" fill="#f8aaac"/>
<rect x="434.3" y="216.7" fill="#fac3c4"/>
<rect x="439.2" y="216.7" fill="#fac3c4"/>
<rect x="384.9" y="221.4" fill="#fcdede"/>
<rect x="389.8" y="221.4" fill="#fcdede"/>
<rect x="394.7" y="221.4" fill="#f8b0b1"/>
<rect x="399.7" y="221.4" fill="#f68f91"/>
<rect x="404.6" y="221.4" fill="#f47678"/>
<rect x="409.6" y="221.4" fill="#f36669"/>
<rect x="414.5" y="221.4" fill="#f36669"/>
<rect x="419.4" y="221.4" fill="#f47678"/>
<rect x="424.4" y="221.4" fill="#f68f91"/>
<rect x="429.3" y="221.4" fill="#f8adae"/>
<rect x="434.3" y="221.4" fill="#fbcbcc"/>
<rect x="439.2" y="221.4" fill="#fbcbcc"/>
<rect x="384.9" y="226.2" fill="#fce0e0"/>
<rect x="389.8" y="226.2" fill="#fce0e0"/>
<rect x="394.7" y="226.2" fill="#f9b2b3"/>
<rect x="399.7" y="226.2" fill="#f68e90"/>
<rect x="404.6" y="226.2" fill="#f47174"/>
<rect x="409.6" y="226.2" fill="#f25f62"/>
<rect x="414.5" y="226.2" fill="#f25f62"/>
<rect x="419.4" y="226.2" fill="#f47174"/>
<rect x="424.4" y="226.2" fill="#f68f91"/>
<rect x="429.3" y="226.2" fill="#f9b1b3"/>
<rect x="434.3" y="226.2" fill="#fbd5d6"/>
<rect x="439.2" y="226.2" fill="#fbd5d6"/>
<rect x="384.9" y="230.9" fill="#fce0e0"/>
<rect x="389.8" y="230.9" fill="#fce0e0"/>
<rect x="394.7" y="230.9" fill="#f9b0b2"/>
<rect x="399.7" y="230.9" fill="#f5888a"/>
<rect x="404.6" y="230.9" fill="#f3676a"/>
<rect x="409.6" y="230.9" fill="#f15255"/>
<rect x="414.5" y="230.9" fill="#f15255"/>
<rect x="419.4" y="230.9" fill="#f3676a"/>
<rect x="424.4" y="230.9" fill="#f6898b"/>
<rect x="429.3" y="230.9" fill="#f9b1b2"/>
<rect x="434.3" y="230.9" fill="#fcdddd"/>
<rect x="439.2" y="230.9" fill="#fcdddd"/>
<rect x="384.9" y="235.7" fill="#fcdfe0"/>
<rect x="389.8" y="235.7" fill="#fcdfe0"/>
<rect x="394.7" y="235.7" fill="#f8adaf"/>
<rect x="399.7" y="235.7" fill="#f58284"/>
<rect x="404.6" y="235.7" fill="#f25d60"/>
<rect x="409.6" y="235.7" fill="#f04649"/>
<rect x="414.5" y="235.7" fill="#f04649"/>
<rect x="419.4" y="235.7" fill="#f25d60"/>
<rect x="424.4" y="235.7" fill="#f58285"/>
<rect x="429.3" y="235.7" fill="#f8afb1"/>
<rect x="434.3" y="235.7" fill="#fce1e1"/>
<rect x="439.2" y="235.7" fill="#fce1e1"/>
<rect x="384.9" y="240.4" fill="#fcdfe0"/>
<rect x="389.8" y="240.4" fill="#fcdfe0"/>
<rect x="394.7" y="240.4" fill="#f8acae"/>
<rect x="399.7" y="240.4" fill="#f58083"/>
<rect x="404.6" y="240.4" fill="#f25b5e"/>
<rect x="409.6" y="240.4" fill="#f04346"/>
<rect x="414.5" y="240.4" fill="#f04346"/>
<rect x="419.4" y="240.4" fill="#f25b5e"/>
<rect x="424.4" y="240.4" fill="#f58183"/>
<rect x="429.3" y="240.4" fill="#f8afb1"/>
<rect x="434.3" y="240.4" fill="#fde4e5"/>
<rect x="439.2" y="240.4" fill="#fde4e5"/>
<rect x="384.9" y="245.2" fill="#fce0e0"/>
<rect x="389.8" y="245.2" fill="#fce0e0"/>
<rect x="394.7" y="245.2" fill="#f8afb1"/>
<rect x="399.7" y="245.2" fill="#f58688"/>
<rect x="404.6" y="245.2" fill="#f36366"/>
<rect x="409.6" y="245.2" fill="#f14d50"/>
<rect x="414.5" y="245.2" fill="#f14d50"/>
<rect x="419.4" y="245.2" fill="#f36366"/>
<rect x="424.4" y="245.2" fill="#f58789"/>
<rect x="429.3" y="245.2" fill="#f9b3b4"/>
<rect x="434.3" y="245.2" fill="#fde7e8"/>
<rect x="439.2" y="245.2" fill="#fde7e8"/>
<rect x="384.9" y="249.9" fill="#fce1e2"/>
<rect x="389.8" y="249.9" fill="#fce1e2"/>
<rect x="394.7" y="249.9" fill="#f9b6b7"/>
<rect x="399.7" y="249.9" fill="#f69294"/>
<rect x="404.6" y="249.9" fill="#f47476"/>
<rect x="409.6" y="249.9" fill="#f26163"/>
<rect x="414.5" y="249.9" fill="#f26163"/>
<rect x="419.4" y="249.9" fill="#f47476"/>
<rect x="424.4" y="249.9" fill="#f69294"/>
<rect x="429.3" y="249.9" fill="#f9b9bb"/>
<rect x="434.3" y="249.9" fill="#fde9e9"/>
<rect x="439.2" y="249.9" fill="#fde9e9"/>
<rect x="384.9" y="254.7" fill="#fce3e4"/>
<rect x="389.8" y="254.7" fill="#fce3e4"/>
<rect x="394.7" y="254.7" fill="#fabebf"/>
<rect x="399.7" y="254.7" fill="#f7a1a3"/>
<rect x="404.6" y="254.7" fill="#f68a8c"/>
<rect x="409.6" y="254.7" fill="#f47a7d"/>
<rect x="414.5" y="254.7" fill="#f47a7d"/>
<rect x="419.4" y="254.7" fill="#f68a8c"/>
<rect x="424.4" y="254.7" fill="#f7a2a3"/>
<rect x="429.3" y="254.7" fill="#fac1c2"/>
<rect x="434.3" y="254.7" fill="#fde8e9"/>
<rect x="439.2" y="254.7" fill="#fde8e9"/>
<rect x="384.9" y="259.4" fill="#fdeaea"/>
<rect x="389.8" y="259.4" fill="#fdeaea"/>
<rect x="394.7" y="259.4" fill="#fbd0d1"/>
<rect x="399.7" y="259.4" fill="#fabfc0"/>
<rect x="404.6" y="259.4" fill="#f9b1b2"/>
<rect x="409.6" y="259.4" fill="#f8a8a9"/>
<rect x="414.5" y="259.4" fill="#f8a8a9"/>
<rect x="419.4" y="259.4" fill="#f9b1b2"/>
<rect x="424.4" y="259.4" fill="#fabfc0"/>
<rect x="429.3" y="259.4" fill="#fbd2d3"/>
<rect x="434.3" y="259.4" fill="#fdeaeb"/>
<rect x="439.2" y="259.4" fill="#fdeaeb"/>
<rect x="384.9" y="264.1" fill="#fef4f4"/>
<rect x="389.8" y="264.1" fill="#fef4f4"/>
<rect x="394.7" y="264.1" fill="#fde8e8"/>
<rect x="399.7" y="264.1" fill="#fce1e1"/>
<rect x="404.6" y="264.1" fill="#fcdcdc"/>
<rect x="409.6" y="264.1" fill="#fcd8d9"/>
<rect x="414.5" y="264.1" fill="#fcd8d9"/>
<rect x="419.4" y="264.1" fill="#fcdcdc"/>
<rect x="424.4" y="264.1" fill="#fce1e1"/>
<rect x="429.3" y="264.1" fill="#fde8e9"/>
<rect x="434.3" y="264.1" fill="#fef2f2"/>
<rect x="439.2" y="264.1" fill="#fef2f2"/>
<rect x="384.9" y="268.9" fill="#fef4f4"/>
<rect x="389.8" y="268.9" fill="#fef4f4"/>
<rect x="394.7" y="268.9" fill="#fde8e8"/>
<rect x="399.7" y="268.9" fill="#fce1e1"/>
<rect x="404.6" y="268.9" fill="#fcdcdc"/>
<rect x="409.6" y="268.9" fill="#fcd8d9"/>
<rect x="414.5" y="268.9" fill="#fcd8d9"/>
<rect x="419.4" y="268.9" fill="#fcdcdc"/>
<rect x="424.4" y="268.9" fill="#fce1e1"/>
<rect x="429.3" y="268.9" fill="#fde8e9"/>
<rect x="434.3" y="268.9" fill="#fef2f2"/>
<rect x="439.2" y="268.9" fill="#fef2f2"/>
</g>
<line x1="399.7" y1="211.9" x2="399.7" y2="268.9" stroke="#666" stroke-width="0.6" stroke-opacity="0.55"/>
<line x1="409.6" y1="211.9" x2="409.6" y2="268.9" stroke="#666" stroke-width="0.6" stroke-opacity="0.55"/>
<line x1="419.4" y1="211.9" x2="419.4" y2="268.9" stroke="#666" stroke-width="0.6" stroke-opacity="0.55"/>
<line x1="429.3" y1="211.9" x2="429.3" y2="268.9" stroke="#666" stroke-width="0.6" stroke-opacity="0.55"/>
<line x1="389.8" y1="226.2" x2="439.2" y2="226.2" stroke="#666" stroke-width="0.6" stroke-opacity="0.55"/>
<line x1="389.8" y1="240.4" x2="439.2" y2="240.4" stroke="#666" stroke-width="0.6" stroke-opacity="0.55"/>
<line x1="389.8" y1="254.7" x2="439.2" y2="254.7" stroke="#666" stroke-width="0.6" stroke-opacity="0.55"/>
</g>
<rect x="389.8" y="211.9" width="49.4" height="57.0" fill="none" stroke="#bdbdbd" stroke-width="0.8"/>
<line x1="389.8" y1="268.9" x2="389.8" y2="214.9" stroke="#111" stroke-width="1.1"/>
<line x1="389.8" y1="268.9" x2="436.2" y2="268.9" stroke="#111" stroke-width="1.1"/>
<path d="M387.6,215.9 L389.8,211.4 L392.0,215.9 Z" fill="#111"/>
<path d="M435.2,266.7 L439.7,268.9 L435.2,271.1 Z" fill="#111"/>
<clipPath id="hc3"><rect x="441.6" y="211.9" width="49.4" height="57.0"/></clipPath>
<g clip-path="url(#hc3)"><rect x="441.6" y="211.9" width="49.4" height="57.0" fill="#fff"/>
<g filter="url(#hb)" class="hc3">
<rect x="436.7" y="207.2" fill="#fbd6d7"/>
<rect x="441.6" y="207.2" fill="#fbd6d7"/>
<rect x="446.5" y="207.2" fill="#f69597"/>
<rect x="451.5" y="207.2" fill="#f26164"/>
<rect x="456.4" y="207.2" fill="#f14b4e"/>
<rect x="461.4" y="207.2" fill="#f15457"/>
<rect x="466.3" y="207.2" fill="#f3676a"/>
<rect x="471.2" y="207.2" fill="#f47376"/>
<rect x="476.2" y="207.2" fill="#f47b7d"/>
<rect x="481.1" y="207.2" fill="#f58486"/>
<rect x="486.1" y="207.2" fill="#f69193"/>
<rect x="491.0" y="207.2" fill="#f69193"/>
<rect x="436.7" y="211.9" fill="#fbd6d7"/>
<rect x="441.6" y="211.9" fill="#fbd6d7"/>
<rect x="446.5" y="211.9" fill="#f69597"/>
<rect x="451.5" y="211.9" fill="#f26164"/>
<rect x="456.4" y="211.9" fill="#f14b4e"/>
<rect x="461.4" y="211.9" fill="#f15457"/>
<rect x="466.3" y="211.9" fill="#f3676a"/>
<rect x="471.2" y="211.9" fill="#f47376"/>
<rect x="476.2" y="211.9" fill="#f47b7d"/>
<rect x="481.1" y="211.9" fill="#f58486"/>
<rect x="486.1" y="211.9" fill="#f69193"/>
<rect x="491.0" y="211.9" fill="#f69193"/>
<rect x="436.7" y="216.7" fill="#fbd4d5"/>
<rect x="441.6" y="216.7" fill="#fbd4d5"/>
<rect x="446.5" y="216.7" fill="#f5888a"/>
<rect x="451.5" y="216.7" fill="#f1474a"/>
<rect x="456.4" y="216.7" fill="#ef2e32"/>
<rect x="461.4" y="216.7" fill="#f04043"/>
<rect x="466.3" y="216.7" fill="#f25f62"/>
<rect x="471.2" y="216.7" fill="#f47275"/>
<rect x="476.2" y="216.7" fill="#f57c7e"/>
<rect x="481.1" y="216.7" fill="#f58587"/>
<rect x="486.1" y="216.7" fill="#f69294"/>
<rect x="491.0" y="216.7" fill="#f69294"/>
<rect x="436.7" y="221.4" fill="#fbd6d6"/>
<rect x="441.6" y="221.4" fill="#fbd6d6"/>
<rect x="446.5" y="221.4" fill="#f58688"/>
<rect x="451.5" y="221.4" fill="#f03f42"/>
<rect x="456.4" y="221.4" fill="#ee272b"/>
<rect x="461.4" y="221.4" fill="#f04548"/>
<rect x="466.3" y="221.4" fill="#f47375"/>
<rect x="471.2" y="221.4" fill="#f68e90"/>
<rect x="476.2" y="221.4" fill="#f7999b"/>
<rect x="481.1" y="221.4" fill="#f7a0a2"/>
<rect x="486.1" y="221.4" fill="#f8a8aa"/>
<rect x="491.0" y="221.4" fill="#f8a8aa"/>
<rect x="436.7" y="226.2" fill="#fcd8d8"/>
<rect x="441.6" y="226.2" fill="#fcd8d8"/>
<rect x="446.5" y="226.2" fill="#f5888a"/>
<rect x="451.5" y="226.2" fill="#f03f43"/>
<rect x="456.4" y="226.2" fill="#ee2b2e"/>
<rect x="461.4" y="226.2" fill="#f15154"/>
<rect x="466.3" y="226.2" fill="#f68a8c"/>
<rect x="471.2" y="226.2" fill="#f8adae"/>
<rect x="476.2" y="226.2" fill="#f9b9ba"/>
<rect x="481.1" y="226.2" fill="#fabdbe"/>
<rect x="486.1" y="226.2" fill="#fac0c1"/>
<rect x="491.0" y="226.2" fill="#fac0c1"/>
<rect x="436.7" y="230.9" fill="#fcd9da"/>
<rect x="441.6" y="230.9" fill="#fcd9da"/>
<rect x="446.5" y="230.9" fill="#f68b8d"/>
<rect x="451.5" y="230.9" fill="#f04548"/>
<rect x="456.4" y="230.9" fill="#ef3337"/>
<rect x="461.4" y="230.9" fill="#f25d60"/>
<rect x="466.3" y="230.9" fill="#f7989a"/>
<rect x="471.2" y="230.9" fill="#fabdbe"/>
<rect x="476.2" y="230.9" fill="#facacb"/>
<rect x="481.1" y="230.9" fill="#fbcdce"/>
<rect x="486.1" y="230.9" fill="#fbcecf"/>
<rect x="491.0" y="230.9" fill="#fbcecf"/>
<rect x="436.7" y="235.7" fill="#fcdadb"/>
<rect x="441.6" y="235.7" fill="#fcdadb"/>
<rect x="446.5" y="235.7" fill="#f69193"/>
<rect x="451.5" y="235.7" fill="#f15154"/>
<rect x="456.4" y="235.7" fill="#f04346"/>
<rect x="461.4" y="235.7" fill="#f36a6d"/>
<rect x="466.3" y="235.7" fill="#f7a2a4"/>
<rect x="471.2" y="235.7" fill="#fac5c6"/>
<rect x="476.2" y="235.7" fill="#fbd2d2"/>
<rect x="481.1" y="235.7" fill="#fbd5d6"/>
<rect x="486.1" y="235.7" fill="#fbd5d6"/>
<rect x="491.0" y="235.7" fill="#fbd5d6"/>
<rect x="436.7" y="240.4" fill="#fcdbdc"/>
<rect x="441.6" y="240.4" fill="#fcdbdc"/>
<rect x="446.5" y="240.4" fill="#f7999a"/>
<rect x="451.5" y="240.4" fill="#f36366"/>
<rect x="456.4" y="240.4" fill="#f2595c"/>
<rect x="461.4" y="240.4" fill="#f57b7e"/>
<rect x="466.3" y="240.4" fill="#f8acad"/>
<rect x="471.2" y="240.4" fill="#fbcbcc"/>
<rect x="476.2" y="240.4" fill="#fcd8d9"/>
<rect x="481.1" y="240.4" fill="#fcdddd"/>
<rect x="486.1" y="240.4" fill="#fcdcdd"/>
<rect x="491.0" y="240.4" fill="#fcdcdd"/>
<rect x="436.7" y="245.2" fill="#fcdddd"/>
<rect x="441.6" y="245.2" fill="#fcdddd"/>
<rect x="446.5" y="245.2" fill="#f7a2a4"/>
<rect x="451.5" y="245.2" fill="#f47779"/>
<rect x="456.4" y="245.2" fill="#f47173"/>
<rect x="461.4" y="245.2" fill="#f68e90"/>
<rect x="466.3" y="245.2" fill="#f9b6b7"/>
<rect x="471.2" y="245.2" fill="#fbd2d3"/>
<rect x="476.2" y="245.2" fill="#fce0e1"/>
<rect x="481.1" y="245.2" fill="#fde6e7"/>
<rect x="486.1" y="245.2" fill="#fde5e5"/>
<rect x="491.0" y="245.2" fill="#fde5e5"/>
<rect x="436.7" y="249.9" fill="#fcdfdf"/>
<rect x="441.6" y="249.9" fill="#fcdfdf"/>
<rect x="446.5" y="249.9" fill="#f8adae"/>
<rect x="451.5" y="249.9" fill="#f68c8e"/>
<rect x="456.4" y="249.9" fill="#f6888b"/>
<rect x="461.4" y="249.9" fill="#f7a0a2"/>
<rect x="466.3" y="249.9" fill="#fac0c1"/>
<rect x="471.2" y="249.9" fill="#fcd9d9"/>
<rect x="476.2" y="249.9" fill="#fde9e9"/>
<rect x="481.1" y="249.9" fill="#fdf1f1"/>
<rect x="486.1" y="249.9" fill="#fdefef"/>
<rect x="491.0" y="249.9" fill="#fdefef"/>
<rect x="436.7" y="254.7" fill="#fce1e1"/>
<rect x="441.6" y="254.7" fill="#fce1e1"/>
<rect x="446.5" y="254.7" fill="#f9b7b9"/>
<rect x="451.5" y="254.7" fill="#f79fa1"/>
<rect x="456.4" y="254.7" fill="#f79ea0"/>
<rect x="461.4" y="254.7" fill="#f9b0b2"/>
<rect x="466.3" y="254.7" fill="#fac9ca"/>
<rect x="471.2" y="254.7" fill="#fcdedf"/>
<rect x="476.2" y="254.7" fill="#fdefef"/>
<rect x="481.1" y="254.7" fill="#fefafa"/>
<rect x="486.1" y="254.7" fill="#fef7f7"/>
<rect x="491.0" y="254.7" fill="#fef7f7"/>
<rect x="436.7" y="259.4" fill="#fde8e8"/>
<rect x="441.6" y="259.4" fill="#fde8e8"/>
<rect x="446.5" y="259.4" fill="#fbcccd"/>
<rect x="451.5" y="259.4" fill="#fabfc0"/>
<rect x="456.4" y="259.4" fill="#fabfc0"/>
<rect x="461.4" y="259.4" fill="#fac9ca"/>
<rect x="466.3" y="259.4" fill="#fcd8d8"/>
<rect x="471.2" y="259.4" fill="#fde6e6"/>
<rect x="476.2" y="259.4" fill="#fef3f3"/>
<rect x="481.1" y="259.4" fill="#fefdfd"/>
<rect x="486.1" y="259.4" fill="#fefafa"/>
<rect x="491.0" y="259.4" fill="#fefafa"/>
<rect x="436.7" y="264.1" fill="#fef3f3"/>
<rect x="441.6" y="264.1" fill="#fef3f3"/>
<rect x="446.5" y="264.1" fill="#fde6e6"/>
<rect x="451.5" y="264.1" fill="#fce1e1"/>
<rect x="456.4" y="264.1" fill="#fce1e1"/>
<rect x="461.4" y="264.1" fill="#fde5e5"/>
<rect x="466.3" y="264.1" fill="#fdeaea"/>
<rect x="471.2" y="264.1" fill="#fdf0f0"/>
<rect x="476.2" y="264.1" fill="#fef6f6"/>
<rect x="481.1" y="264.1" fill="#fefafa"/>
<rect x="486.1" y="264.1" fill="#fef9f9"/>
<rect x="491.0" y="264.1" fill="#fef9f9"/>
<rect x="436.7" y="268.9" fill="#fef3f3"/>
<rect x="441.6" y="268.9" fill="#fef3f3"/>
<rect x="446.5" y="268.9" fill="#fde6e6"/>
<rect x="451.5" y="268.9" fill="#fce1e1"/>
<rect x="456.4" y="268.9" fill="#fce1e1"/>
<rect x="461.4" y="268.9" fill="#fde5e5"/>
<rect x="466.3" y="268.9" fill="#fdeaea"/>
<rect x="471.2" y="268.9" fill="#fdf0f0"/>
<rect x="476.2" y="268.9" fill="#fef6f6"/>
<rect x="481.1" y="268.9" fill="#fefafa"/>
<rect x="486.1" y="268.9" fill="#fef9f9"/>
<rect x="491.0" y="268.9" fill="#fef9f9"/>
</g>
<line x1="451.5" y1="211.9" x2="451.5" y2="268.9" stroke="#666" stroke-width="0.6" stroke-opacity="0.55"/>
<line x1="461.4" y1="211.9" x2="461.4" y2="268.9" stroke="#666" stroke-width="0.6" stroke-opacity="0.55"/>
<line x1="471.2" y1="211.9" x2="471.2" y2="268.9" stroke="#666" stroke-width="0.6" stroke-opacity="0.55"/>
<line x1="481.1" y1="211.9" x2="481.1" y2="268.9" stroke="#666" stroke-width="0.6" stroke-opacity="0.55"/>
<line x1="441.6" y1="226.2" x2="491.0" y2="226.2" stroke="#666" stroke-width="0.6" stroke-opacity="0.55"/>
<line x1="441.6" y1="240.4" x2="491.0" y2="240.4" stroke="#666" stroke-width="0.6" stroke-opacity="0.55"/>
<line x1="441.6" y1="254.7" x2="491.0" y2="254.7" stroke="#666" stroke-width="0.6" stroke-opacity="0.55"/>
</g>
<rect x="441.6" y="211.9" width="49.4" height="57.0" fill="none" stroke="#bdbdbd" stroke-width="0.8"/>
<line x1="441.6" y1="268.9" x2="441.6" y2="214.9" stroke="#111" stroke-width="1.1"/>
<line x1="441.6" y1="268.9" x2="488.0" y2="268.9" stroke="#111" stroke-width="1.1"/>
<path d="M439.4,215.9 L441.6,211.4 L443.8,215.9 Z" fill="#111"/>
<path d="M487.0,266.7 L491.5,268.9 L487.0,271.1 Z" fill="#111"/>
<clipPath id="hc4"><rect x="338.0" y="279.3" width="49.4" height="57.2"/></clipPath>
<g clip-path="url(#hc4)"><rect x="338.0" y="279.3" width="49.4" height="57.2" fill="#fff"/>
<g filter="url(#hb)" class="hc4">
<rect x="333.1" y="274.5" fill="#fde9ea"/>
<rect x="338.0" y="274.5" fill="#fde9ea"/>
<rect x="342.9" y="274.5" fill="#fac2c3"/>
<rect x="347.9" y="274.5" fill="#f79ea0"/>
<rect x="352.8" y="274.5" fill="#f68a8c"/>
<rect x="357.8" y="274.5" fill="#f58385"/>
<rect x="362.7" y="274.5" fill="#f58688"/>
<rect x="367.6" y="274.5" fill="#f68f91"/>
<rect x="372.6" y="274.5" fill="#f79b9d"/>
<rect x="377.5" y="274.5" fill="#f8aaac"/>
<rect x="382.5" y="274.5" fill="#fac6c7"/>
<rect x="387.4" y="274.5" fill="#fac6c7"/>
<rect x="333.1" y="279.3" fill="#fde9ea"/>
<rect x="338.0" y="279.3" fill="#fde9ea"/>
<rect x="342.9" y="279.3" fill="#fac2c3"/>
<rect x="347.9" y="279.3" fill="#f79ea0"/>
<rect x="352.8" y="279.3" fill="#f68a8c"/>
<rect x="357.8" y="279.3" fill="#f58385"/>
<rect x="362.7" y="279.3" fill="#f58688"/>
<rect x="367.6" y="279.3" fill="#f68f91"/>
<rect x="372.6" y="279.3" fill="#f79b9d"/>
<rect x="377.5" y="279.3" fill="#f8aaac"/>
<rect x="382.5" y="279.3" fill="#fac6c7"/>
<rect x="387.4" y="279.3" fill="#fac6c7"/>
<rect x="333.1" y="284.1" fill="#fce3e3"/>
<rect x="338.0" y="284.1" fill="#fce3e3"/>
<rect x="342.9" y="284.1" fill="#f9b5b7"/>
<rect x="347.9" y="284.1" fill="#f69092"/>
<rect x="352.8" y="284.1" fill="#f57b7e"/>
<rect x="357.8" y="284.1" fill="#f47477"/>
<rect x="362.7" y="284.1" fill="#f4797b"/>
<rect x="367.6" y="284.1" fill="#f58587"/>
<rect x="372.6" y="284.1" fill="#f69495"/>
<rect x="377.5" y="284.1" fill="#f8a7a8"/>
<rect x="382.5" y="284.1" fill="#fbcacb"/>
<rect x="387.4" y="284.1" fill="#fbcacb"/>
<rect x="333.1" y="288.8" fill="#fcd9d9"/>
<rect x="338.0" y="288.8" fill="#fcd9d9"/>
<rect x="342.9" y="288.8" fill="#f8a4a6"/>
<rect x="347.9" y="288.8" fill="#f58284"/>
<rect x="352.8" y="288.8" fill="#f47173"/>
<rect x="357.8" y="288.8" fill="#f36b6e"/>
<rect x="362.7" y="288.8" fill="#f47173"/>
<rect x="367.6" y="288.8" fill="#f57e80"/>
<rect x="372.6" y="288.8" fill="#f68f91"/>
<rect x="377.5" y="288.8" fill="#f8a5a6"/>
<rect x="382.5" y="288.8" fill="#fbcecf"/>
<rect x="387.4" y="288.8" fill="#fbcecf"/>
<rect x="333.1" y="293.6" fill="#fbcfd0"/>
<rect x="338.0" y="293.6" fill="#fbcfd0"/>
<rect x="342.9" y="293.6" fill="#f69597"/>
<rect x="347.9" y="293.6" fill="#f47578"/>
<rect x="352.8" y="293.6" fill="#f36769"/>
<rect x="357.8" y="293.6" fill="#f36366"/>
<rect x="362.7" y="293.6" fill="#f36a6d"/>
<rect x="367.6" y="293.6" fill="#f4787b"/>
<rect x="372.6" y="293.6" fill="#f68a8c"/>
<rect x="377.5" y="293.6" fill="#f7a3a4"/>
<rect x="382.5" y="293.6" fill="#fbd2d3"/>
<rect x="387.4" y="293.6" fill="#fbd2d3"/>
<rect x="333.1" y="298.4" fill="#fac9ca"/>
<rect x="338.0" y="298.4" fill="#fac9ca"/>
<rect x="342.9" y="298.4" fill="#f5888a"/>
<rect x="347.9" y="298.4" fill="#f3696b"/>
<rect x="352.8" y="298.4" fill="#f25c5e"/>
<rect x="357.8" y="298.4" fill="#f2595c"/>
<rect x="362.7" y="298.4" fill="#f26164"/>
<rect x="367.6" y="298.4" fill="#f47173"/>
<rect x="372.6" y="298.4" fill="#f58587"/>
<rect x="377.5" y="298.4" fill="#f79fa1"/>
<rect x="382.5" y="298.4" fill="#fbd4d4"/>
<rect x="387.4" y="298.4" fill="#fbd4d4"/>
<rect x="333.1" y="303.1" fill="#fac5c6"/>
<rect x="338.0" y="303.1" fill="#fac5c6"/>
<rect x="342.9" y="303.1" fill="#f57f81"/>
<rect x="347.9" y="303.1" fill="#f25e61"/>
<rect x="352.8" y="303.1" fill="#f15053"/>
<rect x="357.8" y="303.1" fill="#f14e51"/>
<rect x="362.7" y="303.1" fill="#f2575a"/>
<rect x="367.6" y="303.1" fill="#f3696c"/>
<rect x="372.6" y="303.1" fill="#f57f81"/>
<rect x="377.5" y="303.1" fill="#f79c9e"/>
<rect x="382.5" y="303.1" fill="#fbd3d4"/>
<rect x="387.4" y="303.1" fill="#fbd3d4"/>
<rect x="333.1" y="307.9" fill="#fac2c3"/>
<rect x="338.0" y="307.9" fill="#fac2c3"/>
<rect x="342.9" y="307.9" fill="#f4797c"/>
<rect x="347.9" y="307.9" fill="#f2575a"/>
<rect x="352.8" y="307.9" fill="#f1494c"/>
<rect x="357.8" y="307.9" fill="#f04649"/>
<rect x="362.7" y="307.9" fill="#f15053"/>
<rect x="367.6" y="307.9" fill="#f36366"/>
<rect x="372.6" y="307.9" fill="#f47b7d"/>
<rect x="377.5" y="307.9" fill="#f7999b"/>
<rect x="382.5" y="307.9" fill="#fbd1d2"/>
<rect x="387.4" y="307.9" fill="#fbd1d2"/>
<rect x="333.1" y="312.7" fill="#fac2c3"/>
<rect x="338.0" y="312.7" fill="#fac2c3"/>
<rect x="342.9" y="312.7" fill="#f4787b"/>
<rect x="347.9" y="312.7" fill="#f25659"/>
<rect x="352.8" y="312.7" fill="#f1474b"/>
<rect x="357.8" y="312.7" fill="#f04548"/>
<rect x="362.7" y="312.7" fill="#f14f52"/>
<rect x="367.6" y="312.7" fill="#f36265"/>
<rect x="372.6" y="312.7" fill="#f47a7c"/>
<rect x="377.5" y="312.7" fill="#f7989a"/>
<rect x="382.5" y="312.7" fill="#fbcfd0"/>
<rect x="387.4" y="312.7" fill="#fbcfd0"/>
<rect x="333.1" y="317.4" fill="#fac3c4"/>
<rect x="338.0" y="317.4" fill="#fac3c4"/>
<rect x="342.9" y="317.4" fill="#f57c7f"/>
<rect x="347.9" y="317.4" fill="#f25b5e"/>
<rect x="352.8" y="317.4" fill="#f14d51"/>
<rect x="357.8" y="317.4" fill="#f14b4e"/>
<rect x="362.7" y="317.4" fill="#f25457"/>
<rect x="367.6" y="317.4" fill="#f3676a"/>
<rect x="372.6" y="317.4" fill="#f57d80"/>
<rect x="377.5" y="317.4" fill="#f79a9b"/>
<rect x="382.5" y="317.4" fill="#fbcccd"/>
<rect x="387.4" y="317.4" fill="#fbcccd"/>
<rect x="333.1" y="322.2" fill="#fac6c7"/>
<rect x="338.0" y="322.2" fill="#fac6c7"/>
<rect x="342.9" y="322.2" fill="#f58486"/>
<rect x="347.9" y="322.2" fill="#f36669"/>
<rect x="352.8" y="322.2" fill="#f25a5d"/>
<rect x="357.8" y="322.2" fill="#f2585b"/>
<rect x="362.7" y="322.2" fill="#f26063"/>
<rect x="367.6" y="322.2" fill="#f47073"/>
<rect x="372.6" y="322.2" fill="#f58486"/>
<rect x="377.5" y="322.2" fill="#f79d9f"/>
<rect x="382.5" y="322.2" fill="#fac9ca"/>
<rect x="387.4" y="322.2" fill="#fac9ca"/>
<rect x="333.1" y="327.0" fill="#fbd4d4"/>
<rect x="338.0" y="327.0" fill="#fbd4d4"/>
<rect x="342.9" y="327.0" fill="#f7a2a4"/>
<rect x="347.9" y="327.0" fill="#f68d8f"/>
<rect x="352.8" y="327.0" fill="#f58587"/>
<rect x="357.8" y="327.0" fill="#f58486"/>
<rect x="362.7" y="327.0" fill="#f6898b"/>
<rect x="367.6" y="327.0" fill="#f69496"/>
<rect x="372.6" y="327.0" fill="#f7a2a3"/>
<rect x="377.5" y="327.0" fill="#f9b3b4"/>
<rect x="382.5" y="327.0" fill="#fbd1d1"/>
<rect x="387.4" y="327.0" fill="#fbd1d1"/>
<rect x="333.1" y="331.7" fill="#fde8e9"/>
<rect x="338.0" y="331.7" fill="#fde8e9"/>
<rect x="342.9" y="331.7" fill="#fbd0d1"/>
<rect x="347.9" y="331.7" fill="#fac6c7"/>
<rect x="352.8" y="331.7" fill="#fac3c4"/>
<rect x="357.8" y="331.7" fill="#fac2c3"/>
<rect x="362.7" y="331.7" fill="#fac4c5"/>
<rect x="367.6" y="331.7" fill="#fac9ca"/>
<rect x="372.6" y="331.7" fill="#fbcfd0"/>
<rect x="377.5" y="331.7" fill="#fbd6d7"/>
<rect x="382.5" y="331.7" fill="#fce4e4"/>
<rect x="387.4" y="331.7" fill="#fce4e4"/>
<rect x="333.1" y="336.5" fill="#fde8e9"/>
<rect x="338.0" y="336.5" fill="#fde8e9"/>
<rect x="342.9" y="336.5" fill="#fbd0d1"/>
<rect x="347.9" y="336.5" fill="#fac6c7"/>
<rect x="352.8" y="336.5" fill="#fac3c4"/>
<rect x="357.8" y="336.5" fill="#fac2c3"/>
<rect x="362.7" y="336.5" fill="#fac4c5"/>
<rect x="367.6" y="336.5" fill="#fac9ca"/>
<rect x="372.6" y="336.5" fill="#fbcfd0"/>
<rect x="377.5" y="336.5" fill="#fbd6d7"/>
<rect x="382.5" y="336.5" fill="#fce4e4"/>
<rect x="387.4" y="336.5" fill="#fce4e4"/>
</g>
<line x1="347.9" y1="279.3" x2="347.9" y2="336.5" stroke="#666" stroke-width="0.6" stroke-opacity="0.55"/>
<line x1="357.8" y1="279.3" x2="357.8" y2="336.5" stroke="#666" stroke-width="0.6" stroke-opacity="0.55"/>
<line x1="367.6" y1="279.3" x2="367.6" y2="336.5" stroke="#666" stroke-width="0.6" stroke-opacity="0.55"/>
<line x1="377.5" y1="279.3" x2="377.5" y2="336.5" stroke="#666" stroke-width="0.6" stroke-opacity="0.55"/>
<line x1="338.0" y1="293.6" x2="387.4" y2="293.6" stroke="#666" stroke-width="0.6" stroke-opacity="0.55"/>
<line x1="338.0" y1="307.9" x2="387.4" y2="307.9" stroke="#666" stroke-width="0.6" stroke-opacity="0.55"/>
<line x1="338.0" y1="322.2" x2="387.4" y2="322.2" stroke="#666" stroke-width="0.6" stroke-opacity="0.55"/>
</g>
<rect x="338.0" y="279.3" width="49.4" height="57.2" fill="none" stroke="#bdbdbd" stroke-width="0.8"/>
<line x1="338.0" y1="336.5" x2="338.0" y2="282.3" stroke="#111" stroke-width="1.1"/>
<line x1="338.0" y1="336.5" x2="384.4" y2="336.5" stroke="#111" stroke-width="1.1"/>
<path d="M335.8,283.3 L338.0,278.8 L340.2,283.3 Z" fill="#111"/>
<path d="M383.4,334.3 L387.9,336.5 L383.4,338.7 Z" fill="#111"/>
<clipPath id="hc5"><rect x="389.8" y="279.3" width="49.4" height="57.2"/></clipPath>
<g clip-path="url(#hc5)"><rect x="389.8" y="279.3" width="49.4" height="57.2" fill="#fff"/>
<g filter="url(#hb)" class="hc5">
<rect x="384.9" y="274.5" fill="#f9bcbd"/>
<rect x="389.8" y="274.5" fill="#f9bcbd"/>
<rect x="394.7" y="274.5" fill="#f47376"/>
<rect x="399.7" y="274.5" fill="#f15053"/>
<rect x="404.6" y="274.5" fill="#f1474a"/>
<rect x="409.6" y="274.5" fill="#f25457"/>
<rect x="414.5" y="274.5" fill="#f3686b"/>
<rect x="419.4" y="274.5" fill="#f47376"/>
<rect x="424.4" y="274.5" fill="#f4787b"/>
<rect x="429.3" y="274.5" fill="#f58184"/>
<rect x="434.3" y="274.5" fill="#f7a0a2"/>
<rect x="439.2" y="274.5" fill="#f7a0a2"/>
<rect x="384.9" y="279.3" fill="#f9bcbd"/>
<rect x="389.8" y="279.3" fill="#f9bcbd"/>
<rect x="394.7" y="279.3" fill="#f47376"/>
<rect x="399.7" y="279.3" fill="#f15053"/>
<rect x="404.6" y="279.3" fill="#f1474a"/>
<rect x="409.6" y="279.3" fill="#f25457"/>
<rect x="414.5" y="279.3" fill="#f3686b"/>
<rect x="419.4" y="279.3" fill="#f47376"/>
<rect x="424.4" y="279.3" fill="#f4787b"/>
<rect x="429.3" y="279.3" fill="#f58184"/>
<rect x="434.3" y="279.3" fill="#f7a0a2"/>
<rect x="439.2" y="279.3" fill="#f7a0a2"/>
<rect x="384.9" y="284.1" fill="#f9bbbc"/>
<rect x="389.8" y="284.1" fill="#f9bbbc"/>
<rect x="394.7" y="284.1" fill="#f46f72"/>
<rect x="399.7" y="284.1" fill="#f1474a"/>
<rect x="404.6" y="284.1" fill="#f03d40"/>
<rect x="409.6" y="284.1" fill="#f14b4e"/>
<rect x="414.5" y="284.1" fill="#f36164"/>
<rect x="419.4" y="284.1" fill="#f46f71"/>
<rect x="424.4" y="284.1" fill="#f47477"/>
<rect x="429.3" y="284.1" fill="#f58082"/>
<rect x="434.3" y="284.1" fill="#f8a5a7"/>
<rect x="439.2" y="284.1" fill="#f8a5a7"/>
<rect x="384.9" y="288.8" fill="#f9babc"/>
<rect x="389.8" y="288.8" fill="#f9babc"/>
<rect x="394.7" y="288.8" fill="#f36b6e"/>
<rect x="399.7" y="288.8" fill="#f03f43"/>
<rect x="404.6" y="288.8" fill="#ef3336"/>
<rect x="409.6" y="288.8" fill="#f04245"/>
<rect x="414.5" y="288.8" fill="#f25a5d"/>
<rect x="419.4" y="288.8" fill="#f3696b"/>
<rect x="424.4" y="288.8" fill="#f47072"/>
<rect x="429.3" y="288.8" fill="#f57e80"/>
<rect x="434.3" y="288.8" fill="#f8aaab"/>
<rect x="439.2" y="288.8" fill="#f8aaab"/>
<rect x="384.9" y="293.6" fill="#f9babb"/>
<rect x="389.8" y="293.6" fill="#f9babb"/>
<rect x="394.7" y="293.6" fill="#f3686b"/>
<rect x="399.7" y="293.6" fill="#ef383c"/>
<rect x="404.6" y="293.6" fill="#ee2a2d"/>
<rect x="409.6" y="293.6" fill="#ef393d"/>
<rect x="414.5" y="293.6" fill="#f15255"/>
<rect x="419.4" y="293.6" fill="#f36265"/>
<rect x="424.4" y="293.6" fill="#f36a6d"/>
<rect x="429.3" y="293.6" fill="#f47b7d"/>
<rect x="434.3" y="293.6" fill="#f8adae"/>
<rect x="439.2" y="293.6" fill="#f8adae"/>
<rect x="384.9" y="298.4" fill="#f9b9ba"/>
<rect x="389.8" y="298.4" fill="#f9b9ba"/>
<rect x="394.7" y="298.4" fill="#f36568"/>
<rect x="399.7" y="298.4" fill="#ef3337"/>
<rect x="404.6" y="298.4" fill="#ee2327"/>
<rect x="409.6" y="298.4" fill="#ef3235"/>
<rect x="414.5" y="298.4" fill="#f14b4e"/>
<rect x="419.4" y="298.4" fill="#f25b5e"/>
<rect x="424.4" y="298.4" fill="#f36568"/>
<rect x="429.3" y="298.4" fill="#f4787a"/>
<rect x="434.3" y="298.4" fill="#f8aeaf"/>
<rect x="439.2" y="298.4" fill="#f8aeaf"/>
<rect x="384.9" y="303.1" fill="#f9b9ba"/>
<rect x="389.8" y="303.1" fill="#f9b9ba"/>
<rect x="394.7" y="303.1" fill="#f36467"/>
<rect x="399.7" y="303.1" fill="#ef3034"/>
<rect x="404.6" y="303.1" fill="#ee2024"/>
<rect x="409.6" y="303.1" fill="#ef2d30"/>
<rect x="414.5" y="303.1" fill="#f04649"/>
<rect x="419.4" y="303.1" fill="#f25659"/>
<rect x="424.4" y="303.1" fill="#f26063"/>
<rect x="429.3" y="303.1" fill="#f47577"/>
<rect x="434.3" y="303.1" fill="#f8aeaf"/>
<rect x="439.2" y="303.1" fill="#f8aeaf"/>
<rect x="384.9" y="307.9" fill="#f9b9ba"/>
<rect x="389.8" y="307.9" fill="#f9b9ba"/>
<rect x="394.7" y="307.9" fill="#f36467"/>
<rect x="399.7" y="307.9" fill="#ef3034"/>
<rect x="404.6" y="307.9" fill="#ee2024"/>
<rect x="409.6" y="307.9" fill="#ee2b2f"/>
<rect x="414.5" y="307.9" fill="#f04346"/>
<rect x="419.4" y="307.9" fill="#f15356"/>
<rect x="424.4" y="307.9" fill="#f25d60"/>
<rect x="429.3" y="307.9" fill="#f47275"/>
<rect x="434.3" y="307.9" fill="#f8acae"/>
<rect x="439.2" y="307.9" fill="#f8acae"/>
<rect x="384.9" y="312.7" fill="#f9b9ba"/>
<rect x="389.8" y="312.7" fill="#f9b9ba"/>
<rect x="394.7" y="312.7" fill="#f36568"/>
<rect x="399.7" y="312.7" fill="#ef3337"/>
<rect x="404.6" y="312.7" fill="#ee2226"/>
<rect x="409.6" y="312.7" fill="#ef2d31"/>
<rect x="414.5" y="312.7" fill="#f04347"/>
<rect x="419.4" y="312.7" fill="#f15356"/>
<rect x="424.4" y="312.7" fill="#f25d60"/>
<rect x="429.3" y="312.7" fill="#f47274"/>
<rect x="434.3" y="312.7" fill="#f8aaab"/>
<rect x="439.2" y="312.7" fill="#f8aaab"/>
<rect x="384.9" y="317.4" fill="#f9babb"/>
<rect x="389.8" y="317.4" fill="#f9babb"/>
<rect x="394.7" y="317.4" fill="#f3686b"/>
<rect x="399.7" y="317.4" fill="#ef393d"/>
<rect x="404.6" y="317.4" fill="#ee292c"/>
<rect x="409.6" y="317.4" fill="#ef3337"/>
<rect x="414.5" y="317.4" fill="#f1474b"/>
<rect x="419.4" y="317.4" fill="#f25558"/>
<rect x="424.4" y="317.4" fill="#f25f62"/>
<rect x="429.3" y="317.4" fill="#f47275"/>
<rect x="434.3" y="317.4" fill="#f8a7a8"/>
<rect x="439.2" y="317.4" fill="#f8a7a8"/>
<rect x="384.9" y="322.2" fill="#f9babc"/>
<rect x="389.8" y="322.2" fill="#f9babc"/>
<rect x="394.7" y="322.2" fill="#f36c6f"/>
<rect x="399.7" y="322.2" fill="#f04144"/>
<rect x="404.6" y="322.2" fill="#ef3236"/>
<rect x="409.6" y="322.2" fill="#f03c3f"/>
<rect x="414.5" y="322.2" fill="#f14e51"/>
<rect x="419.4" y="322.2" fill="#f25a5d"/>
<rect x="424.4" y="322.2" fill="#f36366"/>
<rect x="429.3" y="322.2" fill="#f47477"/>
<rect x="434.3" y="322.2" fill="#f8a3a5"/>
<rect x="439.2" y="322.2" fill="#f8a3a5"/>
<rect x="384.9" y="327.0" fill="#fac7c8"/>
<rect x="389.8" y="327.0" fill="#fac7c8"/>
<rect x="394.7" y="327.0" fill="#f68a8c"/>
<rect x="399.7" y="327.0" fill="#f36b6e"/>
<rect x="404.6" y="327.0" fill="#f26164"/>
<rect x="409.6" y="327.0" fill="#f3686a"/>
<rect x="414.5" y="327.0" fill="#f47577"/>
<rect x="419.4" y="327.0" fill="#f57e80"/>
<rect x="424.4" y="327.0" fill="#f58386"/>
<rect x="429.3" y="327.0" fill="#f68f91"/>
<rect x="434.3" y="327.0" fill="#f9b0b2"/>
<rect x="439.2" y="327.0" fill="#f9b0b2"/>
<rect x="384.9" y="331.7" fill="#fce0e1"/>
<rect x="389.8" y="331.7" fill="#fce0e1"/>
<rect x="394.7" y="331.7" fill="#fabfc1"/>
<rect x="399.7" y="331.7" fill="#f9b0b1"/>
<rect x="404.6" y="331.7" fill="#f8abad"/>
<rect x="409.6" y="331.7" fill="#f8afb0"/>
<rect x="414.5" y="331.7" fill="#f9b5b7"/>
<rect x="419.4" y="331.7" fill="#f9b9bb"/>
<rect x="424.4" y="331.7" fill="#f9bcbd"/>
<rect x="429.3" y="331.7" fill="#fac1c2"/>
<rect x="434.3" y="331.7" fill="#fbd1d2"/>
<rect x="439.2" y="331.7" fill="#fbd1d2"/>
<rect x="384.9" y="336.5" fill="#fce0e1"/>
<rect x="389.8" y="336.5" fill="#fce0e1"/>
<rect x="394.7" y="336.5" fill="#fabfc1"/>
<rect x="399.7" y="336.5" fill="#f9b0b1"/>
<rect x="404.6" y="336.5" fill="#f8abad"/>
<rect x="409.6" y="336.5" fill="#f8afb0"/>
<rect x="414.5" y="336.5" fill="#f9b5b7"/>
<rect x="419.4" y="336.5" fill="#f9b9bb"/>
<rect x="424.4" y="336.5" fill="#f9bcbd"/>
<rect x="429.3" y="336.5" fill="#fac1c2"/>
<rect x="434.3" y="336.5" fill="#fbd1d2"/>
<rect x="439.2" y="336.5" fill="#fbd1d2"/>
</g>
<line x1="399.7" y1="279.3" x2="399.7" y2="336.5" stroke="#666" stroke-width="0.6" stroke-opacity="0.55"/>
<line x1="409.6" y1="279.3" x2="409.6" y2="336.5" stroke="#666" stroke-width="0.6" stroke-opacity="0.55"/>
<line x1="419.4" y1="279.3" x2="419.4" y2="336.5" stroke="#666" stroke-width="0.6" stroke-opacity="0.55"/>
<line x1="429.3" y1="279.3" x2="429.3" y2="336.5" stroke="#666" stroke-width="0.6" stroke-opacity="0.55"/>
<line x1="389.8" y1="293.6" x2="439.2" y2="293.6" stroke="#666" stroke-width="0.6" stroke-opacity="0.55"/>
<line x1="389.8" y1="307.9" x2="439.2" y2="307.9" stroke="#666" stroke-width="0.6" stroke-opacity="0.55"/>
<line x1="389.8" y1="322.2" x2="439.2" y2="322.2" stroke="#666" stroke-width="0.6" stroke-opacity="0.55"/>
</g>
<rect x="389.8" y="279.3" width="49.4" height="57.2" fill="none" stroke="#bdbdbd" stroke-width="0.8"/>
<line x1="389.8" y1="336.5" x2="389.8" y2="282.3" stroke="#111" stroke-width="1.1"/>
<line x1="389.8" y1="336.5" x2="436.2" y2="336.5" stroke="#111" stroke-width="1.1"/>
<path d="M387.6,283.3 L389.8,278.8 L392.0,283.3 Z" fill="#111"/>
<path d="M435.2,334.3 L439.7,336.5 L435.2,338.7 Z" fill="#111"/>
<clipPath id="hc6"><rect x="441.6" y="279.3" width="49.4" height="57.2"/></clipPath>
<g clip-path="url(#hc6)"><rect x="441.6" y="279.3" width="49.4" height="57.2" fill="#fff"/>
<g filter="url(#hb)" class="hc6">
<rect x="436.7" y="274.5" fill="#f9b7b9"/>
<rect x="441.6" y="274.5" fill="#f9b7b9"/>
<rect x="446.5" y="274.5" fill="#f36264"/>
<rect x="451.5" y="274.5" fill="#f04144"/>
<rect x="456.4" y="274.5" fill="#f04246"/>
<rect x="461.4" y="274.5" fill="#f15053"/>
<rect x="466.3" y="274.5" fill="#f25e60"/>
<rect x="471.2" y="274.5" fill="#f3676a"/>
<rect x="476.2" y="274.5" fill="#f46f72"/>
<rect x="481.1" y="274.5" fill="#f4787b"/>
<rect x="486.1" y="274.5" fill="#f58184"/>
<rect x="491.0" y="274.5" fill="#f58184"/>
<rect x="436.7" y="279.3" fill="#f9b7b9"/>
<rect x="441.6" y="279.3" fill="#f9b7b9"/>
<rect x="446.5" y="279.3" fill="#f36264"/>
<rect x="451.5" y="279.3" fill="#f04144"/>
<rect x="456.4" y="279.3" fill="#f04246"/>
<rect x="461.4" y="279.3" fill="#f15053"/>
<rect x="466.3" y="279.3" fill="#f25e60"/>
<rect x="471.2" y="279.3" fill="#f3676a"/>
<rect x="476.2" y="279.3" fill="#f46f72"/>
<rect x="481.1" y="279.3" fill="#f4787b"/>
<rect x="486.1" y="279.3" fill="#f58184"/>
<rect x="491.0" y="279.3" fill="#f58184"/>
<rect x="436.7" y="284.1" fill="#f9b3b5"/>
<rect x="441.6" y="284.1" fill="#f9b3b5"/>
<rect x="446.5" y="284.1" fill="#f25457"/>
<rect x="451.5" y="284.1" fill="#ef2f33"/>
<rect x="456.4" y="284.1" fill="#ef3236"/>
<rect x="461.4" y="284.1" fill="#f04447"/>
<rect x="466.3" y="284.1" fill="#f25558"/>
<rect x="471.2" y="284.1" fill="#f26063"/>
<rect x="476.2" y="284.1" fill="#f36a6d"/>
<rect x="481.1" y="284.1" fill="#f47679"/>
<rect x="486.1" y="284.1" fill="#f58284"/>
<rect x="491.0" y="284.1" fill="#f58284"/>
<rect x="436.7" y="288.8" fill="#f9b0b2"/>
<rect x="441.6" y="288.8" fill="#f9b0b2"/>
<rect x="446.5" y="288.8" fill="#f14b4e"/>
<rect x="451.5" y="288.8" fill="#ee2327"/>
<rect x="456.4" y="288.8" fill="#ee292d"/>
<rect x="461.4" y="288.8" fill="#f03f43"/>
<rect x="466.3" y="288.8" fill="#f25457"/>
<rect x="471.2" y="288.8" fill="#f36164"/>
<rect x="476.2" y="288.8" fill="#f36d6f"/>
<rect x="481.1" y="288.8" fill="#f57d7f"/>
<rect x="486.1" y="288.8" fill="#f68f91"/>
<rect x="491.0" y="288.8" fill="#f68f91"/>
<rect x="436.7" y="293.6" fill="#f8afb1"/>
<rect x="441.6" y="293.6" fill="#f8afb1"/>
<rect x="446.5" y="293.6" fill="#f1484b"/>
<rect x="451.5" y="293.6" fill="#ee2024"/>
<rect x="456.4" y="293.6" fill="#ee282c"/>
<rect x="461.4" y="293.6" fill="#f04347"/>
<rect x="466.3" y="293.6" fill="#f25b5e"/>
<rect x="471.2" y="293.6" fill="#f36a6c"/>
<rect x="476.2" y="293.6" fill="#f47679"/>
<rect x="481.1" y="293.6" fill="#f69092"/>
<rect x="486.1" y="293.6" fill="#f9b0b2"/>
<rect x="491.0" y="293.6" fill="#f9b0b2"/>
<rect x="436.7" y="298.4" fill="#f9b0b1"/>
<rect x="441.6" y="298.4" fill="#f9b0b1"/>
<rect x="446.5" y="298.4" fill="#f1494d"/>
<rect x="451.5" y="298.4" fill="#ee2327"/>
<rect x="456.4" y="298.4" fill="#ef2e32"/>
<rect x="461.4" y="298.4" fill="#f14c50"/>
<rect x="466.3" y="298.4" fill="#f36769"/>
<rect x="471.2" y="298.4" fill="#f47578"/>
<rect x="476.2" y="298.4" fill="#f58386"/>
<rect x="481.1" y="298.4" fill="#f8aaac"/>
<rect x="486.1" y="298.4" fill="#fce1e1"/>
<rect x="491.0" y="298.4" fill="#fce1e1"/>
<rect x="436.7" y="303.1" fill="#f9b2b3"/>
<rect x="441.6" y="303.1" fill="#f9b2b3"/>
<rect x="446.5" y="303.1" fill="#f14f52"/>
<rect x="451.5" y="303.1" fill="#ee2c30"/>
<rect x="456.4" y="303.1" fill="#ef393c"/>
<rect x="461.4" y="303.1" fill="#f2585b"/>
<rect x="466.3" y="303.1" fill="#f47275"/>
<rect x="471.2" y="303.1" fill="#f58083"/>
<rect x="476.2" y="303.1" fill="#f68e90"/>
<rect x="481.1" y="303.1" fill="#f9bbbc"/>
<rect x="486.1" y="303.1" fill="#fcfefc"/>
<rect x="491.0" y="303.1" fill="#fcfefc"/>
<rect x="436.7" y="307.9" fill="#f9b5b6"/>
<rect x="441.6" y="307.9" fill="#f9b5b6"/>
<rect x="446.5" y="307.9" fill="#f2585b"/>
<rect x="451.5" y="307.9" fill="#ef383c"/>
<rect x="456.4" y="307.9" fill="#f04649"/>
<rect x="461.4" y="307.9" fill="#f36366"/>
<rect x="466.3" y="307.9" fill="#f57c7e"/>
<rect x="471.2" y="307.9" fill="#f6898b"/>
<rect x="476.2" y="307.9" fill="#f69596"/>
<rect x="481.1" y="307.9" fill="#f9b7b8"/>
<rect x="486.1" y="307.9" fill="#fde7e7"/>
<rect x="491.0" y="307.9" fill="#fde7e7"/>
<rect x="436.7" y="312.7" fill="#f9b8ba"/>
<rect x="441.6" y="312.7" fill="#f9b8ba"/>
<rect x="446.5" y="312.7" fill="#f36366"/>
<rect x="451.5" y="312.7" fill="#f1474b"/>
<rect x="456.4" y="312.7" fill="#f15356"/>
<rect x="461.4" y="312.7" fill="#f36d70"/>
<rect x="466.3" y="312.7" fill="#f58385"/>
<rect x="471.2" y="312.7" fill="#f68f91"/>
<rect x="476.2" y="312.7" fill="#f7999a"/>
<rect x="481.1" y="312.7" fill="#f8adae"/>
<rect x="486.1" y="312.7" fill="#fac3c4"/>
<rect x="491.0" y="312.7" fill="#fac3c4"/>
<rect x="436.7" y="317.4" fill="#f9bcbd"/>
<rect x="441.6" y="317.4" fill="#f9bcbd"/>
<rect x="446.5" y="317.4" fill="#f46f72"/>
<rect x="451.5" y="317.4" fill="#f2575a"/>
<rect x="456.4" y="317.4" fill="#f36164"/>
<rect x="461.4" y="317.4" fill="#f47679"/>
<rect x="466.3" y="317.4" fill="#f6898b"/>
<rect x="471.2" y="317.4" fill="#f69496"/>
<rect x="476.2" y="317.4" fill="#f79fa1"/>
<rect x="481.1" y="317.4" fill="#f8acad"/>
<rect x="486.1" y="317.4" fill="#f9b3b5"/>
<rect x="491.0" y="317.4" fill="#f9b3b5"/>
<rect x="436.7" y="322.2" fill="#fac0c1"/>
<rect x="441.6" y="322.2" fill="#fac0c1"/>
<rect x="446.5" y="322.2" fill="#f47b7d"/>
<rect x="451.5" y="322.2" fill="#f36669"/>
<rect x="456.4" y="322.2" fill="#f36e71"/>
<rect x="461.4" y="322.2" fill="#f57e81"/>
<rect x="466.3" y="322.2" fill="#f68d8f"/>
<rect x="471.2" y="322.2" fill="#f7999b"/>
<rect x="476.2" y="322.2" fill="#f8a8a9"/>
<rect x="481.1" y="322.2" fill="#f9b5b7"/>
<rect x="486.1" y="322.2" fill="#f9b7b8"/>
<rect x="491.0" y="322.2" fill="#f9b7b8"/>
<rect x="436.7" y="327.0" fill="#fbcecf"/>
<rect x="441.6" y="327.0" fill="#fbcecf"/>
<rect x="446.5" y="327.0" fill="#f79b9d"/>
<rect x="451.5" y="327.0" fill="#f68d8f"/>
<rect x="456.4" y="327.0" fill="#f69294"/>
<rect x="461.4" y="327.0" fill="#f79b9d"/>
<rect x="466.3" y="327.0" fill="#f8a4a6"/>
<rect x="471.2" y="327.0" fill="#f8aeb0"/>
<rect x="476.2" y="327.0" fill="#f9bcbd"/>
<rect x="481.1" y="327.0" fill="#facacb"/>
<rect x="486.1" y="327.0" fill="#facacb"/>
<rect x="491.0" y="327.0" fill="#facacb"/>
<rect x="436.7" y="331.7" fill="#fce4e5"/>
<rect x="441.6" y="331.7" fill="#fce4e5"/>
<rect x="446.5" y="331.7" fill="#fbcbcb"/>
<rect x="451.5" y="331.7" fill="#fac4c5"/>
<rect x="456.4" y="331.7" fill="#fac6c7"/>
<rect x="461.4" y="331.7" fill="#fac9ca"/>
<rect x="466.3" y="331.7" fill="#fbcdce"/>
<rect x="471.2" y="331.7" fill="#fbd1d2"/>
<rect x="476.2" y="331.7" fill="#fcd9d9"/>
<rect x="481.1" y="331.7" fill="#fcdfe0"/>
<rect x="486.1" y="331.7" fill="#fcdfe0"/>
<rect x="491.0" y="331.7" fill="#fcdfe0"/>
<rect x="436.7" y="336.5" fill="#fce4e5"/>
<rect x="441.6" y="336.5" fill="#fce4e5"/>
<rect x="446.5" y="336.5" fill="#fbcbcb"/>
<rect x="451.5" y="336.5" fill="#fac4c5"/>
<rect x="456.4" y="336.5" fill="#fac6c7"/>
<rect x="461.4" y="336.5" fill="#fac9ca"/>
<rect x="466.3" y="336.5" fill="#fbcdce"/>
<rect x="471.2" y="336.5" fill="#fbd1d2"/>
<rect x="476.2" y="336.5" fill="#fcd9d9"/>
<rect x="481.1" y="336.5" fill="#fcdfe0"/>
<rect x="486.1" y="336.5" fill="#fcdfe0"/>
<rect x="491.0" y="336.5" fill="#fcdfe0"/>
</g>
<line x1="451.5" y1="279.3" x2="451.5" y2="336.5" stroke="#666" stroke-width="0.6" stroke-opacity="0.55"/>
<line x1="461.4" y1="279.3" x2="461.4" y2="336.5" stroke="#666" stroke-width="0.6" stroke-opacity="0.55"/>
<line x1="471.2" y1="279.3" x2="471.2" y2="336.5" stroke="#666" stroke-width="0.6" stroke-opacity="0.55"/>
<line x1="481.1" y1="279.3" x2="481.1" y2="336.5" stroke="#666" stroke-width="0.6" stroke-opacity="0.55"/>
<line x1="441.6" y1="293.6" x2="491.0" y2="293.6" stroke="#666" stroke-width="0.6" stroke-opacity="0.55"/>
<line x1="441.6" y1="307.9" x2="491.0" y2="307.9" stroke="#666" stroke-width="0.6" stroke-opacity="0.55"/>
<line x1="441.6" y1="322.2" x2="491.0" y2="322.2" stroke="#666" stroke-width="0.6" stroke-opacity="0.55"/>
</g>
<rect x="441.6" y="279.3" width="49.4" height="57.2" fill="none" stroke="#bdbdbd" stroke-width="0.8"/>
<line x1="441.6" y1="336.5" x2="441.6" y2="282.3" stroke="#111" stroke-width="1.1"/>
<line x1="441.6" y1="336.5" x2="488.0" y2="336.5" stroke="#111" stroke-width="1.1"/>
<path d="M439.4,283.3 L441.6,278.8 L443.8,283.3 Z" fill="#111"/>
<path d="M487.0,334.3 L491.5,336.5 L487.0,338.7 Z" fill="#111"/>
<rect x="494.6" y="213.8" width="3.8" height="55.0" fill="url(#cbg)" stroke="#bbb" stroke-width="0.3"/>
<line x1="498.4" y1="213.8" x2="499.9" y2="213.8" stroke="#444" stroke-width="0.4"/>
<text x="500.1" y="215.5" font-size="4.8" fill="#333" style="stroke-width:0.08px">20</text>
<line x1="498.4" y1="227.6" x2="499.9" y2="227.6" stroke="#444" stroke-width="0.4"/>
<text x="500.1" y="229.2" font-size="4.8" fill="#333" style="stroke-width:0.08px">10</text>
<line x1="498.4" y1="241.3" x2="499.9" y2="241.3" stroke="#444" stroke-width="0.4"/>
<text x="500.1" y="243.0" font-size="4.8" fill="#333" style="stroke-width:0.08px">0</text>
<line x1="498.4" y1="255.1" x2="499.9" y2="255.1" stroke="#444" stroke-width="0.4"/>
<text x="500.1" y="256.7" font-size="4.8" fill="#333" style="stroke-width:0.08px">-10</text>
<line x1="498.4" y1="268.8" x2="499.9" y2="268.8" stroke="#444" stroke-width="0.4"/>
<text x="500.1" y="270.5" font-size="4.8" fill="#333" style="stroke-width:0.08px">-20</text>
<text transform="translate(507.5,241.3) rotate(90)" font-size="4.32" text-anchor="middle" fill="#333" style="stroke-width:0.08px">δ-score</text>
<rect x="494.6" y="281.0" width="3.8" height="55.0" fill="url(#cbg)" stroke="#bbb" stroke-width="0.3"/>
<line x1="498.4" y1="281.0" x2="499.9" y2="281.0" stroke="#444" stroke-width="0.4"/>
<text x="500.1" y="282.7" font-size="4.8" fill="#333" style="stroke-width:0.08px">20</text>
<line x1="498.4" y1="294.8" x2="499.9" y2="294.8" stroke="#444" stroke-width="0.4"/>
<text x="500.1" y="296.4" font-size="4.8" fill="#333" style="stroke-width:0.08px">10</text>
<line x1="498.4" y1="308.5" x2="499.9" y2="308.5" stroke="#444" stroke-width="0.4"/>
<text x="500.1" y="310.2" font-size="4.8" fill="#333" style="stroke-width:0.08px">0</text>
<line x1="498.4" y1="322.2" x2="499.9" y2="322.2" stroke="#444" stroke-width="0.4"/>
<text x="500.1" y="323.9" font-size="4.8" fill="#333" style="stroke-width:0.08px">-10</text>
<line x1="498.4" y1="336.0" x2="499.9" y2="336.0" stroke="#444" stroke-width="0.4"/>
<text x="500.1" y="337.7" font-size="4.8" fill="#333" style="stroke-width:0.08px">-20</text>
<text transform="translate(507.5,308.5) rotate(90)" font-size="4.32" text-anchor="middle" fill="#333" style="stroke-width:0.08px">δ-score</text>
<text x="363.2" y="346.2" font-size="7.8" text-anchor="middle" fill="#222">(ONC201)</text>
<text x="415.0" y="346.2" font-size="7.8" text-anchor="middle" fill="#222">(ONC201)</text>
<text x="466.8" y="346.2" font-size="7.8" text-anchor="middle" fill="#222">(ONC201)</text>
<text transform="translate(322.1,239.0) rotate(-90)" font-size="8.1" font-weight="bold" text-anchor="middle" fill="#111">Normoxic</text>
<text transform="translate(320.4,308.4) rotate(-90)" font-size="8.1" font-weight="bold" text-anchor="middle" fill="#111">Low O<tspan font-size="5.5" dy="1.8">2</tspan></text>
<text transform="translate(334.2,242.0) rotate(-90)" font-size="7.9" text-anchor="middle" fill="#222">[paxalisib]</text>
<text transform="translate(334.2,306.1) rotate(-90)" font-size="7.9" text-anchor="middle" fill="#222">[paxalisib]</text>
<text x="-0.3" y="381.3" font-size="11.8" font-weight="bold" fill="#000">F</text>
<text x="47.1" y="382.4" font-size="8" font-weight="bold">HSJD-DIPG-007</text>
<text x="20.8" y="394.8" font-size="7.2" fill="#222">Parental</text>
<text x="53.5" y="394.8" font-size="7.2" fill="#222">NTC</text>
<text x="74.0" y="394.8" font-size="7.2" font-style="italic" fill="#222" textLength="29" lengthAdjust="spacingAndGlyphs">TP53-KD</text>
<text x="106.0" y="394.8" font-size="7.2" font-style="italic" fill="#222" textLength="28" lengthAdjust="spacingAndGlyphs">TP53-KO</text>
<text x="0.0" y="400.2" font-size="7.8" fill="#222">kDa</text>
<line x1="24.1" y1="404.2" x2="27.9" y2="404.2" stroke="#111" stroke-width="0.95"/>
<line x1="38.2" y1="404.2" x2="42.6" y2="404.2" stroke="#111" stroke-width="0.95"/>
<line x1="40.4" y1="402.0" x2="40.4" y2="406.4" stroke="#111" stroke-width="0.95"/>
<line x1="51.6" y1="404.2" x2="55.4" y2="404.2" stroke="#111" stroke-width="0.95"/>
<line x1="65.1" y1="404.2" x2="69.5" y2="404.2" stroke="#111" stroke-width="0.95"/>
<line x1="67.3" y1="402.0" x2="67.3" y2="406.4" stroke="#111" stroke-width="0.95"/>
<line x1="77.9" y1="404.2" x2="81.7" y2="404.2" stroke="#111" stroke-width="0.95"/>
<line x1="92.0" y1="404.2" x2="96.4" y2="404.2" stroke="#111" stroke-width="0.95"/>
<line x1="94.2" y1="402.0" x2="94.2" y2="406.4" stroke="#111" stroke-width="0.95"/>
<line x1="106.0" y1="404.2" x2="109.8" y2="404.2" stroke="#111" stroke-width="0.95"/>
<line x1="119.1" y1="404.2" x2="123.5" y2="404.2" stroke="#111" stroke-width="0.95"/>
<line x1="121.3" y1="402.0" x2="121.3" y2="406.4" stroke="#111" stroke-width="0.95"/>
<text x="129.6" y="406.9" font-size="7.9" fill="#222">ONC201</text>
<rect x="18.7" y="411.2" width="109.3" height="15.2" fill="#efefef" stroke="#555" stroke-width="1.15"/>
<rect x="18.7" y="428.8" width="109.3" height="14.7" fill="#efefef" stroke="#555" stroke-width="1.15"/>
<rect x="18.7" y="445.5" width="109.3" height="14.9" fill="#efefef" stroke="#555" stroke-width="1.15"/>
<rect x="18.7" y="462.4" width="109.3" height="14.9" fill="#efefef" stroke="#555" stroke-width="1.15"/>
<rect x="18.7" y="479.6" width="109.3" height="14.4" fill="#efefef" stroke="#555" stroke-width="1.15"/>
<rect x="18.7" y="496.8" width="109.3" height="14.0" fill="#efefef" stroke="#555" stroke-width="1.15"/>
<rect x="18.7" y="513.6" width="109.3" height="14.4" fill="#efefef" stroke="#555" stroke-width="1.15"/>
<rect x="18.7" y="531.4" width="109.3" height="14.4" fill="#efefef" stroke="#555" stroke-width="1.15"/>
<rect x="18.7" y="549.6" width="109.3" height="14.4" fill="#efefef" stroke="#555" stroke-width="1.15"/>
<rect x="21.6" y="417.9" width="12.4" height="2.8" rx="1.4" fill="#000" fill-opacity="0.95" filter="url(#bl)"/>
<rect x="34.9" y="417.9" width="12.4" height="2.8" rx="1.4" fill="#000" fill-opacity="0.85" filter="url(#bl)"/>
<rect x="48.2" y="417.9" width="12.4" height="2.8" rx="1.4" fill="#000" fill-opacity="0.95" filter="url(#bl)"/>
<rect x="61.5" y="417.9" width="12.4" height="2.8" rx="1.4" fill="#000" fill-opacity="0.75" filter="url(#bl)"/>
<rect x="74.8" y="417.9" width="12.4" height="2.8" rx="1.4" fill="#000" fill-opacity="1.00" filter="url(#bl)"/>
<rect x="88.1" y="417.9" width="12.4" height="2.8" rx="1.4" fill="#000" fill-opacity="0.80" filter="url(#bl)"/>
<rect x="101.4" y="417.9" width="12.4" height="2.8" rx="1.4" fill="#000" fill-opacity="0.95" filter="url(#bl)"/>
<rect x="114.4" y="417.9" width="12.4" height="2.8" rx="1.4" fill="#000" fill-opacity="0.90" filter="url(#bl)"/>
<rect x="21.3" y="434.5" width="13.0" height="5.4" rx="2.0" fill="#000" fill-opacity="1.00" filter="url(#bl)"/>
<rect x="34.6" y="436.2" width="13.0" height="2.0" rx="1.0" fill="#000" fill-opacity="0.10" filter="url(#bl)"/>
<rect x="47.9" y="435.5" width="13.0" height="3.4" rx="1.7" fill="#000" fill-opacity="0.95" filter="url(#bl)"/>
<rect x="61.2" y="436.2" width="13.0" height="2.0" rx="1.0" fill="#000" fill-opacity="0.03" filter="url(#bl)"/>
<rect x="74.5" y="435.2" width="13.0" height="4.0" rx="2.0" fill="#000" fill-opacity="1.00" filter="url(#bl)"/>
<rect x="87.8" y="436.1" width="13.0" height="2.2" rx="1.1" fill="#000" fill-opacity="0.75" filter="url(#bl)"/>
<rect x="101.1" y="435.0" width="13.0" height="4.4" rx="2.0" fill="#000" fill-opacity="1.00" filter="url(#bl)"/>
<rect x="114.1" y="436.2" width="13.0" height="2.0" rx="1.0" fill="#000" fill-opacity="0.10" filter="url(#bl)"/>
<rect x="75.8" y="433.1" width="10.4" height="1.5" rx="0.8" fill="#000" fill-opacity="0.55" filter="url(#bl)"/>
<rect x="102.4" y="433.1" width="10.4" height="1.5" rx="0.8" fill="#000" fill-opacity="0.60" filter="url(#bl)"/>
<rect x="21.1" y="450.5" width="13.4" height="1.6" rx="0.8" fill="#000" fill-opacity="0.45" filter="url(#bl)"/>
<rect x="21.1" y="453.8" width="13.4" height="2.8" rx="1.4" fill="#000" fill-opacity="0.95" filter="url(#bl)"/>
<rect x="34.4" y="450.2" width="13.4" height="1.6" rx="0.8" fill="#000" fill-opacity="0.45" filter="url(#bl)"/>
<rect x="34.4" y="453.5" width="13.4" height="2.8" rx="1.4" fill="#000" fill-opacity="0.95" filter="url(#bl)"/>
<rect x="47.7" y="450.0" width="13.4" height="1.6" rx="0.8" fill="#000" fill-opacity="0.45" filter="url(#bl)"/>
<rect x="47.7" y="453.2" width="13.4" height="2.8" rx="1.4" fill="#000" fill-opacity="0.95" filter="url(#bl)"/>
<rect x="61.0" y="449.8" width="13.4" height="1.6" rx="0.8" fill="#000" fill-opacity="0.45" filter="url(#bl)"/>
<rect x="61.0" y="452.9" width="13.4" height="2.8" rx="1.4" fill="#000" fill-opacity="0.95" filter="url(#bl)"/>
<rect x="74.3" y="449.5" width="13.4" height="1.6" rx="0.8" fill="#000" fill-opacity="0.45" filter="url(#bl)"/>
<rect x="74.3" y="452.6" width="13.4" height="2.8" rx="1.4" fill="#000" fill-opacity="0.95" filter="url(#bl)"/>
<rect x="87.6" y="449.2" width="13.4" height="1.6" rx="0.8" fill="#000" fill-opacity="0.45" filter="url(#bl)"/>
<rect x="87.6" y="452.3" width="13.4" height="2.8" rx="1.4" fill="#000" fill-opacity="0.95" filter="url(#bl)"/>
<rect x="100.9" y="449.0" width="13.4" height="1.6" rx="0.8" fill="#000" fill-opacity="0.45" filter="url(#bl)"/>
<rect x="100.9" y="452.0" width="13.4" height="2.8" rx="1.4" fill="#000" fill-opacity="0.95" filter="url(#bl)"/>
<rect x="113.9" y="448.8" width="13.4" height="1.6" rx="0.8" fill="#000" fill-opacity="0.45" filter="url(#bl)"/>
<rect x="113.9" y="451.7" width="13.4" height="2.8" rx="1.4" fill="#000" fill-opacity="0.95" filter="url(#bl)"/>
<rect x="21.3" y="469.3" width="13.0" height="2.2" rx="1.1" fill="#000" fill-opacity="0.80" filter="url(#bl)"/>
<rect x="34.6" y="469.4" width="13.0" height="2.0" rx="1.0" fill="#000" fill-opacity="0.35" filter="url(#bl)"/>
<rect x="47.9" y="468.9" width="13.0" height="3.0" rx="1.5" fill="#000" fill-opacity="0.95" filter="url(#bl)"/>
<rect x="61.2" y="469.1" width="13.0" height="2.6" rx="1.3" fill="#000" fill-opacity="0.80" filter="url(#bl)"/>
<rect x="74.5" y="468.9" width="13.0" height="3.0" rx="1.5" fill="#000" fill-opacity="1.00" filter="url(#bl)"/>
<rect x="87.8" y="468.8" width="13.0" height="3.2" rx="1.6" fill="#000" fill-opacity="1.00" filter="url(#bl)"/>
<rect x="101.1" y="468.7" width="13.0" height="3.4" rx="1.7" fill="#000" fill-opacity="1.00" filter="url(#bl)"/>
<rect x="114.1" y="468.3" width="13.0" height="4.2" rx="2.0" fill="#000" fill-opacity="1.00" filter="url(#bl)"/>
<rect x="21.3" y="485.7" width="13.0" height="2.6" rx="1.3" fill="#000" fill-opacity="1.00" filter="url(#bl)"/>
<rect x="34.6" y="485.3" width="13.0" height="3.4" rx="1.7" fill="#000" fill-opacity="1.00" filter="url(#bl)"/>
<rect x="47.9" y="486.0" width="13.0" height="2.0" rx="1.0" fill="#000" fill-opacity="0.30" filter="url(#bl)"/>
<rect x="61.2" y="485.6" width="13.0" height="2.8" rx="1.4" fill="#000" fill-opacity="0.85" filter="url(#bl)"/>
<rect x="74.5" y="485.7" width="13.0" height="2.6" rx="1.3" fill="#000" fill-opacity="0.80" filter="url(#bl)"/>
<rect x="87.8" y="485.7" width="13.0" height="2.6" rx="1.3" fill="#000" fill-opacity="0.80" filter="url(#bl)"/>
<rect x="101.1" y="485.6" width="13.0" height="2.8" rx="1.4" fill="#000" fill-opacity="0.90" filter="url(#bl)"/>
<rect x="114.1" y="485.5" width="13.0" height="3.0" rx="1.5" fill="#000" fill-opacity="0.95" filter="url(#bl)"/>
<rect x="21.0" y="500.9" width="13.6" height="6.6" rx="2.0" fill="#000" fill-opacity="1.00" filter="url(#bl)"/>
<rect x="34.3" y="500.9" width="13.6" height="6.6" rx="2.0" fill="#000" fill-opacity="1.00" filter="url(#bl)"/>
<rect x="47.6" y="500.9" width="13.6" height="6.6" rx="2.0" fill="#000" fill-opacity="1.00" filter="url(#bl)"/>
<rect x="60.9" y="500.9" width="13.6" height="6.6" rx="2.0" fill="#000" fill-opacity="1.00" filter="url(#bl)"/>
<rect x="74.2" y="500.9" width="13.6" height="6.6" rx="2.0" fill="#000" fill-opacity="1.00" filter="url(#bl)"/>
<rect x="87.5" y="500.9" width="13.6" height="6.6" rx="2.0" fill="#000" fill-opacity="1.00" filter="url(#bl)"/>
<rect x="100.8" y="500.9" width="13.6" height="6.6" rx="2.0" fill="#000" fill-opacity="1.00" filter="url(#bl)"/>
<rect x="113.8" y="500.9" width="13.6" height="6.6" rx="2.0" fill="#000" fill-opacity="1.00" filter="url(#bl)"/>
<rect x="21.0" y="518.4" width="13.6" height="4.0" rx="2.0" fill="#000" fill-opacity="1.00" filter="url(#bl)"/>
<rect x="34.3" y="518.4" width="13.6" height="4.0" rx="2.0" fill="#000" fill-opacity="1.00" filter="url(#bl)"/>
<rect x="47.6" y="518.4" width="13.6" height="4.0" rx="2.0" fill="#000" fill-opacity="0.95" filter="url(#bl)"/>
<rect x="60.9" y="518.4" width="13.6" height="4.0" rx="2.0" fill="#000" fill-opacity="0.95" filter="url(#bl)"/>
<rect x="74.2" y="518.4" width="13.6" height="4.0" rx="2.0" fill="#000" fill-opacity="0.95" filter="url(#bl)"/>
<rect x="87.5" y="518.4" width="13.6" height="4.0" rx="2.0" fill="#000" fill-opacity="0.90" filter="url(#bl)"/>
<rect x="100.8" y="518.4" width="13.6" height="4.0" rx="2.0" fill="#000" fill-opacity="0.95" filter="url(#bl)"/>
<rect x="113.8" y="518.4" width="13.6" height="4.0" rx="2.0" fill="#000" fill-opacity="0.95" filter="url(#bl)"/>
<rect x="21.3" y="536.9" width="13.0" height="2.2" rx="1.1" fill="#000" fill-opacity="1.00" filter="url(#bl)"/>
<rect x="34.6" y="536.5" width="13.0" height="3.0" rx="1.5" fill="#000" fill-opacity="1.00" filter="url(#bl)"/>
<rect x="47.9" y="537.3" width="13.0" height="1.4" rx="0.7" fill="#000" fill-opacity="0.25" filter="url(#bl)"/>
<rect x="61.2" y="537.2" width="13.0" height="1.6" rx="0.8" fill="#000" fill-opacity="0.40" filter="url(#bl)"/>
<rect x="74.5" y="536.9" width="13.0" height="2.2" rx="1.1" fill="#000" fill-opacity="0.90" filter="url(#bl)"/>
<rect x="87.8" y="536.8" width="13.0" height="2.4" rx="1.2" fill="#000" fill-opacity="0.90" filter="url(#bl)"/>
<rect x="101.1" y="537.0" width="13.0" height="2.0" rx="1.0" fill="#000" fill-opacity="0.85" filter="url(#bl)"/>
<rect x="114.1" y="536.8" width="13.0" height="2.4" rx="1.2" fill="#000" fill-opacity="0.95" filter="url(#bl)"/>
<rect x="21.0" y="555.6" width="13.6" height="3.6" rx="1.8" fill="#000" fill-opacity="1.00" filter="url(#bl)"/>
<rect x="34.3" y="555.6" width="13.6" height="3.6" rx="1.8" fill="#000" fill-opacity="1.00" filter="url(#bl)"/>
<rect x="47.6" y="555.6" width="13.6" height="3.6" rx="1.8" fill="#000" fill-opacity="1.00" filter="url(#bl)"/>
<rect x="60.9" y="555.6" width="13.6" height="3.6" rx="1.8" fill="#000" fill-opacity="1.00" filter="url(#bl)"/>
<rect x="74.2" y="555.6" width="13.6" height="3.6" rx="1.8" fill="#000" fill-opacity="1.00" filter="url(#bl)"/>
<rect x="87.5" y="555.6" width="13.6" height="3.6" rx="1.8" fill="#000" fill-opacity="1.00" filter="url(#bl)"/>
<rect x="100.8" y="555.6" width="13.6" height="3.6" rx="1.8" fill="#000" fill-opacity="1.00" filter="url(#bl)"/>
<rect x="113.8" y="555.6" width="13.6" height="3.6" rx="1.8" fill="#000" fill-opacity="1.00" filter="url(#bl)"/>
<text x="13.5" y="414.2" font-size="7.8" text-anchor="end">75</text>
<line x1="14.2" y1="411.5" x2="18.7" y2="411.5" stroke="#1a1a1a" stroke-width="0.9"/>
<text x="13.5" y="443.9" font-size="7.8" text-anchor="end">37</text>
<line x1="14.2" y1="441.2" x2="18.7" y2="441.2" stroke="#1a1a1a" stroke-width="0.9"/>
<text x="13.5" y="462.1" font-size="7.8" text-anchor="end">37</text>
<line x1="14.2" y1="459.4" x2="18.7" y2="459.4" stroke="#1a1a1a" stroke-width="0.9"/>
<text x="13.5" y="477.5" font-size="7.8" text-anchor="end">50</text>
<line x1="14.2" y1="474.8" x2="18.7" y2="474.8" stroke="#1a1a1a" stroke-width="0.9"/>
<text x="13.5" y="494.2" font-size="7.8" text-anchor="end">50</text>
<line x1="14.2" y1="491.5" x2="18.7" y2="491.5" stroke="#1a1a1a" stroke-width="0.9"/>
<text x="13.5" y="514.2" font-size="7.8" text-anchor="end">50</text>
<line x1="14.2" y1="511.5" x2="18.7" y2="511.5" stroke="#1a1a1a" stroke-width="0.9"/>
<text x="13.5" y="530.2" font-size="7.8" text-anchor="end">37</text>
<line x1="14.2" y1="527.5" x2="18.7" y2="527.5" stroke="#1a1a1a" stroke-width="0.9"/>
<text x="13.5" y="548.5" font-size="7.8" text-anchor="end">25</text>
<line x1="14.2" y1="545.8" x2="18.7" y2="545.8" stroke="#1a1a1a" stroke-width="0.9"/>
<text x="13.5" y="554.3" font-size="7.8" text-anchor="end">50</text>
<line x1="14.2" y1="551.6" x2="18.7" y2="551.6" stroke="#1a1a1a" stroke-width="0.9"/>
<text x="131.0" y="422.7" font-size="7.9" fill="#222">SDHA</text>
<text x="131.0" y="441.0" font-size="8.2" fill="#222"><tspan font-size="5.4" dy="-2.7">pT202/Y204</tspan><tspan dy="2.7">ERK1/2</tspan></text>
<text x="131.0" y="454.7" font-size="7.9" fill="#222">ERK1/2</text>
<text x="131.0" y="473.2" font-size="8.2"><tspan font-size="5.4" dy="-2.8">pT308</tspan><tspan dy="2.8">AKT</tspan></text>
<text x="131.0" y="489.8" font-size="8.2"><tspan font-size="5.4" dy="-2.8">pS473</tspan><tspan dy="2.8">AKT</tspan></text>
<text x="131.0" y="506.7" font-size="7.9" fill="#222">AKT</text>
<text x="131.0" y="523.7" font-size="7.9" fill="#222">ACTB</text>
<text x="131.0" y="541.3" font-size="7.9" fill="#222">NQO1</text>
<text x="131.0" y="559.9" font-size="7.9" fill="#222">ACTB</text>
<text x="192.2" y="380.4" font-size="11.8" font-weight="bold" fill="#000">G</text>
<text x="246.3" y="419.3" font-size="8" font-weight="bold" text-anchor="middle">HSJD-DIPG-007</text>
<text x="334.8" y="419.3" font-size="8" font-weight="bold" text-anchor="middle">NTC</text>
<text x="245.3" y="508.8" font-size="8" font-weight="bold" text-anchor="middle"><tspan font-style="italic">TP53</tspan>-KD</text>
<text x="329.4" y="508.8" font-size="8" font-weight="bold" text-anchor="middle"><tspan font-style="italic">TP53</tspan>-KO</text>
<line x1="215.1" y1="418.8" x2="215.1" y2="479.8" stroke="#222" stroke-width="1.3"/>
<line x1="215.1" y1="479.8" x2="275.6" y2="479.8" stroke="#222" stroke-width="1.3"/>
<line x1="213.1" y1="419.3" x2="215.1" y2="419.3" stroke="#222" stroke-width="0.9"/>
<text x="211.1" y="421.0" font-size="5.0" text-anchor="end" fill="#222" style="stroke-width:0.08px">4</text>
<line x1="213.1" y1="431.4" x2="215.1" y2="431.4" stroke="#222" stroke-width="0.9"/>
<text x="211.1" y="433.1" font-size="5.0" text-anchor="end" fill="#222" style="stroke-width:0.08px">2</text>
<line x1="213.1" y1="443.5" x2="215.1" y2="443.5" stroke="#222" stroke-width="0.9"/>
<text x="211.1" y="445.2" font-size="5.0" text-anchor="end" fill="#222" style="stroke-width:0.08px">1</text>
<line x1="213.1" y1="455.6" x2="215.1" y2="455.6" stroke="#222" stroke-width="0.9"/>
<text x="211.1" y="457.3" font-size="5.0" text-anchor="end" fill="#222" style="stroke-width:0.08px">0.5</text>
<line x1="213.1" y1="467.7" x2="215.1" y2="467.7" stroke="#222" stroke-width="0.9"/>
<text x="211.1" y="469.4" font-size="5.0" text-anchor="end" fill="#222" style="stroke-width:0.08px">0.25</text>
<line x1="213.1" y1="479.8" x2="215.1" y2="479.8" stroke="#222" stroke-width="0.9"/>
<text x="211.1" y="481.5" font-size="5.0" text-anchor="end" fill="#222" style="stroke-width:0.08px">0.125</text>
<line x1="215.1" y1="443.5" x2="275.6" y2="443.5" stroke="#333" stroke-width="0.9" stroke-dasharray="1.6,1.4"/>
<line x1="220.8" y1="479.8" x2="220.8" y2="481.8" stroke="#222" stroke-width="0.9"/>
<text x="220.8" y="487.3" font-size="5.0" text-anchor="middle" fill="#333" style="stroke-width:0.08px">0.25</text>
<line x1="232.9" y1="479.8" x2="232.9" y2="481.8" stroke="#222" stroke-width="0.9"/>
<text x="232.9" y="487.3" font-size="5.0" text-anchor="middle" fill="#333" style="stroke-width:0.08px">0.50</text>
<line x1="245.0" y1="479.8" x2="245.0" y2="481.8" stroke="#222" stroke-width="0.9"/>
<text x="245.0" y="487.3" font-size="5.0" text-anchor="middle" fill="#333" style="stroke-width:0.08px">1.00</text>
<line x1="257.1" y1="479.8" x2="257.1" y2="481.8" stroke="#222" stroke-width="0.9"/>
<text x="257.1" y="487.3" font-size="5.0" text-anchor="middle" fill="#333" style="stroke-width:0.08px">2.00</text>
<line x1="269.2" y1="479.8" x2="269.2" y2="481.8" stroke="#222" stroke-width="0.9"/>
<text x="269.2" y="487.3" font-size="5.0" text-anchor="middle" fill="#333" style="stroke-width:0.08px">4.00</text>
<text x="245.9" y="494.9" font-size="4.9" text-anchor="middle" fill="#333" style="stroke-width:0.08px">(Paxalisib; µmol/L)</text>
<text transform="translate(197.3,449.6) rotate(-90)" font-size="5.0" text-anchor="middle" fill="#333" style="stroke-width:0.08px">Combination index</text>
<line x1="217.2" y1="447.9" x2="217.2" y2="450.9" stroke="#f0a070" stroke-width="0.6"/>
<line x1="216.2" y1="447.9" x2="218.2" y2="447.9" stroke="#f0a070" stroke-width="0.6"/>
<line x1="216.2" y1="450.9" x2="218.2" y2="450.9" stroke="#f0a070" stroke-width="0.6"/>
<circle cx="217.2" cy="449.4" r="1.65" fill="#e8742a"/>
<line x1="219.6" y1="450.0" x2="219.6" y2="453.0" stroke="#dedb70" stroke-width="0.6"/>
<line x1="218.6" y1="450.0" x2="220.6" y2="450.0" stroke="#dedb70" stroke-width="0.6"/>
<line x1="218.6" y1="453.0" x2="220.6" y2="453.0" stroke="#dedb70" stroke-width="0.6"/>
<rect x="218.0" y="449.9" width="3.1" height="3.1" fill="#d4cd2a"/>
<line x1="222.0" y1="451.6" x2="222.0" y2="456.6" stroke="#6aa86a" stroke-width="0.6"/>
<line x1="221.0" y1="451.6" x2="223.0" y2="451.6" stroke="#6aa86a" stroke-width="0.6"/>
<line x1="221.0" y1="456.6" x2="223.0" y2="456.6" stroke="#6aa86a" stroke-width="0.6"/>
<path d="M222.0,452.2 L223.9,455.5 L220.1,455.5 Z" fill="#2e8a2e"/>
<line x1="224.4" y1="441.0" x2="224.4" y2="446.0" stroke="#a070b8" stroke-width="0.6"/>
<line x1="223.4" y1="441.0" x2="225.4" y2="441.0" stroke="#a070b8" stroke-width="0.6"/>
<line x1="223.4" y1="446.0" x2="225.4" y2="446.0" stroke="#a070b8" stroke-width="0.6"/>
<path d="M224.4,445.4 L226.3,442.1 L222.5,442.1 Z" fill="#6a1a8a"/>
<line x1="229.3" y1="445.9" x2="229.3" y2="448.9" stroke="#f0a070" stroke-width="0.6"/>
<line x1="228.3" y1="445.9" x2="230.3" y2="445.9" stroke="#f0a070" stroke-width="0.6"/>
<line x1="228.3" y1="448.9" x2="230.3" y2="448.9" stroke="#f0a070" stroke-width="0.6"/>
<circle cx="229.3" cy="447.4" r="1.65" fill="#e8742a"/>
<line x1="231.7" y1="450.2" x2="231.7" y2="453.2" stroke="#dedb70" stroke-width="0.6"/>
<line x1="230.7" y1="450.2" x2="232.7" y2="450.2" stroke="#dedb70" stroke-width="0.6"/>
<line x1="230.7" y1="453.2" x2="232.7" y2="453.2" stroke="#dedb70" stroke-width="0.6"/>
<rect x="230.1" y="450.2" width="3.1" height="3.1" fill="#d4cd2a"/>
<line x1="234.1" y1="452.0" x2="234.1" y2="456.0" stroke="#6aa86a" stroke-width="0.6"/>
<line x1="233.1" y1="452.0" x2="235.1" y2="452.0" stroke="#6aa86a" stroke-width="0.6"/>
<line x1="233.1" y1="456.0" x2="235.1" y2="456.0" stroke="#6aa86a" stroke-width="0.6"/>
<path d="M234.1,452.1 L236.0,455.4 L232.2,455.4 Z" fill="#2e8a2e"/>
<line x1="236.5" y1="442.4" x2="236.5" y2="445.4" stroke="#a070b8" stroke-width="0.6"/>
<line x1="235.5" y1="442.4" x2="237.5" y2="442.4" stroke="#a070b8" stroke-width="0.6"/>
<line x1="235.5" y1="445.4" x2="237.5" y2="445.4" stroke="#a070b8" stroke-width="0.6"/>
<path d="M236.5,445.8 L238.4,442.5 L234.6,442.5 Z" fill="#6a1a8a"/>
<line x1="241.4" y1="452.1" x2="241.4" y2="456.1" stroke="#f0a070" stroke-width="0.6"/>
<line x1="240.4" y1="452.1" x2="242.4" y2="452.1" stroke="#f0a070" stroke-width="0.6"/>
<line x1="240.4" y1="456.1" x2="242.4" y2="456.1" stroke="#f0a070" stroke-width="0.6"/>
<circle cx="241.4" cy="454.1" r="1.65" fill="#e8742a"/>
<line x1="243.8" y1="453.7" x2="243.8" y2="457.7" stroke="#dedb70" stroke-width="0.6"/>
<line x1="242.8" y1="453.7" x2="244.8" y2="453.7" stroke="#dedb70" stroke-width="0.6"/>
<line x1="242.8" y1="457.7" x2="244.8" y2="457.7" stroke="#dedb70" stroke-width="0.6"/>
<rect x="242.2" y="454.2" width="3.1" height="3.1" fill="#d4cd2a"/>
<line x1="246.2" y1="456.0" x2="246.2" y2="460.0" stroke="#6aa86a" stroke-width="0.6"/>
<line x1="245.2" y1="456.0" x2="247.2" y2="456.0" stroke="#6aa86a" stroke-width="0.6"/>
<line x1="245.2" y1="460.0" x2="247.2" y2="460.0" stroke="#6aa86a" stroke-width="0.6"/>
<path d="M246.2,456.1 L248.1,459.4 L244.3,459.4 Z" fill="#2e8a2e"/>
<line x1="248.6" y1="446.4" x2="248.6" y2="452.4" stroke="#a070b8" stroke-width="0.6"/>
<line x1="247.6" y1="446.4" x2="249.6" y2="446.4" stroke="#a070b8" stroke-width="0.6"/>
<line x1="247.6" y1="452.4" x2="249.6" y2="452.4" stroke="#a070b8" stroke-width="0.6"/>
<path d="M248.6,451.3 L250.5,448.0 L246.7,448.0 Z" fill="#6a1a8a"/>
<line x1="253.5" y1="443.8" x2="253.5" y2="446.8" stroke="#f0a070" stroke-width="0.6"/>
<line x1="252.5" y1="443.8" x2="254.5" y2="443.8" stroke="#f0a070" stroke-width="0.6"/>
<line x1="252.5" y1="446.8" x2="254.5" y2="446.8" stroke="#f0a070" stroke-width="0.6"/>
<circle cx="253.5" cy="445.3" r="1.65" fill="#e8742a"/>
<line x1="255.9" y1="447.4" x2="255.9" y2="451.4" stroke="#dedb70" stroke-width="0.6"/>
<line x1="254.9" y1="447.4" x2="256.9" y2="447.4" stroke="#dedb70" stroke-width="0.6"/>
<line x1="254.9" y1="451.4" x2="256.9" y2="451.4" stroke="#dedb70" stroke-width="0.6"/>
<rect x="254.3" y="447.9" width="3.1" height="3.1" fill="#d4cd2a"/>
<line x1="258.3" y1="449.3" x2="258.3" y2="452.3" stroke="#6aa86a" stroke-width="0.6"/>
<line x1="257.3" y1="449.3" x2="259.3" y2="449.3" stroke="#6aa86a" stroke-width="0.6"/>
<line x1="257.3" y1="452.3" x2="259.3" y2="452.3" stroke="#6aa86a" stroke-width="0.6"/>
<path d="M258.3,448.9 L260.2,452.2 L256.4,452.2 Z" fill="#2e8a2e"/>
<line x1="260.7" y1="442.8" x2="260.7" y2="447.8" stroke="#a070b8" stroke-width="0.6"/>
<line x1="259.7" y1="442.8" x2="261.7" y2="442.8" stroke="#a070b8" stroke-width="0.6"/>
<line x1="259.7" y1="447.8" x2="261.7" y2="447.8" stroke="#a070b8" stroke-width="0.6"/>
<path d="M260.7,447.2 L262.6,443.9 L258.8,443.9 Z" fill="#6a1a8a"/>
<line x1="265.6" y1="443.8" x2="265.6" y2="446.8" stroke="#f0a070" stroke-width="0.6"/>
<line x1="264.6" y1="443.8" x2="266.6" y2="443.8" stroke="#f0a070" stroke-width="0.6"/>
<line x1="264.6" y1="446.8" x2="266.6" y2="446.8" stroke="#f0a070" stroke-width="0.6"/>
<circle cx="265.6" cy="445.3" r="1.65" fill="#e8742a"/>
<line x1="268.0" y1="447.2" x2="268.0" y2="450.2" stroke="#dedb70" stroke-width="0.6"/>
<line x1="267.0" y1="447.2" x2="269.0" y2="447.2" stroke="#dedb70" stroke-width="0.6"/>
<line x1="267.0" y1="450.2" x2="269.0" y2="450.2" stroke="#dedb70" stroke-width="0.6"/>
<rect x="266.4" y="447.2" width="3.1" height="3.1" fill="#d4cd2a"/>
<line x1="270.4" y1="451.3" x2="270.4" y2="454.3" stroke="#6aa86a" stroke-width="0.6"/>
<line x1="269.4" y1="451.3" x2="271.4" y2="451.3" stroke="#6aa86a" stroke-width="0.6"/>
<line x1="269.4" y1="454.3" x2="271.4" y2="454.3" stroke="#6aa86a" stroke-width="0.6"/>
<path d="M270.4,450.9 L272.3,454.2 L268.5,454.2 Z" fill="#2e8a2e"/>
<line x1="272.8" y1="447.3" x2="272.8" y2="452.3" stroke="#a070b8" stroke-width="0.6"/>
<line x1="271.8" y1="447.3" x2="273.8" y2="447.3" stroke="#a070b8" stroke-width="0.6"/>
<line x1="271.8" y1="452.3" x2="273.8" y2="452.3" stroke="#a070b8" stroke-width="0.6"/>
<path d="M272.8,451.7 L274.7,448.4 L270.9,448.4 Z" fill="#6a1a8a"/>
<line x1="301.7" y1="418.8" x2="301.7" y2="479.8" stroke="#222" stroke-width="1.3"/>
<line x1="301.7" y1="479.8" x2="362.2" y2="479.8" stroke="#222" stroke-width="1.3"/>
<line x1="299.7" y1="419.3" x2="301.7" y2="419.3" stroke="#222" stroke-width="0.9"/>
<text x="297.7" y="421.0" font-size="5.0" text-anchor="end" fill="#222" style="stroke-width:0.08px">4</text>
<line x1="299.7" y1="431.4" x2="301.7" y2="431.4" stroke="#222" stroke-width="0.9"/>
<text x="297.7" y="433.1" font-size="5.0" text-anchor="end" fill="#222" style="stroke-width:0.08px">2</text>
<line x1="299.7" y1="443.5" x2="301.7" y2="443.5" stroke="#222" stroke-width="0.9"/>
<text x="297.7" y="445.2" font-size="5.0" text-anchor="end" fill="#222" style="stroke-width:0.08px">1</text>
<line x1="299.7" y1="455.6" x2="301.7" y2="455.6" stroke="#222" stroke-width="0.9"/>
<text x="297.7" y="457.3" font-size="5.0" text-anchor="end" fill="#222" style="stroke-width:0.08px">0.5</text>
<line x1="299.7" y1="467.7" x2="301.7" y2="467.7" stroke="#222" stroke-width="0.9"/>
<text x="297.7" y="469.4" font-size="5.0" text-anchor="end" fill="#222" style="stroke-width:0.08px">0.25</text>
<line x1="299.7" y1="479.8" x2="301.7" y2="479.8" stroke="#222" stroke-width="0.9"/>
<text x="297.7" y="481.5" font-size="5.0" text-anchor="end" fill="#222" style="stroke-width:0.08px">0.125</text>
<line x1="301.7" y1="443.5" x2="362.2" y2="443.5" stroke="#333" stroke-width="0.9" stroke-dasharray="1.6,1.4"/>
<line x1="307.4" y1="479.8" x2="307.4" y2="481.8" stroke="#222" stroke-width="0.9"/>
<text x="307.4" y="487.3" font-size="5.0" text-anchor="middle" fill="#333" style="stroke-width:0.08px">0.25</text>
<line x1="319.5" y1="479.8" x2="319.5" y2="481.8" stroke="#222" stroke-width="0.9"/>
<text x="319.5" y="487.3" font-size="5.0" text-anchor="middle" fill="#333" style="stroke-width:0.08px">0.50</text>
<line x1="331.6" y1="479.8" x2="331.6" y2="481.8" stroke="#222" stroke-width="0.9"/>
<text x="331.6" y="487.3" font-size="5.0" text-anchor="middle" fill="#333" style="stroke-width:0.08px">1.00</text>
<line x1="343.7" y1="479.8" x2="343.7" y2="481.8" stroke="#222" stroke-width="0.9"/>
<text x="343.7" y="487.3" font-size="5.0" text-anchor="middle" fill="#333" style="stroke-width:0.08px">2.00</text>
<line x1="355.8" y1="479.8" x2="355.8" y2="481.8" stroke="#222" stroke-width="0.9"/>
<text x="355.8" y="487.3" font-size="5.0" text-anchor="middle" fill="#333" style="stroke-width:0.08px">4.00</text>
<text x="332.5" y="494.9" font-size="4.9" text-anchor="middle" fill="#333" style="stroke-width:0.08px">(Paxalisib; µmol/L)</text>
<line x1="303.8" y1="443.2" x2="303.8" y2="448.2" stroke="#f0a070" stroke-width="0.6"/>
<line x1="302.8" y1="443.2" x2="304.8" y2="443.2" stroke="#f0a070" stroke-width="0.6"/>
<line x1="302.8" y1="448.2" x2="304.8" y2="448.2" stroke="#f0a070" stroke-width="0.6"/>
<circle cx="303.8" cy="445.7" r="1.65" fill="#e8742a"/>
<line x1="306.2" y1="447.9" x2="306.2" y2="450.9" stroke="#dedb70" stroke-width="0.6"/>
<line x1="305.2" y1="447.9" x2="307.2" y2="447.9" stroke="#dedb70" stroke-width="0.6"/>
<line x1="305.2" y1="450.9" x2="307.2" y2="450.9" stroke="#dedb70" stroke-width="0.6"/>
<rect x="304.6" y="447.9" width="3.1" height="3.1" fill="#d4cd2a"/>
<line x1="308.6" y1="450.0" x2="308.6" y2="453.0" stroke="#6aa86a" stroke-width="0.6"/>
<line x1="307.6" y1="450.0" x2="309.6" y2="450.0" stroke="#6aa86a" stroke-width="0.6"/>
<line x1="307.6" y1="453.0" x2="309.6" y2="453.0" stroke="#6aa86a" stroke-width="0.6"/>
<path d="M308.6,449.6 L310.5,452.9 L306.7,452.9 Z" fill="#2e8a2e"/>
<line x1="311.0" y1="442.5" x2="311.0" y2="444.5" stroke="#a070b8" stroke-width="0.6"/>
<line x1="310.0" y1="442.5" x2="312.0" y2="442.5" stroke="#a070b8" stroke-width="0.6"/>
<line x1="310.0" y1="444.5" x2="312.0" y2="444.5" stroke="#a070b8" stroke-width="0.6"/>
<path d="M311.0,445.4 L312.9,442.1 L309.1,442.1 Z" fill="#6a1a8a"/>
<line x1="315.9" y1="445.1" x2="315.9" y2="448.1" stroke="#f0a070" stroke-width="0.6"/>
<line x1="314.9" y1="445.1" x2="316.9" y2="445.1" stroke="#f0a070" stroke-width="0.6"/>
<line x1="314.9" y1="448.1" x2="316.9" y2="448.1" stroke="#f0a070" stroke-width="0.6"/>
<circle cx="315.9" cy="446.6" r="1.65" fill="#e8742a"/>
<line x1="318.3" y1="452.6" x2="318.3" y2="455.6" stroke="#dedb70" stroke-width="0.6"/>
<line x1="317.3" y1="452.6" x2="319.3" y2="452.6" stroke="#dedb70" stroke-width="0.6"/>
<line x1="317.3" y1="455.6" x2="319.3" y2="455.6" stroke="#dedb70" stroke-width="0.6"/>
<rect x="316.8" y="452.6" width="3.1" height="3.1" fill="#d4cd2a"/>
<line x1="320.7" y1="452.0" x2="320.7" y2="455.0" stroke="#6aa86a" stroke-width="0.6"/>
<line x1="319.7" y1="452.0" x2="321.7" y2="452.0" stroke="#6aa86a" stroke-width="0.6"/>
<line x1="319.7" y1="455.0" x2="321.7" y2="455.0" stroke="#6aa86a" stroke-width="0.6"/>
<path d="M320.7,451.6 L322.6,454.9 L318.8,454.9 Z" fill="#2e8a2e"/>
<line x1="323.1" y1="442.4" x2="323.1" y2="445.4" stroke="#a070b8" stroke-width="0.6"/>
<line x1="322.1" y1="442.4" x2="324.1" y2="442.4" stroke="#a070b8" stroke-width="0.6"/>
<line x1="322.1" y1="445.4" x2="324.1" y2="445.4" stroke="#a070b8" stroke-width="0.6"/>
<path d="M323.1,445.8 L325.0,442.5 L321.2,442.5 Z" fill="#6a1a8a"/>
<line x1="328.0" y1="440.9" x2="328.0" y2="446.9" stroke="#f0a070" stroke-width="0.6"/>
<line x1="327.0" y1="440.9" x2="329.0" y2="440.9" stroke="#f0a070" stroke-width="0.6"/>
<line x1="327.0" y1="446.9" x2="329.0" y2="446.9" stroke="#f0a070" stroke-width="0.6"/>
<circle cx="328.0" cy="443.9" r="1.65" fill="#e8742a"/>
<line x1="330.4" y1="450.6" x2="330.4" y2="453.6" stroke="#dedb70" stroke-width="0.6"/>
<line x1="329.4" y1="450.6" x2="331.4" y2="450.6" stroke="#dedb70" stroke-width="0.6"/>
<line x1="329.4" y1="453.6" x2="331.4" y2="453.6" stroke="#dedb70" stroke-width="0.6"/>
<rect x="328.8" y="450.5" width="3.1" height="3.1" fill="#d4cd2a"/>
<line x1="332.8" y1="452.6" x2="332.8" y2="455.6" stroke="#6aa86a" stroke-width="0.6"/>
<line x1="331.8" y1="452.6" x2="333.8" y2="452.6" stroke="#6aa86a" stroke-width="0.6"/>
<line x1="331.8" y1="455.6" x2="333.8" y2="455.6" stroke="#6aa86a" stroke-width="0.6"/>
<path d="M332.8,452.2 L334.7,455.5 L330.9,455.5 Z" fill="#2e8a2e"/>
<line x1="335.2" y1="443.7" x2="335.2" y2="447.7" stroke="#a070b8" stroke-width="0.6"/>
<line x1="334.2" y1="443.7" x2="336.2" y2="443.7" stroke="#a070b8" stroke-width="0.6"/>
<line x1="334.2" y1="447.7" x2="336.2" y2="447.7" stroke="#a070b8" stroke-width="0.6"/>
<path d="M335.2,447.6 L337.1,444.3 L333.3,444.3 Z" fill="#6a1a8a"/>
<line x1="340.1" y1="440.9" x2="340.1" y2="446.9" stroke="#f0a070" stroke-width="0.6"/>
<line x1="339.1" y1="440.9" x2="341.1" y2="440.9" stroke="#f0a070" stroke-width="0.6"/>
<line x1="339.1" y1="446.9" x2="341.1" y2="446.9" stroke="#f0a070" stroke-width="0.6"/>
<circle cx="340.1" cy="443.9" r="1.65" fill="#e8742a"/>
<line x1="342.5" y1="452.4" x2="342.5" y2="457.4" stroke="#dedb70" stroke-width="0.6"/>
<line x1="341.5" y1="452.4" x2="343.5" y2="452.4" stroke="#dedb70" stroke-width="0.6"/>
<line x1="341.5" y1="457.4" x2="343.5" y2="457.4" stroke="#dedb70" stroke-width="0.6"/>
<rect x="340.9" y="453.3" width="3.1" height="3.1" fill="#d4cd2a"/>
<line x1="344.9" y1="454.3" x2="344.9" y2="459.3" stroke="#6aa86a" stroke-width="0.6"/>
<line x1="343.9" y1="454.3" x2="345.9" y2="454.3" stroke="#6aa86a" stroke-width="0.6"/>
<line x1="343.9" y1="459.3" x2="345.9" y2="459.3" stroke="#6aa86a" stroke-width="0.6"/>
<path d="M344.9,454.9 L346.8,458.2 L343.0,458.2 Z" fill="#2e8a2e"/>
<line x1="347.3" y1="443.2" x2="347.3" y2="448.2" stroke="#a070b8" stroke-width="0.6"/>
<line x1="346.3" y1="443.2" x2="348.3" y2="443.2" stroke="#a070b8" stroke-width="0.6"/>
<line x1="346.3" y1="448.2" x2="348.3" y2="448.2" stroke="#a070b8" stroke-width="0.6"/>
<path d="M347.3,447.6 L349.2,444.3 L345.4,444.3 Z" fill="#6a1a8a"/>
<line x1="352.2" y1="444.5" x2="352.2" y2="447.5" stroke="#f0a070" stroke-width="0.6"/>
<line x1="351.2" y1="444.5" x2="353.2" y2="444.5" stroke="#f0a070" stroke-width="0.6"/>
<line x1="351.2" y1="447.5" x2="353.2" y2="447.5" stroke="#f0a070" stroke-width="0.6"/>
<circle cx="352.2" cy="446.0" r="1.65" fill="#e8742a"/>
<line x1="354.6" y1="454.2" x2="354.6" y2="458.2" stroke="#dedb70" stroke-width="0.6"/>
<line x1="353.6" y1="454.2" x2="355.6" y2="454.2" stroke="#dedb70" stroke-width="0.6"/>
<line x1="353.6" y1="458.2" x2="355.6" y2="458.2" stroke="#dedb70" stroke-width="0.6"/>
<rect x="353.0" y="454.7" width="3.1" height="3.1" fill="#d4cd2a"/>
<line x1="357.0" y1="452.9" x2="357.0" y2="456.9" stroke="#6aa86a" stroke-width="0.6"/>
<line x1="356.0" y1="452.9" x2="358.0" y2="452.9" stroke="#6aa86a" stroke-width="0.6"/>
<line x1="356.0" y1="456.9" x2="358.0" y2="456.9" stroke="#6aa86a" stroke-width="0.6"/>
<path d="M357.0,453.0 L358.9,456.3 L355.1,456.3 Z" fill="#2e8a2e"/>
<line x1="359.4" y1="443.8" x2="359.4" y2="448.8" stroke="#a070b8" stroke-width="0.6"/>
<line x1="358.4" y1="443.8" x2="360.4" y2="443.8" stroke="#a070b8" stroke-width="0.6"/>
<line x1="358.4" y1="448.8" x2="360.4" y2="448.8" stroke="#a070b8" stroke-width="0.6"/>
<path d="M359.4,448.2 L361.3,444.9 L357.5,444.9 Z" fill="#6a1a8a"/>
<line x1="215.1" y1="502.3" x2="215.1" y2="563.0" stroke="#222" stroke-width="1.3"/>
<line x1="215.1" y1="563.0" x2="275.6" y2="563.0" stroke="#222" stroke-width="1.3"/>
<line x1="213.1" y1="502.8" x2="215.1" y2="502.8" stroke="#222" stroke-width="0.9"/>
<text x="211.1" y="504.5" font-size="5.0" text-anchor="end" fill="#222" style="stroke-width:0.08px">4</text>
<line x1="213.1" y1="514.9" x2="215.1" y2="514.9" stroke="#222" stroke-width="0.9"/>
<text x="211.1" y="516.6" font-size="5.0" text-anchor="end" fill="#222" style="stroke-width:0.08px">2</text>
<line x1="213.1" y1="526.9" x2="215.1" y2="526.9" stroke="#222" stroke-width="0.9"/>
<text x="211.1" y="528.6" font-size="5.0" text-anchor="end" fill="#222" style="stroke-width:0.08px">1</text>
<line x1="213.1" y1="539.0" x2="215.1" y2="539.0" stroke="#222" stroke-width="0.9"/>
<text x="211.1" y="540.7" font-size="5.0" text-anchor="end" fill="#222" style="stroke-width:0.08px">0.5</text>
<line x1="213.1" y1="551.0" x2="215.1" y2="551.0" stroke="#222" stroke-width="0.9"/>
<text x="211.1" y="552.7" font-size="5.0" text-anchor="end" fill="#222" style="stroke-width:0.08px">0.25</text>
<line x1="213.1" y1="563.0" x2="215.1" y2="563.0" stroke="#222" stroke-width="0.9"/>
<text x="211.1" y="564.8" font-size="5.0" text-anchor="end" fill="#222" style="stroke-width:0.08px">0.125</text>
<line x1="215.1" y1="526.9" x2="275.6" y2="526.9" stroke="#333" stroke-width="0.9" stroke-dasharray="1.6,1.4"/>
<line x1="220.8" y1="563.0" x2="220.8" y2="565.0" stroke="#222" stroke-width="0.9"/>
<text x="220.8" y="570.6" font-size="5.0" text-anchor="middle" fill="#333" style="stroke-width:0.08px">0.25</text>
<line x1="232.9" y1="563.0" x2="232.9" y2="565.0" stroke="#222" stroke-width="0.9"/>
<text x="232.9" y="570.6" font-size="5.0" text-anchor="middle" fill="#333" style="stroke-width:0.08px">0.50</text>
<line x1="245.0" y1="563.0" x2="245.0" y2="565.0" stroke="#222" stroke-width="0.9"/>
<text x="245.0" y="570.6" font-size="5.0" text-anchor="middle" fill="#333" style="stroke-width:0.08px">1.00</text>
<line x1="257.1" y1="563.0" x2="257.1" y2="565.0" stroke="#222" stroke-width="0.9"/>
<text x="257.1" y="570.6" font-size="5.0" text-anchor="middle" fill="#333" style="stroke-width:0.08px">2.00</text>
<line x1="269.2" y1="563.0" x2="269.2" y2="565.0" stroke="#222" stroke-width="0.9"/>
<text x="269.2" y="570.6" font-size="5.0" text-anchor="middle" fill="#333" style="stroke-width:0.08px">4.00</text>
<text x="245.9" y="578.2" font-size="4.9" text-anchor="middle" fill="#333" style="stroke-width:0.08px">(Paxalisib; µmol/L)</text>
<text transform="translate(197.3,532.9) rotate(-90)" font-size="5.0" text-anchor="middle" fill="#333" style="stroke-width:0.08px">Combination index</text>
<line x1="217.2" y1="533.0" x2="217.2" y2="538.0" stroke="#f0a070" stroke-width="0.6"/>
<line x1="216.2" y1="533.0" x2="218.2" y2="533.0" stroke="#f0a070" stroke-width="0.6"/>
<line x1="216.2" y1="538.0" x2="218.2" y2="538.0" stroke="#f0a070" stroke-width="0.6"/>
<circle cx="217.2" cy="535.5" r="1.65" fill="#e8742a"/>
<line x1="219.6" y1="540.7" x2="219.6" y2="543.7" stroke="#dedb70" stroke-width="0.6"/>
<line x1="218.6" y1="540.7" x2="220.6" y2="540.7" stroke="#dedb70" stroke-width="0.6"/>
<line x1="218.6" y1="543.7" x2="220.6" y2="543.7" stroke="#dedb70" stroke-width="0.6"/>
<rect x="218.0" y="540.7" width="3.1" height="3.1" fill="#d4cd2a"/>
<line x1="222.0" y1="540.2" x2="222.0" y2="543.2" stroke="#6aa86a" stroke-width="0.6"/>
<line x1="221.0" y1="540.2" x2="223.0" y2="540.2" stroke="#6aa86a" stroke-width="0.6"/>
<line x1="221.0" y1="543.2" x2="223.0" y2="543.2" stroke="#6aa86a" stroke-width="0.6"/>
<path d="M222.0,539.8 L223.9,543.1 L220.1,543.1 Z" fill="#2e8a2e"/>
<line x1="224.4" y1="534.0" x2="224.4" y2="537.0" stroke="#a070b8" stroke-width="0.6"/>
<line x1="223.4" y1="534.0" x2="225.4" y2="534.0" stroke="#a070b8" stroke-width="0.6"/>
<line x1="223.4" y1="537.0" x2="225.4" y2="537.0" stroke="#a070b8" stroke-width="0.6"/>
<path d="M224.4,537.4 L226.3,534.1 L222.5,534.1 Z" fill="#6a1a8a"/>
<line x1="229.3" y1="529.8" x2="229.3" y2="534.8" stroke="#f0a070" stroke-width="0.6"/>
<line x1="228.3" y1="529.8" x2="230.3" y2="529.8" stroke="#f0a070" stroke-width="0.6"/>
<line x1="228.3" y1="534.8" x2="230.3" y2="534.8" stroke="#f0a070" stroke-width="0.6"/>
<circle cx="229.3" cy="532.3" r="1.65" fill="#e8742a"/>
<line x1="231.7" y1="536.6" x2="231.7" y2="539.6" stroke="#dedb70" stroke-width="0.6"/>
<line x1="230.7" y1="536.6" x2="232.7" y2="536.6" stroke="#dedb70" stroke-width="0.6"/>
<line x1="230.7" y1="539.6" x2="232.7" y2="539.6" stroke="#dedb70" stroke-width="0.6"/>
<rect x="230.1" y="536.6" width="3.1" height="3.1" fill="#d4cd2a"/>
<line x1="234.1" y1="537.6" x2="234.1" y2="540.6" stroke="#6aa86a" stroke-width="0.6"/>
<line x1="233.1" y1="537.6" x2="235.1" y2="537.6" stroke="#6aa86a" stroke-width="0.6"/>
<line x1="233.1" y1="540.6" x2="235.1" y2="540.6" stroke="#6aa86a" stroke-width="0.6"/>
<path d="M234.1,537.2 L236.0,540.5 L232.2,540.5 Z" fill="#2e8a2e"/>
<line x1="236.5" y1="532.3" x2="236.5" y2="535.3" stroke="#a070b8" stroke-width="0.6"/>
<line x1="235.5" y1="532.3" x2="237.5" y2="532.3" stroke="#a070b8" stroke-width="0.6"/>
<line x1="235.5" y1="535.3" x2="237.5" y2="535.3" stroke="#a070b8" stroke-width="0.6"/>
<path d="M236.5,535.7 L238.4,532.4 L234.6,532.4 Z" fill="#6a1a8a"/>
<line x1="241.4" y1="539.4" x2="241.4" y2="542.4" stroke="#f0a070" stroke-width="0.6"/>
<line x1="240.4" y1="539.4" x2="242.4" y2="539.4" stroke="#f0a070" stroke-width="0.6"/>
<line x1="240.4" y1="542.4" x2="242.4" y2="542.4" stroke="#f0a070" stroke-width="0.6"/>
<circle cx="241.4" cy="540.9" r="1.65" fill="#e8742a"/>
<line x1="243.8" y1="541.7" x2="243.8" y2="544.7" stroke="#dedb70" stroke-width="0.6"/>
<line x1="242.8" y1="541.7" x2="244.8" y2="541.7" stroke="#dedb70" stroke-width="0.6"/>
<line x1="242.8" y1="544.7" x2="244.8" y2="544.7" stroke="#dedb70" stroke-width="0.6"/>
<rect x="242.2" y="541.6" width="3.1" height="3.1" fill="#d4cd2a"/>
<line x1="246.2" y1="543.0" x2="246.2" y2="546.0" stroke="#6aa86a" stroke-width="0.6"/>
<line x1="245.2" y1="543.0" x2="247.2" y2="543.0" stroke="#6aa86a" stroke-width="0.6"/>
<line x1="245.2" y1="546.0" x2="247.2" y2="546.0" stroke="#6aa86a" stroke-width="0.6"/>
<path d="M246.2,542.6 L248.1,545.9 L244.3,545.9 Z" fill="#2e8a2e"/>
<line x1="248.6" y1="538.3" x2="248.6" y2="541.3" stroke="#a070b8" stroke-width="0.6"/>
<line x1="247.6" y1="538.3" x2="249.6" y2="538.3" stroke="#a070b8" stroke-width="0.6"/>
<line x1="247.6" y1="541.3" x2="249.6" y2="541.3" stroke="#a070b8" stroke-width="0.6"/>
<path d="M248.6,541.7 L250.5,538.4 L246.7,538.4 Z" fill="#6a1a8a"/>
<line x1="253.5" y1="526.8" x2="253.5" y2="529.8" stroke="#f0a070" stroke-width="0.6"/>
<line x1="252.5" y1="526.8" x2="254.5" y2="526.8" stroke="#f0a070" stroke-width="0.6"/>
<line x1="252.5" y1="529.8" x2="254.5" y2="529.8" stroke="#f0a070" stroke-width="0.6"/>
<circle cx="253.5" cy="528.3" r="1.65" fill="#e8742a"/>
<line x1="255.9" y1="529.1" x2="255.9" y2="532.1" stroke="#dedb70" stroke-width="0.6"/>
<line x1="254.9" y1="529.1" x2="256.9" y2="529.1" stroke="#dedb70" stroke-width="0.6"/>
<line x1="254.9" y1="532.1" x2="256.9" y2="532.1" stroke="#dedb70" stroke-width="0.6"/>
<rect x="254.3" y="529.1" width="3.1" height="3.1" fill="#d4cd2a"/>
<line x1="258.3" y1="532.6" x2="258.3" y2="535.6" stroke="#6aa86a" stroke-width="0.6"/>
<line x1="257.3" y1="532.6" x2="259.3" y2="532.6" stroke="#6aa86a" stroke-width="0.6"/>
<line x1="257.3" y1="535.6" x2="259.3" y2="535.6" stroke="#6aa86a" stroke-width="0.6"/>
<path d="M258.3,532.2 L260.2,535.5 L256.4,535.5 Z" fill="#2e8a2e"/>
<line x1="260.7" y1="531.5" x2="260.7" y2="534.5" stroke="#a070b8" stroke-width="0.6"/>
<line x1="259.7" y1="531.5" x2="261.7" y2="531.5" stroke="#a070b8" stroke-width="0.6"/>
<line x1="259.7" y1="534.5" x2="261.7" y2="534.5" stroke="#a070b8" stroke-width="0.6"/>
<path d="M260.7,534.9 L262.6,531.6 L258.8,531.6 Z" fill="#6a1a8a"/>
<line x1="265.6" y1="525.8" x2="265.6" y2="528.8" stroke="#f0a070" stroke-width="0.6"/>
<line x1="264.6" y1="525.8" x2="266.6" y2="525.8" stroke="#f0a070" stroke-width="0.6"/>
<line x1="264.6" y1="528.8" x2="266.6" y2="528.8" stroke="#f0a070" stroke-width="0.6"/>
<circle cx="265.6" cy="527.3" r="1.65" fill="#e8742a"/>
<line x1="268.0" y1="528.2" x2="268.0" y2="531.2" stroke="#dedb70" stroke-width="0.6"/>
<line x1="267.0" y1="528.2" x2="269.0" y2="528.2" stroke="#dedb70" stroke-width="0.6"/>
<line x1="267.0" y1="531.2" x2="269.0" y2="531.2" stroke="#dedb70" stroke-width="0.6"/>
<rect x="266.4" y="528.1" width="3.1" height="3.1" fill="#d4cd2a"/>
<line x1="270.4" y1="529.1" x2="270.4" y2="532.1" stroke="#6aa86a" stroke-width="0.6"/>
<line x1="269.4" y1="529.1" x2="271.4" y2="529.1" stroke="#6aa86a" stroke-width="0.6"/>
<line x1="269.4" y1="532.1" x2="271.4" y2="532.1" stroke="#6aa86a" stroke-width="0.6"/>
<path d="M270.4,528.7 L272.3,532.0 L268.5,532.0 Z" fill="#2e8a2e"/>
<line x1="272.8" y1="529.1" x2="272.8" y2="532.1" stroke="#a070b8" stroke-width="0.6"/>
<line x1="271.8" y1="529.1" x2="273.8" y2="529.1" stroke="#a070b8" stroke-width="0.6"/>
<line x1="271.8" y1="532.1" x2="273.8" y2="532.1" stroke="#a070b8" stroke-width="0.6"/>
<path d="M272.8,532.5 L274.7,529.2 L270.9,529.2 Z" fill="#6a1a8a"/>
<line x1="301.7" y1="502.3" x2="301.7" y2="563.0" stroke="#222" stroke-width="1.3"/>
<line x1="301.7" y1="563.0" x2="362.2" y2="563.0" stroke="#222" stroke-width="1.3"/>
<line x1="299.7" y1="502.8" x2="301.7" y2="502.8" stroke="#222" stroke-width="0.9"/>
<text x="297.7" y="504.5" font-size="5.0" text-anchor="end" fill="#222" style="stroke-width:0.08px">4</text>
<line x1="299.7" y1="514.9" x2="301.7" y2="514.9" stroke="#222" stroke-width="0.9"/>
<text x="297.7" y="516.6" font-size="5.0" text-anchor="end" fill="#222" style="stroke-width:0.08px">2</text>
<line x1="299.7" y1="526.9" x2="301.7" y2="526.9" stroke="#222" stroke-width="0.9"/>
<text x="297.7" y="528.6" font-size="5.0" text-anchor="end" fill="#222" style="stroke-width:0.08px">1</text>
<line x1="299.7" y1="539.0" x2="301.7" y2="539.0" stroke="#222" stroke-width="0.9"/>
<text x="297.7" y="540.7" font-size="5.0" text-anchor="end" fill="#222" style="stroke-width:0.08px">0.5</text>
<line x1="299.7" y1="551.0" x2="301.7" y2="551.0" stroke="#222" stroke-width="0.9"/>
<text x="297.7" y="552.7" font-size="5.0" text-anchor="end" fill="#222" style="stroke-width:0.08px">0.25</text>
<line x1="299.7" y1="563.0" x2="301.7" y2="563.0" stroke="#222" stroke-width="0.9"/>
<text x="297.7" y="564.8" font-size="5.0" text-anchor="end" fill="#222" style="stroke-width:0.08px">0.125</text>
<line x1="301.7" y1="526.9" x2="362.2" y2="526.9" stroke="#333" stroke-width="0.9" stroke-dasharray="1.6,1.4"/>
<line x1="307.4" y1="563.0" x2="307.4" y2="565.0" stroke="#222" stroke-width="0.9"/>
<text x="307.4" y="570.6" font-size="5.0" text-anchor="middle" fill="#333" style="stroke-width:0.08px">0.25</text>
<line x1="319.5" y1="563.0" x2="319.5" y2="565.0" stroke="#222" stroke-width="0.9"/>
<text x="319.5" y="570.6" font-size="5.0" text-anchor="middle" fill="#333" style="stroke-width:0.08px">0.50</text>
<line x1="331.6" y1="563.0" x2="331.6" y2="565.0" stroke="#222" stroke-width="0.9"/>
<text x="331.6" y="570.6" font-size="5.0" text-anchor="middle" fill="#333" style="stroke-width:0.08px">1.00</text>
<line x1="343.7" y1="563.0" x2="343.7" y2="565.0" stroke="#222" stroke-width="0.9"/>
<text x="343.7" y="570.6" font-size="5.0" text-anchor="middle" fill="#333" style="stroke-width:0.08px">2.00</text>
<line x1="355.8" y1="563.0" x2="355.8" y2="565.0" stroke="#222" stroke-width="0.9"/>
<text x="355.8" y="570.6" font-size="5.0" text-anchor="middle" fill="#333" style="stroke-width:0.08px">4.00</text>
<text x="332.5" y="578.2" font-size="4.9" text-anchor="middle" fill="#333" style="stroke-width:0.08px">(Paxalisib; µmol/L)</text>
<line x1="303.8" y1="537.0" x2="303.8" y2="543.0" stroke="#f0a070" stroke-width="0.6"/>
<line x1="302.8" y1="537.0" x2="304.8" y2="537.0" stroke="#f0a070" stroke-width="0.6"/>
<line x1="302.8" y1="543.0" x2="304.8" y2="543.0" stroke="#f0a070" stroke-width="0.6"/>
<circle cx="303.8" cy="540.0" r="1.65" fill="#e8742a"/>
<line x1="306.2" y1="537.2" x2="306.2" y2="547.2" stroke="#dedb70" stroke-width="0.6"/>
<line x1="305.2" y1="537.2" x2="307.2" y2="537.2" stroke="#dedb70" stroke-width="0.6"/>
<line x1="305.2" y1="547.2" x2="307.2" y2="547.2" stroke="#dedb70" stroke-width="0.6"/>
<rect x="304.6" y="540.7" width="3.1" height="3.1" fill="#d4cd2a"/>
<line x1="308.6" y1="542.5" x2="308.6" y2="548.5" stroke="#6aa86a" stroke-width="0.6"/>
<line x1="307.6" y1="542.5" x2="309.6" y2="542.5" stroke="#6aa86a" stroke-width="0.6"/>
<line x1="307.6" y1="548.5" x2="309.6" y2="548.5" stroke="#6aa86a" stroke-width="0.6"/>
<path d="M308.6,543.6 L310.5,546.9 L306.7,546.9 Z" fill="#2e8a2e"/>
<line x1="311.0" y1="534.2" x2="311.0" y2="550.2" stroke="#a070b8" stroke-width="0.6"/>
<line x1="310.0" y1="534.2" x2="312.0" y2="534.2" stroke="#a070b8" stroke-width="0.6"/>
<line x1="310.0" y1="550.2" x2="312.0" y2="550.2" stroke="#a070b8" stroke-width="0.6"/>
<path d="M311.0,544.1 L312.9,540.8 L309.1,540.8 Z" fill="#6a1a8a"/>
<line x1="315.9" y1="537.0" x2="315.9" y2="540.0" stroke="#f0a070" stroke-width="0.6"/>
<line x1="314.9" y1="537.0" x2="316.9" y2="537.0" stroke="#f0a070" stroke-width="0.6"/>
<line x1="314.9" y1="540.0" x2="316.9" y2="540.0" stroke="#f0a070" stroke-width="0.6"/>
<circle cx="315.9" cy="538.5" r="1.65" fill="#e8742a"/>
<line x1="318.3" y1="545.3" x2="318.3" y2="548.3" stroke="#dedb70" stroke-width="0.6"/>
<line x1="317.3" y1="545.3" x2="319.3" y2="545.3" stroke="#dedb70" stroke-width="0.6"/>
<line x1="317.3" y1="548.3" x2="319.3" y2="548.3" stroke="#dedb70" stroke-width="0.6"/>
<rect x="316.8" y="545.2" width="3.1" height="3.1" fill="#d4cd2a"/>
<line x1="320.7" y1="549.3" x2="320.7" y2="554.3" stroke="#6aa86a" stroke-width="0.6"/>
<line x1="319.7" y1="549.3" x2="321.7" y2="549.3" stroke="#6aa86a" stroke-width="0.6"/>
<line x1="319.7" y1="554.3" x2="321.7" y2="554.3" stroke="#6aa86a" stroke-width="0.6"/>
<path d="M320.7,549.9 L322.6,553.2 L318.8,553.2 Z" fill="#2e8a2e"/>
<line x1="323.1" y1="541.8" x2="323.1" y2="551.8" stroke="#a070b8" stroke-width="0.6"/>
<line x1="322.1" y1="541.8" x2="324.1" y2="541.8" stroke="#a070b8" stroke-width="0.6"/>
<line x1="322.1" y1="551.8" x2="324.1" y2="551.8" stroke="#a070b8" stroke-width="0.6"/>
<path d="M323.1,548.7 L325.0,545.4 L321.2,545.4 Z" fill="#6a1a8a"/>
<line x1="328.0" y1="534.9" x2="328.0" y2="537.9" stroke="#f0a070" stroke-width="0.6"/>
<line x1="327.0" y1="534.9" x2="329.0" y2="534.9" stroke="#f0a070" stroke-width="0.6"/>
<line x1="327.0" y1="537.9" x2="329.0" y2="537.9" stroke="#f0a070" stroke-width="0.6"/>
<circle cx="328.0" cy="536.4" r="1.65" fill="#e8742a"/>
<line x1="330.4" y1="547.5" x2="330.4" y2="550.5" stroke="#dedb70" stroke-width="0.6"/>
<line x1="329.4" y1="547.5" x2="331.4" y2="547.5" stroke="#dedb70" stroke-width="0.6"/>
<line x1="329.4" y1="550.5" x2="331.4" y2="550.5" stroke="#dedb70" stroke-width="0.6"/>
<rect x="328.8" y="547.4" width="3.1" height="3.1" fill="#d4cd2a"/>
<line x1="332.8" y1="551.1" x2="332.8" y2="554.1" stroke="#6aa86a" stroke-width="0.6"/>
<line x1="331.8" y1="551.1" x2="333.8" y2="551.1" stroke="#6aa86a" stroke-width="0.6"/>
<line x1="331.8" y1="554.1" x2="333.8" y2="554.1" stroke="#6aa86a" stroke-width="0.6"/>
<path d="M332.8,550.7 L334.7,554.0 L330.9,554.0 Z" fill="#2e8a2e"/>
<line x1="335.2" y1="556.0" x2="335.2" y2="561.0" stroke="#a070b8" stroke-width="0.6"/>
<line x1="334.2" y1="556.0" x2="336.2" y2="556.0" stroke="#a070b8" stroke-width="0.6"/>
<line x1="334.2" y1="561.0" x2="336.2" y2="561.0" stroke="#a070b8" stroke-width="0.6"/>
<path d="M335.2,560.4 L337.1,557.1 L333.3,557.1 Z" fill="#6a1a8a"/>
<line x1="340.1" y1="528.8" x2="340.1" y2="531.8" stroke="#f0a070" stroke-width="0.6"/>
<line x1="339.1" y1="528.8" x2="341.1" y2="528.8" stroke="#f0a070" stroke-width="0.6"/>
<line x1="339.1" y1="531.8" x2="341.1" y2="531.8" stroke="#f0a070" stroke-width="0.6"/>
<circle cx="340.1" cy="530.3" r="1.65" fill="#e8742a"/>
<line x1="342.5" y1="536.4" x2="342.5" y2="548.4" stroke="#dedb70" stroke-width="0.6"/>
<line x1="341.5" y1="536.4" x2="343.5" y2="536.4" stroke="#dedb70" stroke-width="0.6"/>
<line x1="341.5" y1="548.4" x2="343.5" y2="548.4" stroke="#dedb70" stroke-width="0.6"/>
<rect x="340.9" y="540.9" width="3.1" height="3.1" fill="#d4cd2a"/>
<line x1="344.9" y1="549.6" x2="344.9" y2="555.6" stroke="#6aa86a" stroke-width="0.6"/>
<line x1="343.9" y1="549.6" x2="345.9" y2="549.6" stroke="#6aa86a" stroke-width="0.6"/>
<line x1="343.9" y1="555.6" x2="345.9" y2="555.6" stroke="#6aa86a" stroke-width="0.6"/>
<path d="M344.9,550.7 L346.8,554.0 L343.0,554.0 Z" fill="#2e8a2e"/>
<line x1="347.3" y1="554.7" x2="347.3" y2="557.7" stroke="#a070b8" stroke-width="0.6"/>
<line x1="346.3" y1="554.7" x2="348.3" y2="554.7" stroke="#a070b8" stroke-width="0.6"/>
<line x1="346.3" y1="557.7" x2="348.3" y2="557.7" stroke="#a070b8" stroke-width="0.6"/>
<path d="M347.3,558.1 L349.2,554.8 L345.4,554.8 Z" fill="#6a1a8a"/>
<line x1="352.2" y1="524.1" x2="352.2" y2="527.1" stroke="#f0a070" stroke-width="0.6"/>
<line x1="351.2" y1="524.1" x2="353.2" y2="524.1" stroke="#f0a070" stroke-width="0.6"/>
<line x1="351.2" y1="527.1" x2="353.2" y2="527.1" stroke="#f0a070" stroke-width="0.6"/>
<circle cx="352.2" cy="525.6" r="1.65" fill="#e8742a"/>
<line x1="354.6" y1="536.5" x2="354.6" y2="540.5" stroke="#dedb70" stroke-width="0.6"/>
<line x1="353.6" y1="536.5" x2="355.6" y2="536.5" stroke="#dedb70" stroke-width="0.6"/>
<line x1="353.6" y1="540.5" x2="355.6" y2="540.5" stroke="#dedb70" stroke-width="0.6"/>
<rect x="353.0" y="536.9" width="3.1" height="3.1" fill="#d4cd2a"/>
<line x1="357.0" y1="543.6" x2="357.0" y2="553.6" stroke="#6aa86a" stroke-width="0.6"/>
<line x1="356.0" y1="543.6" x2="358.0" y2="543.6" stroke="#6aa86a" stroke-width="0.6"/>
<line x1="356.0" y1="553.6" x2="358.0" y2="553.6" stroke="#6aa86a" stroke-width="0.6"/>
<path d="M357.0,546.7 L358.9,550.0 L355.1,550.0 Z" fill="#2e8a2e"/>
<line x1="359.4" y1="545.2" x2="359.4" y2="559.2" stroke="#a070b8" stroke-width="0.6"/>
<line x1="358.4" y1="545.2" x2="360.4" y2="545.2" stroke="#a070b8" stroke-width="0.6"/>
<line x1="358.4" y1="559.2" x2="360.4" y2="559.2" stroke="#a070b8" stroke-width="0.6"/>
<path d="M359.4,554.1 L361.3,550.8 L357.5,550.8 Z" fill="#6a1a8a"/>
<text x="375.9" y="380.6" font-size="11.8" font-weight="bold" fill="#000">H</text>
<text x="423.8" y="418.3" font-size="8" font-weight="bold" text-anchor="middle">HSJD-DIPG-007</text>
<text x="476.0" y="418.3" font-size="8" font-weight="bold" text-anchor="middle">NTC</text>
<text x="381.9" y="426.2" font-size="7" fill="#333">Bliss:</text>
<text x="423.8" y="426.2" font-size="7" text-anchor="middle" fill="#333">7.35 ± 1.17</text>
<text x="476.0" y="426.2" font-size="7" text-anchor="middle" fill="#333">8.42 ± 1.18</text>
<text x="423.8" y="496.8" font-size="8" font-weight="bold" text-anchor="middle"><tspan font-style="italic">TP53</tspan>-KD</text>
<text x="476.4" y="496.8" font-size="8" font-weight="bold" text-anchor="middle"><tspan font-style="italic">TP53</tspan>-KO</text>
<text x="382.1" y="505.4" font-size="7" fill="#333">Bliss:</text>
<text x="423.8" y="505.4" font-size="7" text-anchor="middle" fill="#333">12.60 ± 1.37</text>
<text x="476.6" y="505.4" font-size="7" text-anchor="middle" fill="#333">22.36 ± 1.78</text>
<clipPath id="hc7"><rect x="398.8" y="428.2" width="48.8" height="57.8"/></clipPath>
<g clip-path="url(#hc7)"><rect x="398.8" y="428.2" width="48.8" height="57.8" fill="#fff"/>
<g filter="url(#hb)" class="hc7">
<rect x="393.9" y="423.4" fill="#fce0e1"/>
<rect x="398.8" y="423.4" fill="#fce0e1"/>
<rect x="403.7" y="423.4" fill="#f9b4b5"/>
<rect x="408.6" y="423.4" fill="#f69597"/>
<rect x="413.4" y="423.4" fill="#f68e90"/>
<rect x="418.3" y="423.4" fill="#f79fa1"/>
<rect x="423.2" y="423.4" fill="#f9bbbc"/>
<rect x="428.1" y="423.4" fill="#fbd1d1"/>
<rect x="433.0" y="423.4" fill="#fcdcdd"/>
<rect x="437.8" y="423.4" fill="#fce0e0"/>
<rect x="442.7" y="423.4" fill="#fcdede"/>
<rect x="447.6" y="423.4" fill="#fcdede"/>
<rect x="393.9" y="428.2" fill="#fce0e1"/>
<rect x="398.8" y="428.2" fill="#fce0e1"/>
<rect x="403.7" y="428.2" fill="#f9b4b5"/>
<rect x="408.6" y="428.2" fill="#f69597"/>
<rect x="413.4" y="428.2" fill="#f68e90"/>
<rect x="418.3" y="428.2" fill="#f79fa1"/>
<rect x="423.2" y="428.2" fill="#f9bbbc"/>
<rect x="428.1" y="428.2" fill="#fbd1d1"/>
<rect x="433.0" y="428.2" fill="#fcdcdd"/>
<rect x="437.8" y="428.2" fill="#fce0e0"/>
<rect x="442.7" y="428.2" fill="#fcdede"/>
<rect x="447.6" y="428.2" fill="#fcdede"/>
<rect x="393.9" y="433.0" fill="#fcdfdf"/>
<rect x="398.8" y="433.0" fill="#fcdfdf"/>
<rect x="403.7" y="433.0" fill="#f8acae"/>
<rect x="408.6" y="433.0" fill="#f5888a"/>
<rect x="413.4" y="433.0" fill="#f57f82"/>
<rect x="418.3" y="433.0" fill="#f69496"/>
<rect x="423.2" y="433.0" fill="#f9b6b7"/>
<rect x="428.1" y="433.0" fill="#fbd0d1"/>
<rect x="433.0" y="433.0" fill="#fcdedf"/>
<rect x="437.8" y="433.0" fill="#fce3e3"/>
<rect x="442.7" y="433.0" fill="#fce0e1"/>
<rect x="447.6" y="433.0" fill="#fce0e1"/>
<rect x="393.9" y="437.8" fill="#fcddde"/>
<rect x="398.8" y="437.8" fill="#fcddde"/>
<rect x="403.7" y="437.8" fill="#f8a5a7"/>
<rect x="408.6" y="437.8" fill="#f47b7d"/>
<rect x="413.4" y="437.8" fill="#f47173"/>
<rect x="418.3" y="437.8" fill="#f6898b"/>
<rect x="423.2" y="437.8" fill="#f8b0b1"/>
<rect x="428.1" y="437.8" fill="#fbcfd0"/>
<rect x="433.0" y="437.8" fill="#fce0e0"/>
<rect x="437.8" y="437.8" fill="#fde6e6"/>
<rect x="442.7" y="437.8" fill="#fce3e3"/>
<rect x="447.6" y="437.8" fill="#fce3e3"/>
<rect x="393.9" y="442.6" fill="#fcdbdc"/>
<rect x="398.8" y="442.6" fill="#fcdbdc"/>
<rect x="403.7" y="442.6" fill="#f79d9e"/>
<rect x="408.6" y="442.6" fill="#f36d6f"/>
<rect x="413.4" y="442.6" fill="#f26164"/>
<rect x="418.3" y="442.6" fill="#f57c7e"/>
<rect x="423.2" y="442.6" fill="#f8a8aa"/>
<rect x="428.1" y="442.6" fill="#fbcdcd"/>
<rect x="433.0" y="442.6" fill="#fce1e1"/>
<rect x="437.8" y="442.6" fill="#fde8e8"/>
<rect x="442.7" y="442.6" fill="#fde5e5"/>
<rect x="447.6" y="442.6" fill="#fde5e5"/>
<rect x="393.9" y="447.5" fill="#fcd8d9"/>
<rect x="398.8" y="447.5" fill="#fcd8d9"/>
<rect x="403.7" y="447.5" fill="#f69294"/>
<rect x="408.6" y="447.5" fill="#f25c5f"/>
<rect x="413.4" y="447.5" fill="#f14e51"/>
<rect x="418.3" y="447.5" fill="#f36b6e"/>
<rect x="423.2" y="447.5" fill="#f79e9f"/>
<rect x="428.1" y="447.5" fill="#fac8c9"/>
<rect x="433.0" y="447.5" fill="#fce0e1"/>
<rect x="437.8" y="447.5" fill="#fde9e9"/>
<rect x="442.7" y="447.5" fill="#fde6e6"/>
<rect x="447.6" y="447.5" fill="#fde6e6"/>
<rect x="393.9" y="452.3" fill="#fbd5d6"/>
<rect x="398.8" y="452.3" fill="#fbd5d6"/>
<rect x="403.7" y="452.3" fill="#f58688"/>
<rect x="408.6" y="452.3" fill="#f1484b"/>
<rect x="413.4" y="452.3" fill="#ef373b"/>
<rect x="418.3" y="452.3" fill="#f2585b"/>
<rect x="423.2" y="452.3" fill="#f69193"/>
<rect x="428.1" y="452.3" fill="#fac2c3"/>
<rect x="433.0" y="452.3" fill="#fcdedf"/>
<rect x="437.8" y="452.3" fill="#fde9e9"/>
<rect x="442.7" y="452.3" fill="#fde6e7"/>
<rect x="447.6" y="452.3" fill="#fde6e7"/>
<rect x="393.9" y="457.1" fill="#fbd2d2"/>
<rect x="398.8" y="457.1" fill="#fbd2d2"/>
<rect x="403.7" y="457.1" fill="#f47a7c"/>
<rect x="408.6" y="457.1" fill="#ef3539"/>
<rect x="413.4" y="457.1" fill="#ee2327"/>
<rect x="418.3" y="457.1" fill="#f04548"/>
<rect x="423.2" y="457.1" fill="#f58486"/>
<rect x="428.1" y="457.1" fill="#f9bbbc"/>
<rect x="433.0" y="457.1" fill="#fcdbdc"/>
<rect x="437.8" y="457.1" fill="#fde7e8"/>
<rect x="442.7" y="457.1" fill="#fde6e6"/>
<rect x="447.6" y="457.1" fill="#fde6e6"/>
<rect x="393.9" y="461.9" fill="#fbd0d1"/>
<rect x="398.8" y="461.9" fill="#fbd0d1"/>
<rect x="403.7" y="461.9" fill="#f47476"/>
<rect x="408.6" y="461.9" fill="#ee2c30"/>
<rect x="413.4" y="461.9" fill="#ee2024"/>
<rect x="418.3" y="461.9" fill="#f03b3f"/>
<rect x="423.2" y="461.9" fill="#f57c7f"/>
<rect x="428.1" y="461.9" fill="#f9b6b8"/>
<rect x="433.0" y="461.9" fill="#fcd9d9"/>
<rect x="437.8" y="461.9" fill="#fde5e6"/>
<rect x="442.7" y="461.9" fill="#fce4e5"/>
<rect x="447.6" y="461.9" fill="#fce4e5"/>
<rect x="393.9" y="466.7" fill="#fbd1d1"/>
<rect x="398.8" y="466.7" fill="#fbd1d1"/>
<rect x="403.7" y="466.7" fill="#f4787a"/>
<rect x="408.6" y="466.7" fill="#ef3437"/>
<rect x="413.4" y="466.7" fill="#ee2024"/>
<rect x="418.3" y="466.7" fill="#f04144"/>
<rect x="423.2" y="466.7" fill="#f57e81"/>
<rect x="428.1" y="466.7" fill="#f9b6b7"/>
<rect x="433.0" y="466.7" fill="#fbd7d7"/>
<rect x="437.8" y="466.7" fill="#fce3e3"/>
<rect x="442.7" y="466.7" fill="#fce2e3"/>
<rect x="447.6" y="466.7" fill="#fce2e3"/>
<rect x="393.9" y="471.5" fill="#fbd4d5"/>
<rect x="398.8" y="471.5" fill="#fbd4d5"/>
<rect x="403.7" y="471.5" fill="#f58688"/>
<rect x="408.6" y="471.5" fill="#f14b4f"/>
<rect x="413.4" y="471.5" fill="#f03b3f"/>
<rect x="418.3" y="471.5" fill="#f2575a"/>
<rect x="423.2" y="471.5" fill="#f68b8d"/>
<rect x="428.1" y="471.5" fill="#f9babb"/>
<rect x="433.0" y="471.5" fill="#fbd6d7"/>
<rect x="437.8" y="471.5" fill="#fce0e1"/>
<rect x="442.7" y="471.5" fill="#fce0e0"/>
<rect x="447.6" y="471.5" fill="#fce0e0"/>
<rect x="393.9" y="476.4" fill="#fce0e0"/>
<rect x="398.8" y="476.4" fill="#fce0e0"/>
<rect x="403.7" y="476.4" fill="#f8acae"/>
<rect x="408.6" y="476.4" fill="#f5888a"/>
<rect x="413.4" y="476.4" fill="#f57e80"/>
<rect x="418.3" y="476.4" fill="#f68f91"/>
<rect x="423.2" y="476.4" fill="#f8afb0"/>
<rect x="428.1" y="476.4" fill="#fbcccd"/>
<rect x="433.0" y="476.4" fill="#fcddde"/>
<rect x="437.8" y="476.4" fill="#fce4e4"/>
<rect x="442.7" y="476.4" fill="#fce3e3"/>
<rect x="447.6" y="476.4" fill="#fce3e3"/>
<rect x="393.9" y="481.2" fill="#fdf0f0"/>
<rect x="398.8" y="481.2" fill="#fdf0f0"/>
<rect x="403.7" y="481.2" fill="#fcdadb"/>
<rect x="408.6" y="481.2" fill="#fbcccd"/>
<rect x="413.4" y="481.2" fill="#fac9c9"/>
<rect x="418.3" y="481.2" fill="#fbcfd0"/>
<rect x="423.2" y="481.2" fill="#fcdbdb"/>
<rect x="428.1" y="481.2" fill="#fde5e6"/>
<rect x="433.0" y="481.2" fill="#fdecec"/>
<rect x="437.8" y="481.2" fill="#fdeeef"/>
<rect x="442.7" y="481.2" fill="#fdeeee"/>
<rect x="447.6" y="481.2" fill="#fdeeee"/>
<rect x="393.9" y="486.0" fill="#fdf0f0"/>
<rect x="398.8" y="486.0" fill="#fdf0f0"/>
<rect x="403.7" y="486.0" fill="#fcdadb"/>
<rect x="408.6" y="486.0" fill="#fbcccd"/>
<rect x="413.4" y="486.0" fill="#fac9c9"/>
<rect x="418.3" y="486.0" fill="#fbcfd0"/>
<rect x="423.2" y="486.0" fill="#fcdbdb"/>
<rect x="428.1" y="486.0" fill="#fde5e6"/>
<rect x="433.0" y="486.0" fill="#fdecec"/>
<rect x="437.8" y="486.0" fill="#fdeeef"/>
<rect x="442.7" y="486.0" fill="#fdeeee"/>
<rect x="447.6" y="486.0" fill="#fdeeee"/>
</g>
<line x1="408.6" y1="428.2" x2="408.6" y2="486.0" stroke="#666" stroke-width="0.6" stroke-opacity="0.55"/>
<line x1="418.3" y1="428.2" x2="418.3" y2="486.0" stroke="#666" stroke-width="0.6" stroke-opacity="0.55"/>
<line x1="428.1" y1="428.2" x2="428.1" y2="486.0" stroke="#666" stroke-width="0.6" stroke-opacity="0.55"/>
<line x1="437.8" y1="428.2" x2="437.8" y2="486.0" stroke="#666" stroke-width="0.6" stroke-opacity="0.55"/>
<line x1="398.8" y1="442.6" x2="447.6" y2="442.6" stroke="#666" stroke-width="0.6" stroke-opacity="0.55"/>
<line x1="398.8" y1="457.1" x2="447.6" y2="457.1" stroke="#666" stroke-width="0.6" stroke-opacity="0.55"/>
<line x1="398.8" y1="471.5" x2="447.6" y2="471.5" stroke="#666" stroke-width="0.6" stroke-opacity="0.55"/>
</g>
<rect x="398.8" y="428.2" width="48.8" height="57.8" fill="none" stroke="#bdbdbd" stroke-width="0.8"/>
<line x1="398.8" y1="486.0" x2="398.8" y2="431.2" stroke="#111" stroke-width="1.1"/>
<line x1="398.8" y1="486.0" x2="444.6" y2="486.0" stroke="#111" stroke-width="1.1"/>
<path d="M396.6,432.2 L398.8,427.7 L401.0,432.2 Z" fill="#111"/>
<path d="M443.6,483.8 L448.1,486.0 L443.6,488.2 Z" fill="#111"/>
<clipPath id="hc8"><rect x="451.6" y="428.2" width="48.8" height="57.8"/></clipPath>
<g clip-path="url(#hc8)"><rect x="451.6" y="428.2" width="48.8" height="57.8" fill="#fff"/>
<g filter="url(#hb)" class="hc8">
<rect x="446.7" y="423.4" fill="#fef4f4"/>
<rect x="451.6" y="423.4" fill="#fef4f4"/>
<rect x="456.5" y="423.4" fill="#fdf0f0"/>
<rect x="461.4" y="423.4" fill="#fef3f3"/>
<rect x="466.2" y="423.4" fill="#fef7f7"/>
<rect x="471.1" y="423.4" fill="#fefafa"/>
<rect x="476.0" y="423.4" fill="#fefbfb"/>
<rect x="480.9" y="423.4" fill="#fef8f8"/>
<rect x="485.8" y="423.4" fill="#fef4f4"/>
<rect x="490.6" y="423.4" fill="#fdeff0"/>
<rect x="495.5" y="423.4" fill="#fdeaea"/>
<rect x="500.4" y="423.4" fill="#fdeaea"/>
<rect x="446.7" y="428.2" fill="#fef4f4"/>
<rect x="451.6" y="428.2" fill="#fef4f4"/>
<rect x="456.5" y="428.2" fill="#fdf0f0"/>
<rect x="461.4" y="428.2" fill="#fef3f3"/>
<rect x="466.2" y="428.2" fill="#fef7f7"/>
<rect x="471.1" y="428.2" fill="#fefafa"/>
<rect x="476.0" y="428.2" fill="#fefbfb"/>
<rect x="480.9" y="428.2" fill="#fef8f8"/>
<rect x="485.8" y="428.2" fill="#fef4f4"/>
<rect x="490.6" y="428.2" fill="#fdeff0"/>
<rect x="495.5" y="428.2" fill="#fdeaea"/>
<rect x="500.4" y="428.2" fill="#fdeaea"/>
<rect x="446.7" y="433.0" fill="#fdf1f1"/>
<rect x="451.6" y="433.0" fill="#fdf1f1"/>
<rect x="456.5" y="433.0" fill="#fde7e8"/>
<rect x="461.4" y="433.0" fill="#fde7e7"/>
<rect x="466.2" y="433.0" fill="#fde9e9"/>
<rect x="471.1" y="433.0" fill="#fdebeb"/>
<rect x="476.0" y="433.0" fill="#fdeced"/>
<rect x="480.9" y="433.0" fill="#fdecec"/>
<rect x="485.8" y="433.0" fill="#fdeaeb"/>
<rect x="490.6" y="433.0" fill="#fde8e8"/>
<rect x="495.5" y="433.0" fill="#fce4e5"/>
<rect x="500.4" y="433.0" fill="#fce4e5"/>
<rect x="446.7" y="437.8" fill="#fde9e9"/>
<rect x="451.6" y="437.8" fill="#fde9e9"/>
<rect x="456.5" y="437.8" fill="#fbd3d4"/>
<rect x="461.4" y="437.8" fill="#fbcccd"/>
<rect x="466.2" y="437.8" fill="#fbcbcc"/>
<rect x="471.1" y="437.8" fill="#fbcdce"/>
<rect x="476.0" y="437.8" fill="#fbd0d1"/>
<rect x="480.9" y="437.8" fill="#fbd3d4"/>
<rect x="485.8" y="437.8" fill="#fbd5d6"/>
<rect x="490.6" y="437.8" fill="#fbd6d7"/>
<rect x="495.5" y="437.8" fill="#fbd7d8"/>
<rect x="500.4" y="437.8" fill="#fbd7d8"/>
<rect x="446.7" y="442.6" fill="#fce0e1"/>
<rect x="451.6" y="442.6" fill="#fce0e1"/>
<rect x="456.5" y="442.6" fill="#f9bbbc"/>
<rect x="461.4" y="442.6" fill="#f8aaac"/>
<rect x="466.2" y="442.6" fill="#f8a6a8"/>
<rect x="471.1" y="442.6" fill="#f8aaab"/>
<rect x="476.0" y="442.6" fill="#f9b1b2"/>
<rect x="480.9" y="442.6" fill="#f9b8b9"/>
<rect x="485.8" y="442.6" fill="#fabfc0"/>
<rect x="490.6" y="442.6" fill="#fac5c6"/>
<rect x="495.5" y="442.6" fill="#fbcbcc"/>
<rect x="500.4" y="442.6" fill="#fbcbcc"/>
<rect x="446.7" y="447.5" fill="#fbd7d7"/>
<rect x="451.6" y="447.5" fill="#fbd7d7"/>
<rect x="456.5" y="447.5" fill="#f79fa1"/>
<rect x="461.4" y="447.5" fill="#f58385"/>
<rect x="466.2" y="447.5" fill="#f47b7d"/>
<rect x="471.1" y="447.5" fill="#f58183"/>
<rect x="476.0" y="447.5" fill="#f68e90"/>
<rect x="480.9" y="447.5" fill="#f79c9e"/>
<rect x="485.8" y="447.5" fill="#f8a9ab"/>
<rect x="490.6" y="447.5" fill="#f9b6b7"/>
<rect x="495.5" y="447.5" fill="#fac1c2"/>
<rect x="500.4" y="447.5" fill="#fac1c2"/>
<rect x="446.7" y="452.3" fill="#fbcdce"/>
<rect x="451.6" y="452.3" fill="#fbcdce"/>
<rect x="456.5" y="452.3" fill="#f58385"/>
<rect x="461.4" y="452.3" fill="#f2595c"/>
<rect x="466.2" y="452.3" fill="#f14e52"/>
<rect x="471.1" y="452.3" fill="#f2575a"/>
<rect x="476.0" y="452.3" fill="#f36b6e"/>
<rect x="480.9" y="452.3" fill="#f58183"/>
<rect x="485.8" y="452.3" fill="#f69597"/>
<rect x="490.6" y="452.3" fill="#f8a8aa"/>
<rect x="495.5" y="452.3" fill="#f9b9ba"/>
<rect x="500.4" y="452.3" fill="#f9b9ba"/>
<rect x="446.7" y="457.1" fill="#fac6c7"/>
<rect x="451.6" y="457.1" fill="#fac6c7"/>
<rect x="456.5" y="457.1" fill="#f36e71"/>
<rect x="461.4" y="457.1" fill="#f03c3f"/>
<rect x="466.2" y="457.1" fill="#ef2f32"/>
<rect x="471.1" y="457.1" fill="#f03a3e"/>
<rect x="476.0" y="457.1" fill="#f25457"/>
<rect x="480.9" y="457.1" fill="#f46f72"/>
<rect x="485.8" y="457.1" fill="#f6898b"/>
<rect x="490.6" y="457.1" fill="#f7a0a2"/>
<rect x="495.5" y="457.1" fill="#f9b4b6"/>
<rect x="500.4" y="457.1" fill="#f9b4b6"/>
<rect x="446.7" y="461.9" fill="#fac5c6"/>
<rect x="451.6" y="461.9" fill="#fac5c6"/>
<rect x="456.5" y="461.9" fill="#f36a6d"/>
<rect x="461.4" y="461.9" fill="#ef373a"/>
<rect x="466.2" y="461.9" fill="#ee292d"/>
<rect x="471.1" y="461.9" fill="#ef3639"/>
<rect x="476.0" y="461.9" fill="#f15154"/>
<rect x="480.9" y="461.9" fill="#f46e71"/>
<rect x="485.8" y="461.9" fill="#f6888b"/>
<rect x="490.6" y="461.9" fill="#f7a0a2"/>
<rect x="495.5" y="461.9" fill="#f9b4b6"/>
<rect x="500.4" y="461.9" fill="#f9b4b6"/>
<rect x="446.7" y="466.7" fill="#facacb"/>
<rect x="451.6" y="466.7" fill="#facacb"/>
<rect x="456.5" y="466.7" fill="#f4797b"/>
<rect x="461.4" y="466.7" fill="#f14c4f"/>
<rect x="466.2" y="466.7" fill="#f04144"/>
<rect x="471.1" y="466.7" fill="#f14c4f"/>
<rect x="476.0" y="466.7" fill="#f36467"/>
<rect x="480.9" y="466.7" fill="#f57e80"/>
<rect x="485.8" y="466.7" fill="#f69596"/>
<rect x="490.6" y="466.7" fill="#f8a9aa"/>
<rect x="495.5" y="466.7" fill="#f9b9ba"/>
<rect x="500.4" y="466.7" fill="#f9b9ba"/>
<rect x="446.7" y="471.5" fill="#fbd2d3"/>
<rect x="451.6" y="471.5" fill="#fbd2d3"/>
<rect x="456.5" y="471.5" fill="#f69395"/>
<rect x="461.4" y="471.5" fill="#f47274"/>
<rect x="466.2" y="471.5" fill="#f36a6c"/>
<rect x="471.1" y="471.5" fill="#f47275"/>
<rect x="476.0" y="471.5" fill="#f58487"/>
<rect x="480.9" y="471.5" fill="#f79799"/>
<rect x="485.8" y="471.5" fill="#f8a7a9"/>
<rect x="490.6" y="471.5" fill="#f9b5b6"/>
<rect x="495.5" y="471.5" fill="#fac0c1"/>
<rect x="500.4" y="471.5" fill="#fac0c1"/>
<rect x="446.7" y="476.4" fill="#fce2e2"/>
<rect x="451.6" y="476.4" fill="#fce2e2"/>
<rect x="456.5" y="476.4" fill="#f9bdbe"/>
<rect x="461.4" y="476.4" fill="#f8abad"/>
<rect x="466.2" y="476.4" fill="#f8a7a9"/>
<rect x="471.1" y="476.4" fill="#f8acad"/>
<rect x="476.0" y="476.4" fill="#f9b5b6"/>
<rect x="480.9" y="476.4" fill="#fabebf"/>
<rect x="485.8" y="476.4" fill="#fac5c6"/>
<rect x="490.6" y="476.4" fill="#fbcccd"/>
<rect x="495.5" y="476.4" fill="#fbd1d1"/>
<rect x="500.4" y="476.4" fill="#fbd1d1"/>
<rect x="446.7" y="481.2" fill="#fdf1f1"/>
<rect x="451.6" y="481.2" fill="#fdf1f1"/>
<rect x="456.5" y="481.2" fill="#fce2e3"/>
<rect x="461.4" y="481.2" fill="#fcdddd"/>
<rect x="466.2" y="481.2" fill="#fcdcdc"/>
<rect x="471.1" y="481.2" fill="#fcddde"/>
<rect x="476.0" y="481.2" fill="#fcdfe0"/>
<rect x="480.9" y="481.2" fill="#fce2e2"/>
<rect x="485.8" y="481.2" fill="#fce4e4"/>
<rect x="490.6" y="481.2" fill="#fde5e6"/>
<rect x="495.5" y="481.2" fill="#fde7e7"/>
<rect x="500.4" y="481.2" fill="#fde7e7"/>
<rect x="446.7" y="486.0" fill="#fdf1f1"/>
<rect x="451.6" y="486.0" fill="#fdf1f1"/>
<rect x="456.5" y="486.0" fill="#fce2e3"/>
<rect x="461.4" y="486.0" fill="#fcdddd"/>
<rect x="466.2" y="486.0" fill="#fcdcdc"/>
<rect x="471.1" y="486.0" fill="#fcddde"/>
<rect x="476.0" y="486.0" fill="#fcdfe0"/>
<rect x="480.9" y="486.0" fill="#fce2e2"/>
<rect x="485.8" y="486.0" fill="#fce4e4"/>
<rect x="490.6" y="486.0" fill="#fde5e6"/>
<rect x="495.5" y="486.0" fill="#fde7e7"/>
<rect x="500.4" y="486.0" fill="#fde7e7"/>
</g>
<line x1="461.4" y1="428.2" x2="461.4" y2="486.0" stroke="#666" stroke-width="0.6" stroke-opacity="0.55"/>
<line x1="471.1" y1="428.2" x2="471.1" y2="486.0" stroke="#666" stroke-width="0.6" stroke-opacity="0.55"/>
<line x1="480.9" y1="428.2" x2="480.9" y2="486.0" stroke="#666" stroke-width="0.6" stroke-opacity="0.55"/>
<line x1="490.6" y1="428.2" x2="490.6" y2="486.0" stroke="#666" stroke-width="0.6" stroke-opacity="0.55"/>
<line x1="451.6" y1="442.6" x2="500.4" y2="442.6" stroke="#666" stroke-width="0.6" stroke-opacity="0.55"/>
<line x1="451.6" y1="457.1" x2="500.4" y2="457.1" stroke="#666" stroke-width="0.6" stroke-opacity="0.55"/>
<line x1="451.6" y1="471.5" x2="500.4" y2="471.5" stroke="#666" stroke-width="0.6" stroke-opacity="0.55"/>
</g>
<rect x="451.6" y="428.2" width="48.8" height="57.8" fill="none" stroke="#bdbdbd" stroke-width="0.8"/>
<line x1="451.6" y1="486.0" x2="451.6" y2="431.2" stroke="#111" stroke-width="1.1"/>
<line x1="451.6" y1="486.0" x2="497.4" y2="486.0" stroke="#111" stroke-width="1.1"/>
<path d="M449.4,432.2 L451.6,427.7 L453.8,432.2 Z" fill="#111"/>
<path d="M496.4,483.8 L500.9,486.0 L496.4,488.2 Z" fill="#111"/>
<clipPath id="hc9"><rect x="398.8" y="507.9" width="49.4" height="57.7"/></clipPath>
<g clip-path="url(#hc9)"><rect x="398.8" y="507.9" width="49.4" height="57.7" fill="#fff"/>
<g filter="url(#hb)" class="hc9">
<rect x="393.9" y="503.1" fill="#fbcecf"/>
<rect x="398.8" y="503.1" fill="#fbcecf"/>
<rect x="403.7" y="503.1" fill="#f58789"/>
<rect x="408.7" y="503.1" fill="#f15255"/>
<rect x="413.6" y="503.1" fill="#ef3438"/>
<rect x="418.6" y="503.1" fill="#ef3336"/>
<rect x="423.5" y="503.1" fill="#f14a4d"/>
<rect x="428.4" y="503.1" fill="#f36669"/>
<rect x="433.4" y="503.1" fill="#f57c7e"/>
<rect x="438.3" y="503.1" fill="#f68d8f"/>
<rect x="443.3" y="503.1" fill="#f79c9e"/>
<rect x="448.2" y="503.1" fill="#f79c9e"/>
<rect x="393.9" y="507.9" fill="#fbcecf"/>
<rect x="398.8" y="507.9" fill="#fbcecf"/>
<rect x="403.7" y="507.9" fill="#f58789"/>
<rect x="408.7" y="507.9" fill="#f15255"/>
<rect x="413.6" y="507.9" fill="#ef3438"/>
<rect x="418.6" y="507.9" fill="#ef3336"/>
<rect x="423.5" y="507.9" fill="#f14a4d"/>
<rect x="428.4" y="507.9" fill="#f36669"/>
<rect x="433.4" y="507.9" fill="#f57c7e"/>
<rect x="438.3" y="507.9" fill="#f68d8f"/>
<rect x="443.3" y="507.9" fill="#f79c9e"/>
<rect x="448.2" y="507.9" fill="#f79c9e"/>
<rect x="393.9" y="512.7" fill="#fbcfd0"/>
<rect x="398.8" y="512.7" fill="#fbcfd0"/>
<rect x="403.7" y="512.7" fill="#f58789"/>
<rect x="408.7" y="512.7" fill="#f14f52"/>
<rect x="413.6" y="512.7" fill="#ef3134"/>
<rect x="418.6" y="512.7" fill="#ef3336"/>
<rect x="423.5" y="512.7" fill="#f14f52"/>
<rect x="428.4" y="512.7" fill="#f46f72"/>
<rect x="433.4" y="512.7" fill="#f58587"/>
<rect x="438.3" y="512.7" fill="#f69496"/>
<rect x="443.3" y="512.7" fill="#f7a2a4"/>
<rect x="448.2" y="512.7" fill="#f7a2a4"/>
<rect x="393.9" y="517.5" fill="#fbd1d2"/>
<rect x="398.8" y="517.5" fill="#fbd1d2"/>
<rect x="403.7" y="517.5" fill="#f68a8c"/>
<rect x="408.7" y="517.5" fill="#f15255"/>
<rect x="413.6" y="517.5" fill="#ef3538"/>
<rect x="418.6" y="517.5" fill="#f03a3d"/>
<rect x="423.5" y="517.5" fill="#f25b5e"/>
<rect x="428.4" y="517.5" fill="#f57e81"/>
<rect x="433.4" y="517.5" fill="#f69395"/>
<rect x="438.3" y="517.5" fill="#f79fa1"/>
<rect x="443.3" y="517.5" fill="#f8aaab"/>
<rect x="448.2" y="517.5" fill="#f8aaab"/>
<rect x="393.9" y="522.3" fill="#fbd2d3"/>
<rect x="398.8" y="522.3" fill="#fbd2d3"/>
<rect x="403.7" y="522.3" fill="#f68b8d"/>
<rect x="408.7" y="522.3" fill="#f15256"/>
<rect x="413.6" y="522.3" fill="#ef3538"/>
<rect x="418.6" y="522.3" fill="#f03b3f"/>
<rect x="423.5" y="522.3" fill="#f25f62"/>
<rect x="428.4" y="522.3" fill="#f58386"/>
<rect x="433.4" y="522.3" fill="#f79799"/>
<rect x="438.3" y="522.3" fill="#f7a2a4"/>
<rect x="443.3" y="522.3" fill="#f8acae"/>
<rect x="448.2" y="522.3" fill="#f8acae"/>
<rect x="393.9" y="527.1" fill="#fbd2d3"/>
<rect x="398.8" y="527.1" fill="#fbd2d3"/>
<rect x="403.7" y="527.1" fill="#f68c8e"/>
<rect x="408.7" y="527.1" fill="#f15256"/>
<rect x="413.6" y="527.1" fill="#ef3438"/>
<rect x="418.6" y="527.1" fill="#f03b3f"/>
<rect x="423.5" y="527.1" fill="#f26063"/>
<rect x="428.4" y="527.1" fill="#f58486"/>
<rect x="433.4" y="527.1" fill="#f79899"/>
<rect x="438.3" y="527.1" fill="#f7a2a3"/>
<rect x="443.3" y="527.1" fill="#f8acae"/>
<rect x="448.2" y="527.1" fill="#f8acae"/>
<rect x="393.9" y="531.9" fill="#fbd3d3"/>
<rect x="398.8" y="531.9" fill="#fbd3d3"/>
<rect x="403.7" y="531.9" fill="#f68d8f"/>
<rect x="408.7" y="531.9" fill="#f15457"/>
<rect x="413.6" y="531.9" fill="#ef3539"/>
<rect x="418.6" y="531.9" fill="#f03d40"/>
<rect x="423.5" y="531.9" fill="#f36264"/>
<rect x="428.4" y="531.9" fill="#f58688"/>
<rect x="433.4" y="531.9" fill="#f7999a"/>
<rect x="438.3" y="531.9" fill="#f7a2a4"/>
<rect x="443.3" y="531.9" fill="#f8acae"/>
<rect x="448.2" y="531.9" fill="#f8acae"/>
<rect x="393.9" y="536.8" fill="#fbd3d4"/>
<rect x="398.8" y="536.8" fill="#fbd3d4"/>
<rect x="403.7" y="536.8" fill="#f69092"/>
<rect x="408.7" y="536.8" fill="#f2585b"/>
<rect x="413.6" y="536.8" fill="#ef393d"/>
<rect x="418.6" y="536.8" fill="#f04144"/>
<rect x="423.5" y="536.8" fill="#f36568"/>
<rect x="428.4" y="536.8" fill="#f6898b"/>
<rect x="433.4" y="536.8" fill="#f79b9d"/>
<rect x="438.3" y="536.8" fill="#f8a5a6"/>
<rect x="443.3" y="536.8" fill="#f8aeaf"/>
<rect x="448.2" y="536.8" fill="#f8aeaf"/>
<rect x="393.9" y="541.6" fill="#fbd5d5"/>
<rect x="398.8" y="541.6" fill="#fbd5d5"/>
<rect x="403.7" y="541.6" fill="#f69597"/>
<rect x="408.7" y="541.6" fill="#f26063"/>
<rect x="413.6" y="541.6" fill="#f04447"/>
<rect x="418.6" y="541.6" fill="#f14b4e"/>
<rect x="423.5" y="541.6" fill="#f36e70"/>
<rect x="428.4" y="541.6" fill="#f68f91"/>
<rect x="433.4" y="541.6" fill="#f7a0a2"/>
<rect x="438.3" y="541.6" fill="#f8a8a9"/>
<rect x="443.3" y="541.6" fill="#f8b0b1"/>
<rect x="448.2" y="541.6" fill="#f8b0b1"/>
<rect x="393.9" y="546.4" fill="#fbd6d7"/>
<rect x="398.8" y="546.4" fill="#fbd6d7"/>
<rect x="403.7" y="546.4" fill="#f79d9f"/>
<rect x="408.7" y="546.4" fill="#f47173"/>
<rect x="413.6" y="546.4" fill="#f2595c"/>
<rect x="418.6" y="546.4" fill="#f25f61"/>
<rect x="423.5" y="546.4" fill="#f57c7e"/>
<rect x="428.4" y="546.4" fill="#f7989a"/>
<rect x="433.4" y="546.4" fill="#f8a6a7"/>
<rect x="438.3" y="546.4" fill="#f8acad"/>
<rect x="443.3" y="546.4" fill="#f9b2b4"/>
<rect x="448.2" y="546.4" fill="#f9b2b4"/>
<rect x="393.9" y="551.2" fill="#fcd9d9"/>
<rect x="398.8" y="551.2" fill="#fcd9d9"/>
<rect x="403.7" y="551.2" fill="#f8a8a9"/>
<rect x="408.7" y="551.2" fill="#f58688"/>
<rect x="413.6" y="551.2" fill="#f47577"/>
<rect x="418.6" y="551.2" fill="#f4797b"/>
<rect x="423.5" y="551.2" fill="#f68e90"/>
<rect x="428.4" y="551.2" fill="#f7a2a4"/>
<rect x="433.4" y="551.2" fill="#f8acad"/>
<rect x="438.3" y="551.2" fill="#f9b0b2"/>
<rect x="443.3" y="551.2" fill="#f9b5b6"/>
<rect x="448.2" y="551.2" fill="#f9b5b6"/>
<rect x="393.9" y="556.0" fill="#fce1e2"/>
<rect x="398.8" y="556.0" fill="#fce1e2"/>
<rect x="403.7" y="556.0" fill="#fac0c1"/>
<rect x="408.7" y="556.0" fill="#f8adae"/>
<rect x="413.6" y="556.0" fill="#f8a4a6"/>
<rect x="418.6" y="556.0" fill="#f8a6a8"/>
<rect x="423.5" y="556.0" fill="#f9b1b2"/>
<rect x="428.4" y="556.0" fill="#f9babc"/>
<rect x="433.4" y="556.0" fill="#fabfc0"/>
<rect x="438.3" y="556.0" fill="#fac1c2"/>
<rect x="443.3" y="556.0" fill="#fac4c5"/>
<rect x="448.2" y="556.0" fill="#fac4c5"/>
<rect x="393.9" y="560.8" fill="#fdefef"/>
<rect x="398.8" y="560.8" fill="#fdefef"/>
<rect x="403.7" y="560.8" fill="#fcdedf"/>
<rect x="408.7" y="560.8" fill="#fcd7d8"/>
<rect x="413.6" y="560.8" fill="#fbd5d5"/>
<rect x="418.6" y="560.8" fill="#fbd5d6"/>
<rect x="423.5" y="560.8" fill="#fcd8d9"/>
<rect x="428.4" y="560.8" fill="#fcdbdc"/>
<rect x="433.4" y="560.8" fill="#fcdddd"/>
<rect x="438.3" y="560.8" fill="#fcddde"/>
<rect x="443.3" y="560.8" fill="#fcdedf"/>
<rect x="448.2" y="560.8" fill="#fcdedf"/>
<rect x="393.9" y="565.6" fill="#fdefef"/>
<rect x="398.8" y="565.6" fill="#fdefef"/>
<rect x="403.7" y="565.6" fill="#fcdedf"/>
<rect x="408.7" y="565.6" fill="#fcd7d8"/>
<rect x="413.6" y="565.6" fill="#fbd5d5"/>
<rect x="418.6" y="565.6" fill="#fbd5d6"/>
<rect x="423.5" y="565.6" fill="#fcd8d9"/>
<rect x="428.4" y="565.6" fill="#fcdbdc"/>
<rect x="433.4" y="565.6" fill="#fcdddd"/>
<rect x="438.3" y="565.6" fill="#fcddde"/>
<rect x="443.3" y="565.6" fill="#fcdedf"/>
<rect x="448.2" y="565.6" fill="#fcdedf"/>
</g>
<line x1="408.7" y1="507.9" x2="408.7" y2="565.6" stroke="#666" stroke-width="0.6" stroke-opacity="0.55"/>
<line x1="418.6" y1="507.9" x2="418.6" y2="565.6" stroke="#666" stroke-width="0.6" stroke-opacity="0.55"/>
<line x1="428.4" y1="507.9" x2="428.4" y2="565.6" stroke="#666" stroke-width="0.6" stroke-opacity="0.55"/>
<line x1="438.3" y1="507.9" x2="438.3" y2="565.6" stroke="#666" stroke-width="0.6" stroke-opacity="0.55"/>
<line x1="398.8" y1="522.3" x2="448.2" y2="522.3" stroke="#666" stroke-width="0.6" stroke-opacity="0.55"/>
<line x1="398.8" y1="536.8" x2="448.2" y2="536.8" stroke="#666" stroke-width="0.6" stroke-opacity="0.55"/>
<line x1="398.8" y1="551.2" x2="448.2" y2="551.2" stroke="#666" stroke-width="0.6" stroke-opacity="0.55"/>
</g>
<rect x="398.8" y="507.9" width="49.4" height="57.7" fill="none" stroke="#bdbdbd" stroke-width="0.8"/>
<line x1="398.8" y1="565.6" x2="398.8" y2="510.9" stroke="#111" stroke-width="1.1"/>
<line x1="398.8" y1="565.6" x2="445.2" y2="565.6" stroke="#111" stroke-width="1.1"/>
<path d="M396.6,511.9 L398.8,507.4 L401.0,511.9 Z" fill="#111"/>
<path d="M444.2,563.4 L448.7,565.6 L444.2,567.8 Z" fill="#111"/>
<clipPath id="hc10"><rect x="451.6" y="507.9" width="49.4" height="57.7"/></clipPath>
<g clip-path="url(#hc10)"><rect x="451.6" y="507.9" width="49.4" height="57.7" fill="#fff"/>
<g filter="url(#hb)" class="hc10">
<rect x="446.7" y="503.1" fill="#f9b5b6"/>
<rect x="451.6" y="503.1" fill="#f9b5b6"/>
<rect x="456.5" y="503.1" fill="#f36a6d"/>
<rect x="461.5" y="503.1" fill="#f14f52"/>
<rect x="466.4" y="503.1" fill="#f04246"/>
<rect x="471.4" y="503.1" fill="#ef383b"/>
<rect x="476.3" y="503.1" fill="#ef2f33"/>
<rect x="481.2" y="503.1" fill="#ee292c"/>
<rect x="486.2" y="503.1" fill="#ee262a"/>
<rect x="491.1" y="503.1" fill="#ef2d31"/>
<rect x="496.1" y="503.1" fill="#f03e42"/>
<rect x="501.0" y="503.1" fill="#f03e42"/>
<rect x="446.7" y="507.9" fill="#f9b5b6"/>
<rect x="451.6" y="507.9" fill="#f9b5b6"/>
<rect x="456.5" y="507.9" fill="#f36a6d"/>
<rect x="461.5" y="507.9" fill="#f14f52"/>
<rect x="466.4" y="507.9" fill="#f04246"/>
<rect x="471.4" y="507.9" fill="#ef383b"/>
<rect x="476.3" y="507.9" fill="#ef2f33"/>
<rect x="481.2" y="507.9" fill="#ee292c"/>
<rect x="486.2" y="507.9" fill="#ee262a"/>
<rect x="491.1" y="507.9" fill="#ef2d31"/>
<rect x="496.1" y="507.9" fill="#f03e42"/>
<rect x="501.0" y="507.9" fill="#f03e42"/>
<rect x="446.7" y="512.7" fill="#f9b3b4"/>
<rect x="451.6" y="512.7" fill="#f9b3b4"/>
<rect x="456.5" y="512.7" fill="#f36467"/>
<rect x="461.5" y="512.7" fill="#f04549"/>
<rect x="466.4" y="512.7" fill="#ef373b"/>
<rect x="471.4" y="512.7" fill="#ee2c30"/>
<rect x="476.3" y="512.7" fill="#ee2529"/>
<rect x="481.2" y="512.7" fill="#ee2226"/>
<rect x="486.2" y="512.7" fill="#ee2428"/>
<rect x="491.1" y="512.7" fill="#ef2e32"/>
<rect x="496.1" y="512.7" fill="#f04144"/>
<rect x="501.0" y="512.7" fill="#f04144"/>
<rect x="446.7" y="517.5" fill="#f9b1b3"/>
<rect x="451.6" y="517.5" fill="#f9b1b3"/>
<rect x="456.5" y="517.5" fill="#f26063"/>
<rect x="461.5" y="517.5" fill="#f03f43"/>
<rect x="466.4" y="517.5" fill="#ef3034"/>
<rect x="471.4" y="517.5" fill="#ee262a"/>
<rect x="476.3" y="517.5" fill="#ee2327"/>
<rect x="481.2" y="517.5" fill="#ee2529"/>
<rect x="486.2" y="517.5" fill="#ef2e31"/>
<rect x="491.1" y="517.5" fill="#f03c3f"/>
<rect x="496.1" y="517.5" fill="#f14e51"/>
<rect x="501.0" y="517.5" fill="#f14e51"/>
<rect x="446.7" y="522.3" fill="#f9b1b3"/>
<rect x="451.6" y="522.3" fill="#f9b1b3"/>
<rect x="456.5" y="522.3" fill="#f25f62"/>
<rect x="461.5" y="522.3" fill="#f03e41"/>
<rect x="466.4" y="522.3" fill="#ef2e32"/>
<rect x="471.4" y="522.3" fill="#ee2529"/>
<rect x="476.3" y="522.3" fill="#ee2327"/>
<rect x="481.2" y="522.3" fill="#ee2a2e"/>
<rect x="486.2" y="522.3" fill="#ef373a"/>
<rect x="491.1" y="522.3" fill="#f1474b"/>
<rect x="496.1" y="522.3" fill="#f2595c"/>
<rect x="501.0" y="522.3" fill="#f2595c"/>
<rect x="446.7" y="527.1" fill="#f9b3b5"/>
<rect x="451.6" y="527.1" fill="#f9b3b5"/>
<rect x="456.5" y="527.1" fill="#f36366"/>
<rect x="461.5" y="527.1" fill="#f04245"/>
<rect x="466.4" y="527.1" fill="#ef3236"/>
<rect x="471.4" y="527.1" fill="#ee292d"/>
<rect x="476.3" y="527.1" fill="#ee282c"/>
<rect x="481.2" y="527.1" fill="#ef2f33"/>
<rect x="486.2" y="527.1" fill="#f03d40"/>
<rect x="491.1" y="527.1" fill="#f14e51"/>
<rect x="496.1" y="527.1" fill="#f25f62"/>
<rect x="501.0" y="527.1" fill="#f25f62"/>
<rect x="446.7" y="531.9" fill="#f9b8b9"/>
<rect x="451.6" y="531.9" fill="#f9b8b9"/>
<rect x="456.5" y="531.9" fill="#f36c6e"/>
<rect x="461.5" y="531.9" fill="#f14c4f"/>
<rect x="466.4" y="531.9" fill="#f03c3f"/>
<rect x="471.4" y="531.9" fill="#ef3236"/>
<rect x="476.3" y="531.9" fill="#ef3134"/>
<rect x="481.2" y="531.9" fill="#ef373b"/>
<rect x="486.2" y="531.9" fill="#f04548"/>
<rect x="491.1" y="531.9" fill="#f25659"/>
<rect x="496.1" y="531.9" fill="#f36769"/>
<rect x="501.0" y="531.9" fill="#f36769"/>
<rect x="446.7" y="536.8" fill="#fabfc0"/>
<rect x="451.6" y="536.8" fill="#fabfc0"/>
<rect x="456.5" y="536.8" fill="#f47a7d"/>
<rect x="461.5" y="536.8" fill="#f25c5e"/>
<rect x="466.4" y="536.8" fill="#f14b4f"/>
<rect x="471.4" y="536.8" fill="#f04144"/>
<rect x="476.3" y="536.8" fill="#f03e41"/>
<rect x="481.2" y="536.8" fill="#f04346"/>
<rect x="486.2" y="536.8" fill="#f14f53"/>
<rect x="491.1" y="536.8" fill="#f36265"/>
<rect x="496.1" y="536.8" fill="#f47577"/>
<rect x="501.0" y="536.8" fill="#f47577"/>
<rect x="446.7" y="541.6" fill="#fac9ca"/>
<rect x="451.6" y="541.6" fill="#fac9ca"/>
<rect x="456.5" y="541.6" fill="#f68d8f"/>
<rect x="461.5" y="541.6" fill="#f47073"/>
<rect x="466.4" y="541.6" fill="#f25f62"/>
<rect x="471.4" y="541.6" fill="#f15356"/>
<rect x="476.3" y="541.6" fill="#f14e51"/>
<rect x="481.2" y="541.6" fill="#f15154"/>
<rect x="486.2" y="541.6" fill="#f25d60"/>
<rect x="491.1" y="541.6" fill="#f47476"/>
<rect x="496.1" y="541.6" fill="#f68b8d"/>
<rect x="501.0" y="541.6" fill="#f68b8d"/>
<rect x="446.7" y="546.4" fill="#fbd4d5"/>
<rect x="451.6" y="546.4" fill="#fbd4d5"/>
<rect x="456.5" y="546.4" fill="#f8a4a5"/>
<rect x="461.5" y="546.4" fill="#f5878a"/>
<rect x="466.4" y="546.4" fill="#f47476"/>
<rect x="471.4" y="546.4" fill="#f36668"/>
<rect x="476.3" y="546.4" fill="#f25f62"/>
<rect x="481.2" y="546.4" fill="#f26063"/>
<rect x="486.2" y="546.4" fill="#f36c6e"/>
<rect x="491.1" y="546.4" fill="#f58789"/>
<rect x="496.1" y="546.4" fill="#f8a6a7"/>
<rect x="501.0" y="546.4" fill="#f8a6a7"/>
<rect x="446.7" y="551.2" fill="#fce0e0"/>
<rect x="451.6" y="551.2" fill="#fce0e0"/>
<rect x="456.5" y="551.2" fill="#f9babb"/>
<rect x="461.5" y="551.2" fill="#f79ea0"/>
<rect x="466.4" y="551.2" fill="#f5888a"/>
<rect x="471.4" y="551.2" fill="#f4777a"/>
<rect x="476.3" y="551.2" fill="#f36e70"/>
<rect x="481.2" y="551.2" fill="#f36d6f"/>
<rect x="486.2" y="551.2" fill="#f4787a"/>
<rect x="491.1" y="551.2" fill="#f69597"/>
<rect x="496.1" y="551.2" fill="#f9b7b8"/>
<rect x="501.0" y="551.2" fill="#f9b7b8"/>
<rect x="446.7" y="556.0" fill="#fdeded"/>
<rect x="451.6" y="556.0" fill="#fdeded"/>
<rect x="456.5" y="556.0" fill="#fbd5d6"/>
<rect x="461.5" y="556.0" fill="#fabebf"/>
<rect x="466.4" y="556.0" fill="#f8abac"/>
<rect x="471.4" y="556.0" fill="#f79b9d"/>
<rect x="476.3" y="556.0" fill="#f69294"/>
<rect x="481.2" y="556.0" fill="#f69092"/>
<rect x="486.2" y="556.0" fill="#f79698"/>
<rect x="491.1" y="556.0" fill="#f8aaac"/>
<rect x="496.1" y="556.0" fill="#fac1c2"/>
<rect x="501.0" y="556.0" fill="#fac1c2"/>
<rect x="446.7" y="560.8" fill="#fef7f7"/>
<rect x="451.6" y="560.8" fill="#fef7f7"/>
<rect x="456.5" y="560.8" fill="#fdebec"/>
<rect x="461.5" y="560.8" fill="#fcdfe0"/>
<rect x="466.4" y="560.8" fill="#fbd4d5"/>
<rect x="471.4" y="560.8" fill="#fbcbcc"/>
<rect x="476.3" y="560.8" fill="#fac6c7"/>
<rect x="481.2" y="560.8" fill="#fac3c4"/>
<rect x="486.2" y="560.8" fill="#fac5c6"/>
<rect x="491.1" y="560.8" fill="#fbcccd"/>
<rect x="496.1" y="560.8" fill="#fbd4d5"/>
<rect x="501.0" y="560.8" fill="#fbd4d5"/>
<rect x="446.7" y="565.6" fill="#fef7f7"/>
<rect x="451.6" y="565.6" fill="#fef7f7"/>
<rect x="456.5" y="565.6" fill="#fdebec"/>
<rect x="461.5" y="565.6" fill="#fcdfe0"/>
<rect x="466.4" y="565.6" fill="#fbd4d5"/>
<rect x="471.4" y="565.6" fill="#fbcbcc"/>
<rect x="476.3" y="565.6" fill="#fac6c7"/>
<rect x="481.2" y="565.6" fill="#fac3c4"/>
<rect x="486.2" y="565.6" fill="#fac5c6"/>
<rect x="491.1" y="565.6" fill="#fbcccd"/>
<rect x="496.1" y="565.6" fill="#fbd4d5"/>
<rect x="501.0" y="565.6" fill="#fbd4d5"/>
</g>
<line x1="461.5" y1="507.9" x2="461.5" y2="565.6" stroke="#666" stroke-width="0.6" stroke-opacity="0.55"/>
<line x1="471.4" y1="507.9" x2="471.4" y2="565.6" stroke="#666" stroke-width="0.6" stroke-opacity="0.55"/>
<line x1="481.2" y1="507.9" x2="481.2" y2="565.6" stroke="#666" stroke-width="0.6" stroke-opacity="0.55"/>
<line x1="491.1" y1="507.9" x2="491.1" y2="565.6" stroke="#666" stroke-width="0.6" stroke-opacity="0.55"/>
<line x1="451.6" y1="522.3" x2="501.0" y2="522.3" stroke="#666" stroke-width="0.6" stroke-opacity="0.55"/>
<line x1="451.6" y1="536.8" x2="501.0" y2="536.8" stroke="#666" stroke-width="0.6" stroke-opacity="0.55"/>
<line x1="451.6" y1="551.2" x2="501.0" y2="551.2" stroke="#666" stroke-width="0.6" stroke-opacity="0.55"/>
</g>
<rect x="451.6" y="507.9" width="49.4" height="57.7" fill="none" stroke="#bdbdbd" stroke-width="0.8"/>
<line x1="451.6" y1="565.6" x2="451.6" y2="510.9" stroke="#111" stroke-width="1.1"/>
<line x1="451.6" y1="565.6" x2="498.0" y2="565.6" stroke="#111" stroke-width="1.1"/>
<path d="M449.4,511.9 L451.6,507.4 L453.8,511.9 Z" fill="#111"/>
<path d="M497.0,563.4 L501.5,565.6 L497.0,567.8 Z" fill="#111"/>
<rect x="503.3" y="430.2" width="3.8" height="54.4" fill="url(#cbg)" stroke="#bbb" stroke-width="0.3"/>
<line x1="507.1" y1="430.2" x2="508.6" y2="430.2" stroke="#444" stroke-width="0.4"/>
<text x="508.8" y="431.7" font-size="4.4" fill="#333" style="stroke-width:0.08px">20</text>
<line x1="507.1" y1="443.8" x2="508.6" y2="443.8" stroke="#444" stroke-width="0.4"/>
<text x="508.8" y="445.3" font-size="4.4" fill="#333" style="stroke-width:0.08px">10</text>
<line x1="507.1" y1="457.4" x2="508.6" y2="457.4" stroke="#444" stroke-width="0.4"/>
<text x="508.8" y="458.9" font-size="4.4" fill="#333" style="stroke-width:0.08px">0</text>
<line x1="507.1" y1="471.0" x2="508.6" y2="471.0" stroke="#444" stroke-width="0.4"/>
<text x="508.8" y="472.5" font-size="4.4" fill="#333" style="stroke-width:0.08px">-10</text>
<line x1="507.1" y1="484.6" x2="508.6" y2="484.6" stroke="#444" stroke-width="0.4"/>
<text x="508.8" y="486.1" font-size="4.4" fill="#333" style="stroke-width:0.08px">-20</text>
<text transform="translate(514.6,457.4) rotate(90)" font-size="3.9600000000000004" text-anchor="middle" fill="#333" style="stroke-width:0.08px">δ-score</text>
<rect x="503.3" y="508.7" width="3.8" height="54.8" fill="url(#cbg)" stroke="#bbb" stroke-width="0.3"/>
<line x1="507.1" y1="508.7" x2="508.6" y2="508.7" stroke="#444" stroke-width="0.4"/>
<text x="508.8" y="510.2" font-size="4.4" fill="#333" style="stroke-width:0.08px">20</text>
<line x1="507.1" y1="522.4" x2="508.6" y2="522.4" stroke="#444" stroke-width="0.4"/>
<text x="508.8" y="523.9" font-size="4.4" fill="#333" style="stroke-width:0.08px">10</text>
<line x1="507.1" y1="536.1" x2="508.6" y2="536.1" stroke="#444" stroke-width="0.4"/>
<text x="508.8" y="537.6" font-size="4.4" fill="#333" style="stroke-width:0.08px">0</text>
<line x1="507.1" y1="549.8" x2="508.6" y2="549.8" stroke="#444" stroke-width="0.4"/>
<text x="508.8" y="551.3" font-size="4.4" fill="#333" style="stroke-width:0.08px">-10</text>
<line x1="507.1" y1="563.5" x2="508.6" y2="563.5" stroke="#444" stroke-width="0.4"/>
<text x="508.8" y="565.0" font-size="4.4" fill="#333" style="stroke-width:0.08px">-20</text>
<text transform="translate(514.6,536.1) rotate(90)" font-size="3.9600000000000004" text-anchor="middle" fill="#333" style="stroke-width:0.08px">δ-score</text>
<text x="422.6" y="574.2" font-size="7.8" text-anchor="middle" fill="#222">(ONC201)</text>
<text x="475.8" y="574.2" font-size="7.8" text-anchor="middle" fill="#222">(ONC201)</text>
<text transform="translate(396.4,457.0) rotate(-90)" font-size="7.7" text-anchor="middle" fill="#222">[paxalisib]</text>
<text transform="translate(396.4,536.2) rotate(-90)" font-size="7.7" text-anchor="middle" fill="#222">[paxalisib]</text>
</svg>
</body></html>
